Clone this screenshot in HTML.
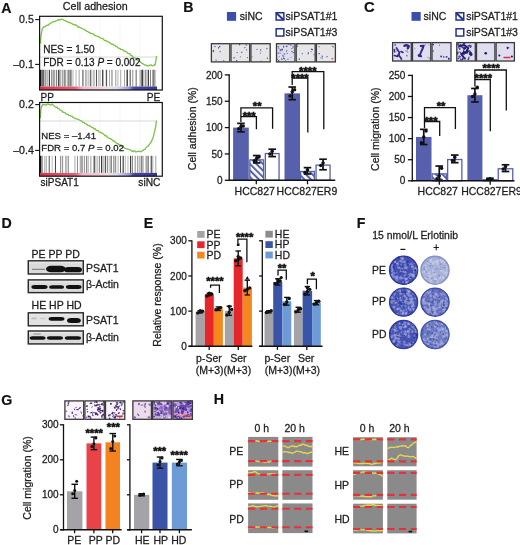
<!DOCTYPE html>
<html><head><meta charset="utf-8"><title>Figure</title>
<style>html,body{margin:0;padding:0;background:#fff;}body{width:520px;height:545px;overflow:hidden;}svg{display:block;filter:blur(0.3px);}</style>
</head><body>
<svg width="520" height="545" viewBox="0 0 520 545" font-family="'Liberation Sans', Arial, sans-serif"><text x="1.30" y="12.60" font-size="14.2" text-anchor="start" font-weight="bold" fill="#111" stroke="#111" stroke-width="0.2" >A</text>
<text x="183.30" y="12.40" font-size="14.2" text-anchor="start" font-weight="bold" fill="#111" stroke="#111" stroke-width="0.2" >B</text>
<text x="363.90" y="12.10" font-size="14.8" text-anchor="start" font-weight="bold" fill="#111" stroke="#111" stroke-width="0.2" >C</text>
<text x="1.50" y="228.30" font-size="14.2" text-anchor="start" font-weight="bold" fill="#111" stroke="#111" stroke-width="0.2" >D</text>
<text x="143.80" y="228.30" font-size="14.2" text-anchor="start" font-weight="bold" fill="#111" stroke="#111" stroke-width="0.2" >E</text>
<text x="356.80" y="228.30" font-size="14.2" text-anchor="start" font-weight="bold" fill="#111" stroke="#111" stroke-width="0.2" >F</text>
<text x="1.20" y="405.30" font-size="14.2" text-anchor="start" font-weight="bold" fill="#111" stroke="#111" stroke-width="0.2" >G</text>
<text x="213.80" y="403.90" font-size="14.2" text-anchor="start" font-weight="bold" fill="#111" stroke="#111" stroke-width="0.2" >H</text>
<text x="95.20" y="10.20" font-size="10.7" text-anchor="middle" font-weight="normal" fill="#1e1e1e" stroke="#1e1e1e" stroke-width="0.28" >Cell adhesion</text>
<line x1="60.00" y1="17.30" x2="60.00" y2="69.80" stroke="#f1f1f1" stroke-width="0.6" />
<line x1="80.00" y1="17.30" x2="80.00" y2="69.80" stroke="#f1f1f1" stroke-width="0.6" />
<line x1="100.00" y1="17.30" x2="100.00" y2="69.80" stroke="#f1f1f1" stroke-width="0.6" />
<line x1="120.00" y1="17.30" x2="120.00" y2="69.80" stroke="#f1f1f1" stroke-width="0.6" />
<line x1="140.00" y1="17.30" x2="140.00" y2="69.80" stroke="#f1f1f1" stroke-width="0.6" />
<line x1="39.60" y1="57.00" x2="157.00" y2="57.00" stroke="#cfcfcf" stroke-width="0.8" />
<line x1="40.60" y1="69.80" x2="40.60" y2="86.50" stroke="#111" stroke-width="1.6" />
<line x1="42.20" y1="69.80" x2="42.20" y2="86.50" stroke="rgb(60,60,60)" stroke-width="1.1" />
<line x1="43.78" y1="69.80" x2="43.78" y2="86.50" stroke="rgb(60,60,60)" stroke-width="1.1" />
<line x1="45.82" y1="69.80" x2="45.82" y2="86.50" stroke="rgb(40,40,40)" stroke-width="0.7" />
<line x1="47.88" y1="69.80" x2="47.88" y2="86.50" stroke="rgb(130,130,130)" stroke-width="0.9" />
<line x1="49.51" y1="69.80" x2="49.51" y2="86.50" stroke="rgb(40,40,40)" stroke-width="0.9" />
<line x1="51.70" y1="69.80" x2="51.70" y2="86.50" stroke="rgb(130,130,130)" stroke-width="1.1" />
<line x1="53.26" y1="69.80" x2="53.26" y2="86.50" stroke="rgb(110,110,110)" stroke-width="0.9" />
<line x1="54.41" y1="69.80" x2="54.41" y2="86.50" stroke="rgb(170,170,170)" stroke-width="1.1" />
<line x1="56.48" y1="69.80" x2="56.48" y2="86.50" stroke="rgb(130,130,130)" stroke-width="1.3" />
<line x1="58.81" y1="69.80" x2="58.81" y2="86.50" stroke="rgb(40,40,40)" stroke-width="1.3" />
<line x1="60.77" y1="69.80" x2="60.77" y2="86.50" stroke="rgb(110,110,110)" stroke-width="0.7" />
<line x1="62.55" y1="69.80" x2="62.55" y2="86.50" stroke="rgb(150,150,150)" stroke-width="0.9" />
<line x1="64.24" y1="69.80" x2="64.24" y2="86.50" stroke="rgb(110,110,110)" stroke-width="1.1" />
<line x1="65.60" y1="69.80" x2="65.60" y2="86.50" stroke="rgb(170,170,170)" stroke-width="1.3" />
<line x1="67.57" y1="69.80" x2="67.57" y2="86.50" stroke="rgb(190,190,190)" stroke-width="1.3" />
<line x1="68.95" y1="69.80" x2="68.95" y2="86.50" stroke="rgb(40,40,40)" stroke-width="0.9" />
<line x1="70.90" y1="69.80" x2="70.90" y2="86.50" stroke="rgb(60,60,60)" stroke-width="1.1" />
<line x1="72.98" y1="69.80" x2="72.98" y2="86.50" stroke="rgb(150,150,150)" stroke-width="0.7" />
<line x1="76.02" y1="69.80" x2="76.02" y2="86.50" stroke="rgb(150,150,150)" stroke-width="0.7" />
<line x1="79.16" y1="69.80" x2="79.16" y2="86.50" stroke="rgb(170,170,170)" stroke-width="1.1" />
<line x1="82.92" y1="69.80" x2="82.92" y2="86.50" stroke="rgb(85,85,85)" stroke-width="1.1" />
<line x1="85.96" y1="69.80" x2="85.96" y2="86.50" stroke="rgb(60,60,60)" stroke-width="0.7" />
<line x1="88.19" y1="69.80" x2="88.19" y2="86.50" stroke="rgb(190,190,190)" stroke-width="1.3" />
<line x1="90.32" y1="69.80" x2="90.32" y2="86.50" stroke="rgb(60,60,60)" stroke-width="0.9" />
<line x1="91.83" y1="69.80" x2="91.83" y2="86.50" stroke="rgb(150,150,150)" stroke-width="0.7" />
<line x1="93.98" y1="69.80" x2="93.98" y2="86.50" stroke="rgb(150,150,150)" stroke-width="1.1" />
<line x1="96.46" y1="69.80" x2="96.46" y2="86.50" stroke="rgb(60,60,60)" stroke-width="0.9" />
<line x1="98.50" y1="69.80" x2="98.50" y2="86.50" stroke="rgb(170,170,170)" stroke-width="0.7" />
<line x1="100.03" y1="69.80" x2="100.03" y2="86.50" stroke="rgb(150,150,150)" stroke-width="0.9" />
<line x1="102.73" y1="69.80" x2="102.73" y2="86.50" stroke="rgb(60,60,60)" stroke-width="1.3" />
<line x1="106.45" y1="69.80" x2="106.45" y2="86.50" stroke="rgb(85,85,85)" stroke-width="1.3" />
<line x1="109.50" y1="69.80" x2="109.50" y2="86.50" stroke="rgb(130,130,130)" stroke-width="0.7" />
<line x1="111.95" y1="69.80" x2="111.95" y2="86.50" stroke="rgb(150,150,150)" stroke-width="1.3" />
<line x1="115.75" y1="69.80" x2="115.75" y2="86.50" stroke="rgb(110,110,110)" stroke-width="0.7" />
<line x1="117.94" y1="69.80" x2="117.94" y2="86.50" stroke="rgb(150,150,150)" stroke-width="0.7" />
<line x1="120.71" y1="69.80" x2="120.71" y2="86.50" stroke="rgb(130,130,130)" stroke-width="0.7" />
<line x1="124.53" y1="69.80" x2="124.53" y2="86.50" stroke="rgb(130,130,130)" stroke-width="0.7" />
<line x1="127.19" y1="69.80" x2="127.19" y2="86.50" stroke="rgb(40,40,40)" stroke-width="1.3" />
<line x1="130.19" y1="69.80" x2="130.19" y2="86.50" stroke="rgb(85,85,85)" stroke-width="1.1" />
<line x1="132.77" y1="69.80" x2="132.77" y2="86.50" stroke="rgb(130,130,130)" stroke-width="0.9" />
<line x1="136.16" y1="69.80" x2="136.16" y2="86.50" stroke="rgb(110,110,110)" stroke-width="1.1" />
<line x1="140.07" y1="69.80" x2="140.07" y2="86.50" stroke="rgb(110,110,110)" stroke-width="0.7" />
<line x1="141.39" y1="69.80" x2="141.39" y2="86.50" stroke="rgb(40,40,40)" stroke-width="0.7" />
<line x1="142.66" y1="69.80" x2="142.66" y2="86.50" stroke="rgb(60,60,60)" stroke-width="1.3" />
<line x1="145.27" y1="69.80" x2="145.27" y2="86.50" stroke="rgb(130,130,130)" stroke-width="1.1" />
<line x1="146.70" y1="69.80" x2="146.70" y2="86.50" stroke="rgb(190,190,190)" stroke-width="1.1" />
<line x1="148.32" y1="69.80" x2="148.32" y2="86.50" stroke="rgb(40,40,40)" stroke-width="1.1" />
<line x1="150.48" y1="69.80" x2="150.48" y2="86.50" stroke="rgb(110,110,110)" stroke-width="0.9" />
<line x1="152.60" y1="69.80" x2="152.60" y2="86.50" stroke="rgb(150,150,150)" stroke-width="0.9" />
<line x1="153.92" y1="69.80" x2="153.92" y2="86.50" stroke="rgb(60,60,60)" stroke-width="1.1" />
<line x1="155.21" y1="69.80" x2="155.21" y2="86.50" stroke="rgb(170,170,170)" stroke-width="0.9" />
<rect x="40.10" y="86.50" width="116.90" height="3.50" fill="url(#gseaGrad)"/>
<path d="M40.20,43.74 L40.60,40.04 L41.00,35.87 L41.60,32.60 L42.20,29.13 L43.10,27.57 L44.00,26.51 L45.00,26.84 L46.00,25.76 L47.00,25.23 L48.00,25.33 L49.00,24.14 L50.00,23.84 L51.00,22.98 L52.00,22.64 L53.00,21.65 L54.00,21.63 L55.00,21.49 L56.00,20.77 L57.00,20.62 L58.00,20.17 L59.00,19.36 L60.00,19.86 L61.00,19.49 L62.00,19.40 L63.00,19.33 L64.00,20.37 L65.00,20.41 L66.00,21.09 L67.00,21.68 L68.00,21.95 L69.00,22.59 L70.00,22.49 L71.00,23.39 L72.00,23.52 L73.00,24.51 L74.00,24.94 L75.00,24.65 L76.00,25.18 L77.00,25.75 L78.00,26.99 L79.00,26.95 L80.00,27.63 L81.00,27.80 L82.00,28.51 L83.00,28.89 L84.00,29.35 L85.00,30.09 L86.00,30.58 L87.00,31.40 L88.00,31.68 L89.00,32.43 L90.00,32.86 L91.00,33.49 L92.00,33.67 L93.00,33.66 L94.00,34.86 L95.00,35.46 L96.00,35.90 L97.00,36.07 L98.00,36.71 L99.00,36.71 L100.00,37.83 L101.00,38.12 L102.00,38.38 L103.00,38.71 L104.00,40.05 L105.00,40.74 L106.00,40.39 L107.00,41.65 L108.00,41.81 L109.00,42.10 L110.00,42.79 L111.00,43.82 L112.00,44.47 L113.00,44.19 L114.00,45.31 L115.00,45.29 L116.00,46.52 L117.00,46.68 L118.00,47.78 L119.00,48.43 L120.00,48.51 L121.00,49.60 L122.00,49.51 L123.00,49.88 L124.00,51.00 L125.00,51.03 L126.00,51.80 L127.00,52.61 L128.00,53.41 L129.00,53.56 L130.00,54.04 L131.00,55.56 L132.00,55.69 L133.00,57.02 L134.00,57.65 L135.00,57.82 L136.00,58.59 L137.00,59.33 L138.00,60.14 L139.00,60.85 L140.00,61.56 L141.00,62.37 L142.00,63.44 L143.00,63.76 L144.00,64.43 L145.00,65.15 L146.00,65.10 L147.00,65.60 L148.00,66.08 L149.00,65.42 L150.00,65.25 L151.00,64.91 L152.00,65.52 L153.00,65.88 L154.00,64.92 L155.00,65.12 L155.50,62.63 L156.00,59.56 L156.30,58.13 L156.60,56.00" stroke="#7cc144" stroke-width="1.3" fill="none" stroke-linejoin="round"/>
<rect x="39.60" y="16.30" width="122.70" height="73.70" fill="none" stroke="#111" stroke-width="1.2" />
<line x1="35.20" y1="19.60" x2="39.60" y2="19.60" stroke="#111" stroke-width="1.1" />
<text x="33.80" y="23.40" font-size="10.6" text-anchor="end" font-weight="normal" fill="#1e1e1e" stroke="#1e1e1e" stroke-width="0.28" >0.5</text>
<line x1="35.20" y1="64.40" x2="39.60" y2="64.40" stroke="#111" stroke-width="1.1" />
<text x="33.80" y="68.20" font-size="10.6" text-anchor="end" font-weight="normal" fill="#1e1e1e" stroke="#1e1e1e" stroke-width="0.28" >–0.1</text>
<text x="43.20" y="53.00" font-size="10" text-anchor="start" font-weight="normal" fill="#1e1e1e" stroke="#1e1e1e" stroke-width="0.28" >NES = 1.50</text>
<text x="43.20" y="66.00" font-size="10" fill="#1e1e1e" stroke="#1e1e1e" stroke-width="0.28">FDR = 0.13 <tspan font-style="italic">P</tspan> = 0.002</text>
<text x="40.60" y="100.60" font-size="10" text-anchor="start" font-weight="normal" fill="#1e1e1e" stroke="#1e1e1e" stroke-width="0.28" >PP</text>
<text x="160.40" y="100.60" font-size="10.2" text-anchor="end" font-weight="normal" fill="#1e1e1e" stroke="#1e1e1e" stroke-width="0.28" >PE</text>
<line x1="60.00" y1="103.50" x2="60.00" y2="155.80" stroke="#f1f1f1" stroke-width="0.6" />
<line x1="80.00" y1="103.50" x2="80.00" y2="155.80" stroke="#f1f1f1" stroke-width="0.6" />
<line x1="100.00" y1="103.50" x2="100.00" y2="155.80" stroke="#f1f1f1" stroke-width="0.6" />
<line x1="120.00" y1="103.50" x2="120.00" y2="155.80" stroke="#f1f1f1" stroke-width="0.6" />
<line x1="140.00" y1="103.50" x2="140.00" y2="155.80" stroke="#f1f1f1" stroke-width="0.6" />
<line x1="39.60" y1="121.00" x2="157.00" y2="121.00" stroke="#cfcfcf" stroke-width="0.8" />
<line x1="40.60" y1="155.80" x2="40.60" y2="172.90" stroke="#111" stroke-width="1.6" />
<line x1="42.20" y1="155.80" x2="42.20" y2="172.90" stroke="rgb(130,130,130)" stroke-width="1.1" />
<line x1="44.84" y1="155.80" x2="44.84" y2="172.90" stroke="rgb(170,170,170)" stroke-width="1.1" />
<line x1="46.44" y1="155.80" x2="46.44" y2="172.90" stroke="rgb(170,170,170)" stroke-width="0.9" />
<line x1="49.22" y1="155.80" x2="49.22" y2="172.90" stroke="rgb(60,60,60)" stroke-width="0.9" />
<line x1="52.18" y1="155.80" x2="52.18" y2="172.90" stroke="rgb(190,190,190)" stroke-width="1.1" />
<line x1="55.46" y1="155.80" x2="55.46" y2="172.90" stroke="rgb(40,40,40)" stroke-width="0.9" />
<line x1="60.68" y1="155.80" x2="60.68" y2="172.90" stroke="rgb(110,110,110)" stroke-width="0.9" />
<line x1="62.61" y1="155.80" x2="62.61" y2="172.90" stroke="rgb(85,85,85)" stroke-width="0.7" />
<line x1="65.92" y1="155.80" x2="65.92" y2="172.90" stroke="rgb(150,150,150)" stroke-width="1.3" />
<line x1="68.22" y1="155.80" x2="68.22" y2="172.90" stroke="rgb(60,60,60)" stroke-width="0.7" />
<line x1="74.95" y1="155.80" x2="74.95" y2="172.90" stroke="rgb(130,130,130)" stroke-width="0.7" />
<line x1="77.49" y1="155.80" x2="77.49" y2="172.90" stroke="rgb(130,130,130)" stroke-width="0.9" />
<line x1="80.29" y1="155.80" x2="80.29" y2="172.90" stroke="rgb(110,110,110)" stroke-width="0.7" />
<line x1="82.00" y1="155.80" x2="82.00" y2="172.90" stroke="rgb(60,60,60)" stroke-width="0.9" />
<line x1="84.38" y1="155.80" x2="84.38" y2="172.90" stroke="rgb(130,130,130)" stroke-width="0.9" />
<line x1="86.62" y1="155.80" x2="86.62" y2="172.90" stroke="rgb(130,130,130)" stroke-width="1.1" />
<line x1="88.20" y1="155.80" x2="88.20" y2="172.90" stroke="rgb(130,130,130)" stroke-width="0.7" />
<line x1="90.87" y1="155.80" x2="90.87" y2="172.90" stroke="rgb(110,110,110)" stroke-width="0.7" />
<line x1="94.17" y1="155.80" x2="94.17" y2="172.90" stroke="rgb(40,40,40)" stroke-width="1.1" />
<line x1="95.93" y1="155.80" x2="95.93" y2="172.90" stroke="rgb(130,130,130)" stroke-width="0.7" />
<line x1="97.81" y1="155.80" x2="97.81" y2="172.90" stroke="rgb(150,150,150)" stroke-width="0.7" />
<line x1="99.52" y1="155.80" x2="99.52" y2="172.90" stroke="rgb(130,130,130)" stroke-width="0.9" />
<line x1="101.63" y1="155.80" x2="101.63" y2="172.90" stroke="rgb(60,60,60)" stroke-width="1.3" />
<line x1="103.81" y1="155.80" x2="103.81" y2="172.90" stroke="rgb(130,130,130)" stroke-width="0.7" />
<line x1="105.44" y1="155.80" x2="105.44" y2="172.90" stroke="rgb(85,85,85)" stroke-width="1.1" />
<line x1="107.46" y1="155.80" x2="107.46" y2="172.90" stroke="rgb(150,150,150)" stroke-width="1.3" />
<line x1="109.27" y1="155.80" x2="109.27" y2="172.90" stroke="rgb(170,170,170)" stroke-width="0.7" />
<line x1="111.16" y1="155.80" x2="111.16" y2="172.90" stroke="rgb(110,110,110)" stroke-width="1.3" />
<line x1="113.83" y1="155.80" x2="113.83" y2="172.90" stroke="rgb(130,130,130)" stroke-width="1.1" />
<line x1="115.56" y1="155.80" x2="115.56" y2="172.90" stroke="rgb(150,150,150)" stroke-width="1.3" />
<line x1="118.11" y1="155.80" x2="118.11" y2="172.90" stroke="rgb(170,170,170)" stroke-width="0.9" />
<line x1="120.52" y1="155.80" x2="120.52" y2="172.90" stroke="rgb(60,60,60)" stroke-width="0.9" />
<line x1="123.19" y1="155.80" x2="123.19" y2="172.90" stroke="rgb(85,85,85)" stroke-width="1.3" />
<line x1="125.27" y1="155.80" x2="125.27" y2="172.90" stroke="rgb(190,190,190)" stroke-width="1.1" />
<line x1="127.98" y1="155.80" x2="127.98" y2="172.90" stroke="rgb(190,190,190)" stroke-width="1.1" />
<line x1="130.56" y1="155.80" x2="130.56" y2="172.90" stroke="rgb(60,60,60)" stroke-width="1.1" />
<line x1="132.37" y1="155.80" x2="132.37" y2="172.90" stroke="rgb(130,130,130)" stroke-width="1.1" />
<line x1="135.20" y1="155.80" x2="135.20" y2="172.90" stroke="rgb(150,150,150)" stroke-width="1.1" />
<line x1="137.76" y1="155.80" x2="137.76" y2="172.90" stroke="rgb(85,85,85)" stroke-width="0.7" />
<line x1="139.90" y1="155.80" x2="139.90" y2="172.90" stroke="rgb(130,130,130)" stroke-width="0.9" />
<line x1="141.87" y1="155.80" x2="141.87" y2="172.90" stroke="rgb(40,40,40)" stroke-width="0.9" />
<line x1="143.45" y1="155.80" x2="143.45" y2="172.90" stroke="rgb(190,190,190)" stroke-width="0.9" />
<line x1="146.18" y1="155.80" x2="146.18" y2="172.90" stroke="rgb(130,130,130)" stroke-width="1.1" />
<line x1="148.09" y1="155.80" x2="148.09" y2="172.90" stroke="rgb(40,40,40)" stroke-width="0.9" />
<line x1="151.24" y1="155.80" x2="151.24" y2="172.90" stroke="rgb(60,60,60)" stroke-width="1.1" />
<line x1="152.77" y1="155.80" x2="152.77" y2="172.90" stroke="rgb(130,130,130)" stroke-width="0.7" />
<line x1="155.80" y1="155.80" x2="155.80" y2="172.90" stroke="rgb(170,170,170)" stroke-width="1.1" />
<rect x="40.10" y="172.90" width="116.90" height="3.30" fill="url(#gseaGrad)"/>
<path d="M40.30,118.12 L40.55,114.24 L40.80,110.30 L41.10,108.69 L41.40,106.74 L41.95,106.17 L42.50,104.53 L43.25,104.67 L44.00,104.84 L45.00,104.75 L46.00,105.20 L47.00,104.11 L48.00,104.17 L49.00,104.35 L50.00,105.04 L51.00,104.87 L52.00,104.11 L53.00,104.92 L54.00,105.58 L55.00,106.82 L56.00,107.27 L57.00,107.26 L58.00,108.50 L59.00,108.66 L60.00,109.97 L61.00,110.30 L62.00,111.00 L63.00,112.37 L64.00,112.21 L65.00,112.72 L66.00,113.98 L67.00,114.37 L68.00,114.29 L69.00,115.46 L70.00,115.54 L71.00,116.18 L72.00,116.20 L73.00,117.44 L74.00,117.69 L75.00,118.47 L76.00,118.89 L77.00,118.80 L78.00,119.36 L79.00,119.73 L80.00,120.27 L81.00,120.75 L82.00,121.55 L83.00,122.42 L84.00,122.38 L85.00,123.62 L86.00,123.84 L87.00,124.37 L88.00,125.44 L89.00,125.67 L90.00,126.07 L91.00,126.79 L92.00,127.58 L93.00,127.49 L94.00,128.98 L95.00,128.65 L96.00,130.00 L97.00,130.72 L98.00,130.52 L99.00,131.91 L100.00,132.12 L101.00,132.95 L102.00,133.01 L103.00,133.67 L104.00,134.43 L105.00,135.83 L106.00,135.70 L107.00,136.88 L108.00,137.68 L109.00,138.32 L110.00,138.34 L111.00,139.02 L112.00,139.86 L113.00,140.78 L114.00,140.77 L115.00,142.08 L116.00,142.80 L117.00,143.53 L118.00,143.37 L119.00,144.95 L120.00,144.76 L121.00,145.67 L122.00,146.61 L123.00,147.42 L124.00,147.34 L125.00,148.42 L126.00,148.55 L127.00,148.81 L128.00,149.22 L129.00,149.48 L130.00,149.78 L131.00,150.25 L132.00,151.19 L133.00,151.62 L134.00,150.90 L135.00,150.91 L136.00,151.97 L137.00,151.63 L138.00,151.46 L139.00,151.24 L140.00,151.54 L141.00,151.73 L142.00,150.89 L143.00,150.39 L144.00,149.56 L145.00,149.42 L146.00,147.53 L147.00,146.99 L148.25,146.09 L149.50,144.13 L150.50,142.98 L151.50,141.45 L152.45,138.88 L153.40,136.79 L154.10,133.36 L154.80,130.93 L155.30,128.15 L155.80,126.34 L156.10,123.04 L156.40,120.50" stroke="#7cc144" stroke-width="1.3" fill="none" stroke-linejoin="round"/>
<rect x="39.60" y="102.50" width="122.70" height="73.70" fill="none" stroke="#111" stroke-width="1.2" />
<line x1="35.20" y1="104.60" x2="39.60" y2="104.60" stroke="#111" stroke-width="1.1" />
<text x="33.80" y="108.40" font-size="10.6" text-anchor="end" font-weight="normal" fill="#1e1e1e" stroke="#1e1e1e" stroke-width="0.28" >0.2</text>
<line x1="35.20" y1="150.40" x2="39.60" y2="150.40" stroke="#111" stroke-width="1.1" />
<text x="33.80" y="154.20" font-size="10.6" text-anchor="end" font-weight="normal" fill="#1e1e1e" stroke="#1e1e1e" stroke-width="0.28" >–0.4</text>
<text x="41.30" y="138.60" font-size="9.6" text-anchor="start" font-weight="normal" fill="#1e1e1e" stroke="#1e1e1e" stroke-width="0.28" >NES = –1.41</text>
<text x="41.30" y="151.20" font-size="9.6" fill="#1e1e1e" stroke="#1e1e1e" stroke-width="0.28">FDR = 0.7 <tspan font-style="italic">P</tspan> = 0.02</text>
<text x="40.60" y="186.30" font-size="10" text-anchor="start" font-weight="normal" fill="#1e1e1e" stroke="#1e1e1e" stroke-width="0.28" >siPSAT1</text>
<text x="160.40" y="186.30" font-size="10.2" text-anchor="end" font-weight="normal" fill="#1e1e1e" stroke="#1e1e1e" stroke-width="0.28" >siNC</text>
<defs>
<linearGradient id="gseaGrad" x1="0" x2="1" y1="0" y2="0">
<stop offset="0" stop-color="#d9324a"/><stop offset="0.3" stop-color="#e0647c"/><stop offset="0.36" stop-color="#f2b4c8"/>
<stop offset="0.58" stop-color="#f0dbe8"/><stop offset="0.66" stop-color="#d8d8f0"/><stop offset="0.76" stop-color="#9a9ad4"/>
<stop offset="0.8" stop-color="#4848a6"/><stop offset="1" stop-color="#36369a"/></linearGradient>
<pattern id="hatch" patternUnits="userSpaceOnUse" width="4.6" height="4.6" patternTransform="rotate(-45)">
<rect width="4.6" height="4.6" fill="#fff"/><rect x="0" y="0" width="2.0" height="4.6" fill="#5660ad"/></pattern>
</defs>
<rect x="226.90" y="12.00" width="9.20" height="8.80" fill="#3a4ead" stroke="none" stroke-width="1" />
<text x="239.80" y="20.20" font-size="10.5" text-anchor="start" font-weight="normal" fill="#1e1e1e" stroke="#1e1e1e" stroke-width="0.28" >siNC</text>
<rect x="276.15" y="12.75" width="7.70" height="7.30" fill="#fff" stroke="#24338e" stroke-width="1.5" />
<line x1="276.30" y1="12.90" x2="283.70" y2="19.90" stroke="#24338e" stroke-width="2.0" />
<text x="285.60" y="20.20" font-size="10.5" text-anchor="start" font-weight="normal" fill="#1e1e1e" stroke="#1e1e1e" stroke-width="0.28" >siPSAT1#1</text>
<rect x="276.15" y="28.75" width="7.70" height="7.30" fill="#fff" stroke="#24338e" stroke-width="1.5" />
<text x="285.60" y="36.30" font-size="10.5" text-anchor="start" font-weight="normal" fill="#1e1e1e" stroke="#1e1e1e" stroke-width="0.28" >siPSAT1#3</text>
<clipPath id="th2108"><rect x="210.80" y="43.10" width="19.60" height="19.40"/></clipPath><g clip-path="url(#th2108)">
<rect x="210.80" y="43.10" width="19.60" height="19.40" fill="#e6e6e8" stroke="none" stroke-width="1" />
<ellipse cx="215.02" cy="46.54" rx="0.79" ry="0.56" transform="rotate(76 215.02 46.54)" fill="#3a3a80" opacity="0.91"/>
<ellipse cx="219.69" cy="46.60" rx="0.70" ry="0.68" transform="rotate(126 219.69 46.60)" fill="#3a3a80" opacity="0.98"/>
<ellipse cx="218.58" cy="47.84" rx="0.70" ry="0.66" transform="rotate(125 218.58 47.84)" fill="#3a3a80" opacity="0.91"/>
<ellipse cx="220.10" cy="51.57" rx="0.72" ry="0.52" transform="rotate(80 220.10 51.57)" fill="#3a3a80" opacity="0.92"/>
<ellipse cx="213.58" cy="51.78" rx="0.75" ry="0.58" transform="rotate(4 213.58 51.78)" fill="#5a5a98" opacity="0.95"/>
<ellipse cx="213.37" cy="50.80" rx="0.76" ry="0.69" transform="rotate(172 213.37 50.80)" fill="#3a3a80" opacity="1.00"/>
<ellipse cx="216.06" cy="60.03" rx="0.63" ry="0.51" transform="rotate(168 216.06 60.03)" fill="#3a3a80" opacity="0.95"/>
<ellipse cx="223.80" cy="60.71" rx="0.51" ry="0.65" transform="rotate(142 223.80 60.71)" fill="#3a3a80" opacity="0.95"/>
</g>
<rect x="211.40" y="43.70" width="18.40" height="18.20" fill="none" stroke="#3a3a3a" stroke-width="1.3" />
<clipPath id="th2304"><rect x="230.40" y="43.10" width="19.90" height="19.40"/></clipPath><g clip-path="url(#th2304)">
<rect x="230.40" y="43.10" width="19.90" height="19.40" fill="#e6e6e8" stroke="none" stroke-width="1" />
<ellipse cx="237.18" cy="52.56" rx="0.55" ry="0.62" transform="rotate(76 237.18 52.56)" fill="#3a3a80" opacity="0.90"/>
<ellipse cx="236.75" cy="60.70" rx="0.71" ry="0.63" transform="rotate(34 236.75 60.70)" fill="#3a3a80" opacity="0.99"/>
<ellipse cx="246.69" cy="49.98" rx="0.72" ry="0.53" transform="rotate(46 246.69 49.98)" fill="#5a5a98" opacity="0.89"/>
<ellipse cx="244.87" cy="47.64" rx="0.76" ry="0.69" transform="rotate(167 244.87 47.64)" fill="#5a5a98" opacity="0.88"/>
<ellipse cx="240.39" cy="56.88" rx="0.60" ry="0.50" transform="rotate(130 240.39 56.88)" fill="#5a5a98" opacity="0.95"/>
<ellipse cx="246.17" cy="44.94" rx="0.75" ry="0.60" transform="rotate(45 246.17 44.94)" fill="#3a3a80" opacity="0.98"/>
<ellipse cx="234.07" cy="57.79" rx="0.73" ry="0.69" transform="rotate(46 234.07 57.79)" fill="#3a3a80" opacity="0.90"/>
<ellipse cx="241.78" cy="52.31" rx="0.79" ry="0.68" transform="rotate(116 241.78 52.31)" fill="#5a5a98" opacity="0.94"/>
<ellipse cx="239.57" cy="44.65" rx="0.73" ry="0.62" transform="rotate(65 239.57 44.65)" fill="#3a3a80" opacity="1.00"/>
<ellipse cx="247.33" cy="57.65" rx="0.55" ry="0.51" transform="rotate(154 247.33 57.65)" fill="#3a3a80" opacity="0.98"/>
</g>
<rect x="231.00" y="43.70" width="18.70" height="18.20" fill="none" stroke="#3a3a3a" stroke-width="1.3" />
<clipPath id="th2503"><rect x="250.30" y="43.10" width="20.50" height="19.40"/></clipPath><g clip-path="url(#th2503)">
<rect x="250.30" y="43.10" width="20.50" height="19.40" fill="#e6e6e8" stroke="none" stroke-width="1" />
<ellipse cx="260.86" cy="50.95" rx="0.56" ry="0.60" transform="rotate(145 260.86 50.95)" fill="#5a5a98" opacity="0.86"/>
<ellipse cx="267.35" cy="58.15" rx="0.79" ry="0.51" transform="rotate(54 267.35 58.15)" fill="#3a3a80" opacity="0.99"/>
<ellipse cx="260.27" cy="53.15" rx="0.72" ry="0.56" transform="rotate(83 260.27 53.15)" fill="#5a5a98" opacity="0.89"/>
<ellipse cx="260.99" cy="61.10" rx="0.52" ry="0.54" transform="rotate(19 260.99 61.10)" fill="#5a5a98" opacity="0.99"/>
<ellipse cx="266.86" cy="48.49" rx="0.69" ry="0.58" transform="rotate(108 266.86 48.49)" fill="#3a3a80" opacity="0.88"/>
<ellipse cx="252.09" cy="56.67" rx="0.54" ry="0.52" transform="rotate(168 252.09 56.67)" fill="#5a5a98" opacity="0.93"/>
<ellipse cx="260.75" cy="49.72" rx="0.67" ry="0.67" transform="rotate(125 260.75 49.72)" fill="#5a5a98" opacity="0.87"/>
<ellipse cx="257.05" cy="49.45" rx="0.70" ry="0.57" transform="rotate(128 257.05 49.45)" fill="#5a5a98" opacity="0.92"/>
</g>
<rect x="250.90" y="43.70" width="19.30" height="18.20" fill="none" stroke="#3a3a3a" stroke-width="1.3" />
<clipPath id="th2759"><rect x="275.90" y="43.10" width="19.70" height="19.40"/></clipPath><g clip-path="url(#th2759)">
<rect x="275.90" y="43.10" width="19.70" height="19.40" fill="#dedee8" stroke="none" stroke-width="1" />
<ellipse cx="280.59" cy="49.56" rx="0.62" ry="0.62" transform="rotate(63 280.59 49.56)" fill="#6a70b0" opacity="0.96"/>
<ellipse cx="279.93" cy="51.00" rx="0.67" ry="0.64" transform="rotate(17 279.93 51.00)" fill="#8a90c8" opacity="0.87"/>
<ellipse cx="280.48" cy="50.30" rx="0.95" ry="0.74" transform="rotate(64 280.48 50.30)" fill="#6a70b0" opacity="0.92"/>
<ellipse cx="279.06" cy="48.60" rx="0.84" ry="0.79" transform="rotate(24 279.06 48.60)" fill="#8a90c8" opacity="0.92"/>
<ellipse cx="283.53" cy="58.36" rx="0.69" ry="0.60" transform="rotate(76 283.53 58.36)" fill="#3a4498" opacity="0.94"/>
<ellipse cx="281.71" cy="58.82" rx="0.58" ry="0.41" transform="rotate(119 281.71 58.82)" fill="#6a70b0" opacity="0.98"/>
<ellipse cx="288.85" cy="44.32" rx="0.56" ry="0.68" transform="rotate(161 288.85 44.32)" fill="#3a4498" opacity="0.86"/>
<ellipse cx="290.62" cy="44.62" rx="0.93" ry="0.67" transform="rotate(86 290.62 44.62)" fill="#8a90c8" opacity="0.95"/>
<ellipse cx="285.56" cy="60.34" rx="0.52" ry="0.59" transform="rotate(142 285.56 60.34)" fill="#5a62b0" opacity="0.91"/>
<ellipse cx="278.73" cy="46.98" rx="0.85" ry="0.74" transform="rotate(136 278.73 46.98)" fill="#8a90c8" opacity="0.91"/>
<ellipse cx="294.30" cy="52.07" rx="0.63" ry="0.40" transform="rotate(98 294.30 52.07)" fill="#5a62b0" opacity="0.97"/>
<ellipse cx="284.42" cy="54.24" rx="0.75" ry="0.66" transform="rotate(177 284.42 54.24)" fill="#8a90c8" opacity="0.96"/>
<ellipse cx="293.20" cy="46.54" rx="0.72" ry="0.66" transform="rotate(68 293.20 46.54)" fill="#5a62b0" opacity="0.93"/>
<ellipse cx="282.12" cy="49.64" rx="0.94" ry="0.79" transform="rotate(168 282.12 49.64)" fill="#3a4498" opacity="0.99"/>
<ellipse cx="293.16" cy="52.68" rx="0.79" ry="0.55" transform="rotate(154 293.16 52.68)" fill="#3a4498" opacity="0.95"/>
<ellipse cx="291.09" cy="57.47" rx="0.75" ry="0.49" transform="rotate(126 291.09 57.47)" fill="#8a90c8" opacity="0.89"/>
<ellipse cx="277.38" cy="53.75" rx="0.55" ry="0.55" transform="rotate(132 277.38 53.75)" fill="#8a90c8" opacity="0.99"/>
<ellipse cx="278.68" cy="60.45" rx="0.52" ry="0.48" transform="rotate(62 278.68 60.45)" fill="#3a4498" opacity="0.87"/>
<ellipse cx="284.47" cy="58.88" rx="0.65" ry="0.72" transform="rotate(108 284.47 58.88)" fill="#6a70b0" opacity="1.00"/>
<ellipse cx="287.91" cy="59.14" rx="0.91" ry="0.76" transform="rotate(170 287.91 59.14)" fill="#8a90c8" opacity="0.94"/>
<ellipse cx="286.58" cy="46.56" rx="0.87" ry="0.65" transform="rotate(176 286.58 46.56)" fill="#3a4498" opacity="0.95"/>
<ellipse cx="292.00" cy="51.44" rx="0.71" ry="0.71" transform="rotate(0 292.00 51.44)" fill="#5a62b0" opacity="0.96"/>
<ellipse cx="282.42" cy="49.15" rx="0.73" ry="0.40" transform="rotate(6 282.42 49.15)" fill="#6a70b0" opacity="0.98"/>
<ellipse cx="278.12" cy="46.54" rx="0.97" ry="0.49" transform="rotate(13 278.12 46.54)" fill="#6a70b0" opacity="0.94"/>
<ellipse cx="287.21" cy="53.36" rx="0.72" ry="0.70" transform="rotate(94 287.21 53.36)" fill="#6a70b0" opacity="0.90"/>
<ellipse cx="278.70" cy="60.82" rx="0.58" ry="0.73" transform="rotate(85 278.70 60.82)" fill="#3a4498" opacity="0.87"/>
<ellipse cx="279.06" cy="56.57" rx="0.51" ry="0.63" transform="rotate(51 279.06 56.57)" fill="#6a70b0" opacity="0.86"/>
<ellipse cx="291.83" cy="48.58" rx="0.66" ry="0.42" transform="rotate(175 291.83 48.58)" fill="#3a4498" opacity="0.99"/>
<ellipse cx="293.00" cy="47.77" rx="0.72" ry="0.67" transform="rotate(80 293.00 47.77)" fill="#6a70b0" opacity="0.89"/>
<ellipse cx="291.06" cy="45.18" rx="0.61" ry="0.61" transform="rotate(144 291.06 45.18)" fill="#5a62b0" opacity="0.90"/>
<ellipse cx="278.90" cy="61.20" rx="0.85" ry="0.44" transform="rotate(58 278.90 61.20)" fill="#3a4498" opacity="0.93"/>
<ellipse cx="294.15" cy="50.33" rx="0.65" ry="0.61" transform="rotate(33 294.15 50.33)" fill="#6a70b0" opacity="0.90"/>
<ellipse cx="283.66" cy="57.08" rx="0.97" ry="0.70" transform="rotate(99 283.66 57.08)" fill="#8a90c8" opacity="0.98"/>
<ellipse cx="284.39" cy="53.66" rx="0.91" ry="0.74" transform="rotate(179 284.39 53.66)" fill="#8a90c8" opacity="0.94"/>
<ellipse cx="283.62" cy="46.70" rx="0.98" ry="0.67" transform="rotate(81 283.62 46.70)" fill="#3a4498" opacity="0.92"/>
<ellipse cx="282.83" cy="55.59" rx="0.89" ry="0.79" transform="rotate(113 282.83 55.59)" fill="#6a70b0" opacity="0.87"/>
<ellipse cx="286.87" cy="45.96" rx="0.81" ry="0.72" transform="rotate(101 286.87 45.96)" fill="#6a70b0" opacity="0.97"/>
<ellipse cx="277.11" cy="59.37" rx="0.76" ry="0.64" transform="rotate(48 277.11 59.37)" fill="#3a4498" opacity="0.92"/>
<ellipse cx="281.96" cy="59.34" rx="0.75" ry="0.65" transform="rotate(110 281.96 59.34)" fill="#3a4498" opacity="0.94"/>
<ellipse cx="286.73" cy="50.97" rx="0.99" ry="0.50" transform="rotate(106 286.73 50.97)" fill="#3a4498" opacity="0.92"/>
<ellipse cx="280.81" cy="53.05" rx="0.60" ry="0.60" transform="rotate(81 280.81 53.05)" fill="#8a90c8" opacity="0.95"/>
<ellipse cx="278.78" cy="53.07" rx="0.58" ry="0.78" transform="rotate(130 278.78 53.07)" fill="#3a4498" opacity="0.98"/>
</g>
<rect x="276.50" y="43.70" width="18.50" height="18.20" fill="none" stroke="#3a3a3a" stroke-width="1.3" />
<clipPath id="th2956"><rect x="295.60" y="43.10" width="20.20" height="19.40"/></clipPath><g clip-path="url(#th2956)">
<rect x="295.60" y="43.10" width="20.20" height="19.40" fill="#e6e6e8" stroke="none" stroke-width="1" />
<ellipse cx="297.59" cy="46.14" rx="0.76" ry="0.60" transform="rotate(100 297.59 46.14)" fill="#5a5a98" opacity="0.99"/>
<ellipse cx="297.14" cy="44.51" rx="0.80" ry="0.53" transform="rotate(132 297.14 44.51)" fill="#5a5a98" opacity="0.92"/>
<ellipse cx="312.18" cy="49.56" rx="0.79" ry="0.67" transform="rotate(19 312.18 49.56)" fill="#3a3a80" opacity="0.99"/>
<ellipse cx="311.38" cy="49.14" rx="0.79" ry="0.59" transform="rotate(43 311.38 49.14)" fill="#3a3a80" opacity="0.86"/>
<ellipse cx="314.18" cy="54.60" rx="0.70" ry="0.68" transform="rotate(14 314.18 54.60)" fill="#5a5a98" opacity="0.88"/>
<ellipse cx="302.22" cy="53.68" rx="0.74" ry="0.54" transform="rotate(83 302.22 53.68)" fill="#3a3a80" opacity="0.88"/>
<ellipse cx="308.17" cy="53.76" rx="0.68" ry="0.65" transform="rotate(155 308.17 53.76)" fill="#3a3a80" opacity="0.88"/>
<ellipse cx="299.27" cy="59.15" rx="0.80" ry="0.70" transform="rotate(3 299.27 59.15)" fill="#3a3a80" opacity="0.95"/>
<ellipse cx="311.14" cy="51.53" rx="0.50" ry="0.65" transform="rotate(147 311.14 51.53)" fill="#5a5a98" opacity="0.89"/>
<ellipse cx="308.37" cy="52.79" rx="0.76" ry="0.60" transform="rotate(37 308.37 52.79)" fill="#5a5a98" opacity="0.91"/>
</g>
<rect x="296.20" y="43.70" width="19.00" height="18.20" fill="none" stroke="#3a3a3a" stroke-width="1.3" />
<clipPath id="th3158"><rect x="315.80" y="43.10" width="20.20" height="19.40"/></clipPath><g clip-path="url(#th3158)">
<rect x="315.80" y="43.10" width="20.20" height="19.40" fill="#e6e6e8" stroke="none" stroke-width="1" />
<ellipse cx="322.08" cy="58.09" rx="0.65" ry="0.51" transform="rotate(42 322.08 58.09)" fill="#3a3a80" opacity="0.98"/>
<ellipse cx="319.11" cy="53.60" rx="0.77" ry="0.54" transform="rotate(179 319.11 53.60)" fill="#3a3a80" opacity="1.00"/>
<ellipse cx="332.35" cy="46.48" rx="0.71" ry="0.53" transform="rotate(37 332.35 46.48)" fill="#5a5a98" opacity="0.86"/>
<ellipse cx="322.09" cy="56.01" rx="0.63" ry="0.65" transform="rotate(122 322.09 56.01)" fill="#5a5a98" opacity="0.87"/>
<ellipse cx="322.49" cy="56.57" rx="0.62" ry="0.69" transform="rotate(179 322.49 56.57)" fill="#5a5a98" opacity="0.91"/>
<ellipse cx="333.56" cy="46.90" rx="0.58" ry="0.52" transform="rotate(6 333.56 46.90)" fill="#3a3a80" opacity="1.00"/>
<ellipse cx="326.99" cy="56.75" rx="0.70" ry="0.55" transform="rotate(149 326.99 56.75)" fill="#3a3a80" opacity="0.92"/>
<ellipse cx="319.10" cy="46.76" rx="0.65" ry="0.52" transform="rotate(63 319.10 46.76)" fill="#5a5a98" opacity="1.00"/>
<ellipse cx="320.80" cy="57.80" rx="0.54" ry="0.52" transform="rotate(79 320.80 57.80)" fill="#5a5a98" opacity="0.86"/>
<circle cx="332.30" cy="58.60" r="0.90" fill="#e05060" />
</g>
<rect x="316.40" y="43.70" width="19.00" height="18.20" fill="none" stroke="#3a3a3a" stroke-width="1.3" />
<rect x="233.10" y="127.60" width="15.70" height="52.70" fill="#5660ad" stroke="none" stroke-width="1" />
<rect x="249.85" y="159.87" width="13.70" height="20.43" fill="url(#hatch)" stroke="#5660ad" stroke-width="1.3" />
<rect x="265.35" y="153.55" width="13.70" height="26.75" fill="#fff" stroke="#5660ad" stroke-width="1.3" />
<rect x="284.50" y="93.35" width="15.50" height="86.95" fill="#5660ad" stroke="none" stroke-width="1" />
<rect x="300.65" y="171.46" width="13.70" height="8.84" fill="url(#hatch)" stroke="#5660ad" stroke-width="1.3" />
<rect x="316.05" y="165.14" width="14.00" height="15.16" fill="#fff" stroke="#5660ad" stroke-width="1.3" />
<line x1="240.95" y1="123.38" x2="240.95" y2="131.82" stroke="#111" stroke-width="1.7" />
<line x1="237.15" y1="123.38" x2="244.75" y2="123.38" stroke="#111" stroke-width="1.7" />
<line x1="237.15" y1="131.82" x2="244.75" y2="131.82" stroke="#111" stroke-width="1.7" />
<circle cx="238.65" cy="128.65" r="1.75" fill="#111" />
<circle cx="240.95" cy="126.55" r="1.75" fill="#111" />
<circle cx="243.25" cy="126.02" r="1.75" fill="#111" />
<line x1="256.70" y1="155.53" x2="256.70" y2="162.91" stroke="#111" stroke-width="1.7" />
<line x1="252.90" y1="155.53" x2="260.50" y2="155.53" stroke="#111" stroke-width="1.7" />
<line x1="252.90" y1="162.91" x2="260.50" y2="162.91" stroke="#111" stroke-width="1.7" />
<circle cx="254.40" cy="160.80" r="1.75" fill="#111" />
<circle cx="256.70" cy="158.17" r="1.75" fill="#111" />
<circle cx="259.00" cy="157.11" r="1.75" fill="#111" />
<line x1="272.20" y1="149.21" x2="272.20" y2="156.59" stroke="#111" stroke-width="1.7" />
<line x1="268.40" y1="149.21" x2="276.00" y2="149.21" stroke="#111" stroke-width="1.7" />
<line x1="268.40" y1="156.59" x2="276.00" y2="156.59" stroke="#111" stroke-width="1.7" />
<circle cx="269.90" cy="153.95" r="1.75" fill="#111" />
<circle cx="272.20" cy="151.31" r="1.75" fill="#111" />
<line x1="292.25" y1="87.02" x2="292.25" y2="99.67" stroke="#111" stroke-width="1.7" />
<line x1="288.45" y1="87.02" x2="296.05" y2="87.02" stroke="#111" stroke-width="1.7" />
<line x1="288.45" y1="99.67" x2="296.05" y2="99.67" stroke="#111" stroke-width="1.7" />
<circle cx="289.95" cy="95.98" r="1.75" fill="#111" />
<circle cx="292.25" cy="91.76" r="1.75" fill="#111" />
<circle cx="294.55" cy="89.66" r="1.75" fill="#111" />
<line x1="307.50" y1="167.65" x2="307.50" y2="173.98" stroke="#111" stroke-width="1.7" />
<line x1="303.70" y1="167.65" x2="311.30" y2="167.65" stroke="#111" stroke-width="1.7" />
<line x1="303.70" y1="173.98" x2="311.30" y2="173.98" stroke="#111" stroke-width="1.7" />
<circle cx="305.20" cy="172.40" r="1.75" fill="#111" />
<circle cx="307.50" cy="169.76" r="1.75" fill="#111" />
<line x1="323.05" y1="159.22" x2="323.05" y2="169.76" stroke="#111" stroke-width="1.7" />
<line x1="319.25" y1="159.22" x2="326.85" y2="159.22" stroke="#111" stroke-width="1.7" />
<line x1="319.25" y1="169.76" x2="326.85" y2="169.76" stroke="#111" stroke-width="1.7" />
<circle cx="320.75" cy="165.54" r="1.75" fill="#111" />
<circle cx="323.05" cy="162.91" r="1.75" fill="#111" />
<path d="M240.90,122.00 L240.90,116.60 L256.40,116.60 L256.40,129.20" stroke="#111" stroke-width="1.3" fill="none" stroke-linejoin="miter"/>
<text x="249.20" y="120.01" font-size="11.2" text-anchor="middle" font-weight="bold" fill="#111" stroke="#111" stroke-width="0.55" >***</text>
<path d="M240.90,116.60 L240.90,107.80 L272.60,107.80 L272.60,128.80" stroke="#111" stroke-width="1.3" fill="none" stroke-linejoin="miter"/>
<text x="257.20" y="109.71" font-size="11.2" text-anchor="middle" font-weight="bold" fill="#111" stroke="#111" stroke-width="0.55" >**</text>
<path d="M292.20,85.00 L292.20,78.20 L307.80,78.20 L307.80,132.50" stroke="#111" stroke-width="1.3" fill="none" stroke-linejoin="miter"/>
<text x="300.00" y="81.71" font-size="11.2" text-anchor="middle" font-weight="bold" fill="#111" stroke="#111" stroke-width="0.55" >****</text>
<path d="M292.20,78.20 L292.20,71.60 L323.80,71.60 L323.80,129.20" stroke="#111" stroke-width="1.3" fill="none" stroke-linejoin="miter"/>
<text x="307.80" y="74.71" font-size="11.2" text-anchor="middle" font-weight="bold" fill="#111" stroke="#111" stroke-width="0.55" >****</text>
<line x1="229.20" y1="74.30" x2="229.20" y2="180.90" stroke="#111" stroke-width="1.3" />
<line x1="224.80" y1="180.30" x2="229.20" y2="180.30" stroke="#111" stroke-width="1.3" />
<text x="222.60" y="183.90" font-size="10" text-anchor="end" font-weight="normal" fill="#1e1e1e" stroke="#1e1e1e" stroke-width="0.28" >0</text>
<line x1="224.80" y1="153.95" x2="229.20" y2="153.95" stroke="#111" stroke-width="1.3" />
<text x="222.60" y="157.55" font-size="10" text-anchor="end" font-weight="normal" fill="#1e1e1e" stroke="#1e1e1e" stroke-width="0.28" >50</text>
<line x1="224.80" y1="127.60" x2="229.20" y2="127.60" stroke="#111" stroke-width="1.3" />
<text x="222.60" y="131.20" font-size="10" text-anchor="end" font-weight="normal" fill="#1e1e1e" stroke="#1e1e1e" stroke-width="0.28" >100</text>
<line x1="224.80" y1="101.25" x2="229.20" y2="101.25" stroke="#111" stroke-width="1.3" />
<text x="222.60" y="104.85" font-size="10" text-anchor="end" font-weight="normal" fill="#1e1e1e" stroke="#1e1e1e" stroke-width="0.28" >150</text>
<line x1="224.80" y1="74.90" x2="229.20" y2="74.90" stroke="#111" stroke-width="1.3" />
<text x="222.60" y="78.50" font-size="10" text-anchor="end" font-weight="normal" fill="#1e1e1e" stroke="#1e1e1e" stroke-width="0.28" >200</text>
<line x1="228.60" y1="180.30" x2="335.30" y2="180.30" stroke="#111" stroke-width="1.4" />
<line x1="256.30" y1="180.30" x2="256.30" y2="184.30" stroke="#111" stroke-width="1.3" />
<line x1="307.50" y1="180.30" x2="307.50" y2="184.30" stroke="#111" stroke-width="1.3" />
<text x="234.60" y="195.30" font-size="10.5" text-anchor="start" font-weight="normal" fill="#1e1e1e" stroke="#1e1e1e" stroke-width="0.28" >HCC827</text>
<text x="276.60" y="195.30" font-size="10.5" text-anchor="start" font-weight="normal" fill="#1e1e1e" stroke="#1e1e1e" stroke-width="0.28" >HCC827ER9</text>
<text x="195.80" y="128.70" font-size="10.5" text-anchor="middle" font-weight="normal" fill="#1e1e1e" stroke="#1e1e1e" stroke-width="0.28" transform="rotate(-90 195.80 128.70)">Cell adhesion (%)</text>
<rect x="411.50" y="12.00" width="9.20" height="8.80" fill="#3a4ead" stroke="none" stroke-width="1" />
<text x="423.60" y="20.20" font-size="10.5" text-anchor="start" font-weight="normal" fill="#1e1e1e" stroke="#1e1e1e" stroke-width="0.28" >siNC</text>
<rect x="456.05" y="12.75" width="7.70" height="7.30" fill="#fff" stroke="#24338e" stroke-width="1.5" />
<line x1="456.20" y1="12.90" x2="463.60" y2="19.90" stroke="#24338e" stroke-width="2.0" />
<text x="466.20" y="20.20" font-size="10.5" text-anchor="start" font-weight="normal" fill="#1e1e1e" stroke="#1e1e1e" stroke-width="0.28" >siPSAT1#1</text>
<rect x="456.05" y="28.75" width="7.70" height="7.30" fill="#fff" stroke="#24338e" stroke-width="1.5" />
<text x="466.20" y="36.30" font-size="10.5" text-anchor="start" font-weight="normal" fill="#1e1e1e" stroke="#1e1e1e" stroke-width="0.28" >siPSAT1#3</text>
<clipPath id="th3920"><rect x="392.00" y="42.00" width="19.90" height="19.60"/></clipPath><g clip-path="url(#th3920)">
<rect x="392.00" y="42.00" width="19.90" height="19.60" fill="#dedef0" stroke="none" stroke-width="1" />
<path d="M4.5,6 L6,8.5 L7.5,10.5 L6.5,13 L8.5,15.5 L9.5,17" stroke="#34268a" stroke-width="1.7" fill="none" stroke-linecap="round" stroke-linejoin="round" transform="translate(392.00,42.00)"/>
<path d="M2.5,13.5 L5.5,14.5 L7,12" stroke="#34268a" stroke-width="1.7" fill="none" stroke-linecap="round" stroke-linejoin="round" transform="translate(392.00,42.00)"/>
<path d="M12.5,3.8 Q14.5,2.4 16.8,4.2 L15.8,6.2" stroke="#34268a" stroke-width="2.4" fill="none" stroke-linecap="round" stroke-linejoin="round" transform="translate(392.00,42.00)"/>
<path d="M9,9.5 L11,10.5" stroke="#34268a" stroke-width="1.6" fill="none" stroke-linecap="round" stroke-linejoin="round" transform="translate(392.00,42.00)"/>
<path d="M2.2,7.5 L2.6,10" stroke="#34268a" stroke-width="1.4" fill="none" stroke-linecap="round" stroke-linejoin="round" transform="translate(392.00,42.00)"/>
<ellipse cx="395.20" cy="45.00" rx="1.00" ry="0.80" transform="rotate(0 395.20 45.00)" fill="#3a2a88" opacity="1.00"/>
<ellipse cx="407.77" cy="52.36" rx="0.71" ry="0.69" transform="rotate(33 407.77 52.36)" fill="#8070c0" opacity="0.72"/>
<ellipse cx="395.66" cy="49.82" rx="0.72" ry="0.77" transform="rotate(116 395.66 49.82)" fill="#8070c0" opacity="0.56"/>
<ellipse cx="396.26" cy="51.08" rx="0.68" ry="0.76" transform="rotate(104 396.26 51.08)" fill="#8070c0" opacity="0.75"/>
<ellipse cx="397.31" cy="48.65" rx="0.87" ry="0.63" transform="rotate(57 397.31 48.65)" fill="#6a5ab0" opacity="0.72"/>
<ellipse cx="406.90" cy="55.70" rx="0.79" ry="0.88" transform="rotate(112 406.90 55.70)" fill="#5a4aa0" opacity="0.73"/>
<ellipse cx="401.09" cy="60.11" rx="0.76" ry="0.80" transform="rotate(140 401.09 60.11)" fill="#8070c0" opacity="0.55"/>
<ellipse cx="405.97" cy="51.00" rx="1.20" ry="0.59" transform="rotate(32 405.97 51.00)" fill="#6a5ab0" opacity="0.57"/>
<ellipse cx="407.49" cy="50.82" rx="0.65" ry="0.75" transform="rotate(141 407.49 50.82)" fill="#5a4aa0" opacity="0.64"/>
</g>
<rect x="392.60" y="42.60" width="18.70" height="18.40" fill="none" stroke="#3a3a3a" stroke-width="1.3" />
<clipPath id="th4119"><rect x="411.90" y="42.00" width="19.50" height="19.60"/></clipPath><g clip-path="url(#th4119)">
<rect x="411.90" y="42.00" width="19.50" height="19.60" fill="#dedef0" stroke="none" stroke-width="1" />
<path d="M8.8,4 L11.8,3.6 L10.8,6.5 L9.4,9.5 L8.4,12 L6.8,13.6 L9.2,14.4" stroke="#34268a" stroke-width="1.9" fill="none" stroke-linecap="round" stroke-linejoin="round" transform="translate(411.90,42.00)"/>
<ellipse cx="422.50" cy="46.20" rx="1.80" ry="1.10" transform="rotate(-10 422.50 46.20)" fill="#34268a" opacity="1.00"/>
<ellipse cx="419.70" cy="55.60" rx="2.00" ry="1.30" transform="rotate(10 419.70 55.60)" fill="#34268a" opacity="1.00"/>
<ellipse cx="414.86" cy="48.53" rx="0.88" ry="0.64" transform="rotate(61 414.86 48.53)" fill="#8a7ac8" opacity="0.54"/>
<ellipse cx="427.96" cy="57.47" rx="0.64" ry="0.84" transform="rotate(73 427.96 57.47)" fill="#8a7ac8" opacity="0.62"/>
<ellipse cx="428.77" cy="45.02" rx="1.08" ry="0.65" transform="rotate(138 428.77 45.02)" fill="#8a7ac8" opacity="0.43"/>
<ellipse cx="425.34" cy="44.63" rx="0.68" ry="0.81" transform="rotate(163 425.34 44.63)" fill="#7a6ab8" opacity="0.63"/>
<ellipse cx="429.71" cy="58.35" rx="1.05" ry="0.80" transform="rotate(60 429.71 58.35)" fill="#7a6ab8" opacity="0.62"/>
</g>
<rect x="412.50" y="42.60" width="18.30" height="18.40" fill="none" stroke="#3a3a3a" stroke-width="1.3" />
<clipPath id="th4314"><rect x="431.40" y="42.00" width="20.20" height="19.60"/></clipPath><g clip-path="url(#th4314)">
<rect x="431.40" y="42.00" width="20.20" height="19.60" fill="#dedef0" stroke="none" stroke-width="1" />
<circle cx="433.20" cy="44.60" r="0.80" fill="#2a2070" />
<circle cx="439.40" cy="45.00" r="0.50" fill="#2a2070" />
<circle cx="433.00" cy="51.00" r="0.70" fill="#2a2070" />
<circle cx="441.20" cy="56.40" r="0.90" fill="#2a2070" />
<circle cx="443.80" cy="57.00" r="0.80" fill="#2a2070" />
<circle cx="446.60" cy="56.80" r="0.90" fill="#2a2070" />
<circle cx="448.80" cy="58.80" r="1.00" fill="#2a2070" />
</g>
<rect x="432.00" y="42.60" width="19.00" height="18.40" fill="none" stroke="#3a3a3a" stroke-width="1.3" />
<clipPath id="th4562"><rect x="456.20" y="42.00" width="19.70" height="19.60"/></clipPath><g clip-path="url(#th4562)">
<rect x="456.20" y="42.00" width="19.70" height="19.60" fill="#dedef0" stroke="none" stroke-width="1" />
<ellipse cx="466.97" cy="52.59" rx="1.37" ry="1.11" transform="rotate(160 466.97 52.59)" fill="#1e1a68" opacity="0.90"/>
<ellipse cx="464.80" cy="47.78" rx="1.72" ry="0.84" transform="rotate(32 464.80 47.78)" fill="#3a2a88" opacity="0.96"/>
<ellipse cx="460.34" cy="46.66" rx="1.28" ry="0.63" transform="rotate(10 460.34 46.66)" fill="#3a2a88" opacity="0.93"/>
<ellipse cx="464.73" cy="53.40" rx="1.57" ry="0.96" transform="rotate(140 464.73 53.40)" fill="#3a2a88" opacity="0.90"/>
<ellipse cx="469.87" cy="50.92" rx="0.99" ry="0.74" transform="rotate(44 469.87 50.92)" fill="#4a3a9a" opacity="0.85"/>
<ellipse cx="470.69" cy="46.64" rx="1.49" ry="0.86" transform="rotate(116 470.69 46.64)" fill="#2a2478" opacity="0.89"/>
<ellipse cx="462.57" cy="59.19" rx="1.40" ry="1.02" transform="rotate(113 462.57 59.19)" fill="#2a2478" opacity="0.89"/>
<ellipse cx="458.88" cy="47.55" rx="1.25" ry="0.65" transform="rotate(89 458.88 47.55)" fill="#4a3a9a" opacity="0.93"/>
<ellipse cx="469.83" cy="53.89" rx="1.02" ry="1.02" transform="rotate(146 469.83 53.89)" fill="#3a2a88" opacity="0.98"/>
<ellipse cx="463.83" cy="49.07" rx="1.19" ry="0.71" transform="rotate(45 463.83 49.07)" fill="#3a2a88" opacity="0.95"/>
<ellipse cx="470.10" cy="52.24" rx="0.99" ry="1.13" transform="rotate(92 470.10 52.24)" fill="#2a2478" opacity="0.94"/>
<ellipse cx="464.14" cy="43.54" rx="1.23" ry="0.73" transform="rotate(176 464.14 43.54)" fill="#2a2478" opacity="0.93"/>
<ellipse cx="470.97" cy="55.14" rx="1.06" ry="1.04" transform="rotate(162 470.97 55.14)" fill="#4a3a9a" opacity="0.97"/>
<ellipse cx="460.14" cy="52.19" rx="1.02" ry="0.60" transform="rotate(23 460.14 52.19)" fill="#2a2478" opacity="0.93"/>
<ellipse cx="458.18" cy="44.28" rx="1.35" ry="0.98" transform="rotate(146 458.18 44.28)" fill="#4a3a9a" opacity="0.96"/>
<ellipse cx="460.76" cy="59.63" rx="1.53" ry="0.75" transform="rotate(57 460.76 59.63)" fill="#4a3a9a" opacity="0.86"/>
<ellipse cx="470.56" cy="54.38" rx="1.42" ry="0.90" transform="rotate(94 470.56 54.38)" fill="#3a2a88" opacity="0.89"/>
<ellipse cx="468.47" cy="59.09" rx="1.21" ry="0.65" transform="rotate(149 468.47 59.09)" fill="#2a2478" opacity="0.85"/>
<ellipse cx="471.60" cy="54.31" rx="1.14" ry="1.02" transform="rotate(81 471.60 54.31)" fill="#1e1a68" opacity="0.90"/>
<ellipse cx="463.92" cy="51.46" rx="0.80" ry="0.77" transform="rotate(115 463.92 51.46)" fill="#1e1a68" opacity="0.86"/>
<ellipse cx="463.58" cy="51.91" rx="0.97" ry="0.83" transform="rotate(117 463.58 51.91)" fill="#2a2478" opacity="0.98"/>
<ellipse cx="459.33" cy="45.85" rx="1.07" ry="0.77" transform="rotate(127 459.33 45.85)" fill="#1e1a68" opacity="0.90"/>
<ellipse cx="468.51" cy="45.79" rx="1.10" ry="0.76" transform="rotate(23 468.51 45.79)" fill="#3a2a88" opacity="0.90"/>
<ellipse cx="462.79" cy="54.51" rx="0.88" ry="0.95" transform="rotate(122 462.79 54.51)" fill="#3a2a88" opacity="0.88"/>
<ellipse cx="465.12" cy="47.77" rx="1.15" ry="0.75" transform="rotate(128 465.12 47.77)" fill="#4a3a9a" opacity="0.98"/>
<ellipse cx="458.59" cy="58.34" rx="1.16" ry="0.76" transform="rotate(139 458.59 58.34)" fill="#4a3a9a" opacity="0.98"/>
<ellipse cx="463.98" cy="48.69" rx="0.85" ry="0.67" transform="rotate(114 463.98 48.69)" fill="#4a3a9a" opacity="0.94"/>
<ellipse cx="460.83" cy="45.72" rx="1.75" ry="0.70" transform="rotate(69 460.83 45.72)" fill="#3a2a88" opacity="0.86"/>
<ellipse cx="459.79" cy="49.01" rx="0.95" ry="0.89" transform="rotate(85 459.79 49.01)" fill="#4a3a9a" opacity="0.94"/>
<ellipse cx="463.71" cy="51.12" rx="1.15" ry="0.64" transform="rotate(82 463.71 51.12)" fill="#2a2478" opacity="0.91"/>
<ellipse cx="468.82" cy="57.71" rx="1.59" ry="0.63" transform="rotate(110 468.82 57.71)" fill="#4a3a9a" opacity="0.90"/>
<ellipse cx="465.18" cy="58.67" rx="1.30" ry="0.78" transform="rotate(126 465.18 58.67)" fill="#4a3a9a" opacity="0.95"/>
<ellipse cx="469.83" cy="45.55" rx="1.16" ry="1.18" transform="rotate(96 469.83 45.55)" fill="#4a3a9a" opacity="0.91"/>
<ellipse cx="467.69" cy="51.42" rx="1.73" ry="0.92" transform="rotate(149 467.69 51.42)" fill="#1e1a68" opacity="0.98"/>
<ellipse cx="470.83" cy="53.18" rx="1.37" ry="0.93" transform="rotate(145 470.83 53.18)" fill="#1e1a68" opacity="0.91"/>
<ellipse cx="457.73" cy="53.05" rx="1.69" ry="0.97" transform="rotate(108 457.73 53.05)" fill="#4a3a9a" opacity="0.97"/>
<ellipse cx="463.22" cy="52.98" rx="1.34" ry="0.63" transform="rotate(46 463.22 52.98)" fill="#4a3a9a" opacity="0.93"/>
<ellipse cx="464.91" cy="48.43" rx="1.06" ry="0.99" transform="rotate(83 464.91 48.43)" fill="#1e1a68" opacity="0.97"/>
<ellipse cx="459.73" cy="56.51" rx="1.57" ry="0.99" transform="rotate(13 459.73 56.51)" fill="#4a3a9a" opacity="0.87"/>
<ellipse cx="462.80" cy="47.61" rx="1.77" ry="0.69" transform="rotate(36 462.80 47.61)" fill="#2a2478" opacity="0.97"/>
<path d="M3,4 L8,3 L12,6 L10,10 L5,12 L8,16" stroke="#241e70" stroke-width="2.0" fill="none" stroke-linecap="round" stroke-linejoin="round" transform="translate(456.20,42.00)"/>
</g>
<rect x="456.80" y="42.60" width="18.50" height="18.40" fill="none" stroke="#3a3a3a" stroke-width="1.3" />
<clipPath id="th4759"><rect x="475.90" y="42.00" width="19.60" height="19.60"/></clipPath><g clip-path="url(#th4759)">
<rect x="475.90" y="42.00" width="19.60" height="19.60" fill="#dedef0" stroke="none" stroke-width="1" />
<circle cx="485.70" cy="53.20" r="1.30" fill="#1e1a60" />
</g>
<rect x="476.50" y="42.60" width="18.40" height="18.40" fill="none" stroke="#3a3a3a" stroke-width="1.3" />
<clipPath id="th4955"><rect x="495.50" y="42.00" width="19.50" height="19.60"/></clipPath><g clip-path="url(#th4955)">
<rect x="495.50" y="42.00" width="19.50" height="19.60" fill="#dedef0" stroke="none" stroke-width="1" />
<path d="M506.70,46.40 L509.50,47.80 L506.90,49.40 Z" fill="#1e1a60"/>
<circle cx="499.30" cy="55.40" r="1.00" fill="#1e1a60" />
<circle cx="511.90" cy="56.60" r="1.00" fill="#1e1a60" />
<line x1="503.50" y1="57.60" x2="510.50" y2="57.60" stroke="#e03040" stroke-width="1.5" />
</g>
<rect x="496.10" y="42.60" width="18.30" height="18.40" fill="none" stroke="#3a3a3a" stroke-width="1.3" />
<rect x="416.00" y="136.95" width="15.50" height="43.85" fill="#5660ad" stroke="none" stroke-width="1" />
<rect x="432.15" y="173.86" width="14.20" height="6.94" fill="url(#hatch)" stroke="#5660ad" stroke-width="1.3" />
<rect x="447.65" y="159.53" width="14.20" height="21.27" fill="#fff" stroke="#5660ad" stroke-width="1.3" />
<rect x="467.40" y="95.22" width="15.00" height="85.58" fill="#5660ad" stroke="none" stroke-width="1" />
<rect x="483.05" y="179.76" width="13.90" height="1.04" fill="url(#hatch)" stroke="#5660ad" stroke-width="1.3" />
<rect x="498.25" y="168.80" width="14.50" height="12.00" fill="#fff" stroke="#5660ad" stroke-width="1.3" />
<line x1="423.75" y1="129.36" x2="423.75" y2="144.54" stroke="#111" stroke-width="1.7" />
<line x1="419.95" y1="129.36" x2="427.55" y2="129.36" stroke="#111" stroke-width="1.7" />
<line x1="419.95" y1="144.54" x2="427.55" y2="144.54" stroke="#111" stroke-width="1.7" />
<circle cx="421.45" cy="142.86" r="1.75" fill="#111" />
<circle cx="423.75" cy="136.95" r="1.75" fill="#111" />
<circle cx="426.05" cy="131.05" r="1.75" fill="#111" />
<line x1="439.25" y1="166.04" x2="439.25" y2="180.38" stroke="#111" stroke-width="1.7" />
<line x1="435.45" y1="166.04" x2="443.05" y2="166.04" stroke="#111" stroke-width="1.7" />
<line x1="435.45" y1="180.38" x2="443.05" y2="180.38" stroke="#111" stroke-width="1.7" />
<circle cx="436.95" cy="178.69" r="1.75" fill="#111" />
<circle cx="439.25" cy="175.74" r="1.75" fill="#111" />
<circle cx="441.55" cy="168.15" r="1.75" fill="#111" />
<line x1="454.75" y1="155.08" x2="454.75" y2="162.67" stroke="#111" stroke-width="1.7" />
<line x1="450.95" y1="155.08" x2="458.55" y2="155.08" stroke="#111" stroke-width="1.7" />
<line x1="450.95" y1="162.67" x2="458.55" y2="162.67" stroke="#111" stroke-width="1.7" />
<circle cx="452.45" cy="160.56" r="1.75" fill="#111" />
<circle cx="454.75" cy="157.19" r="1.75" fill="#111" />
<line x1="474.90" y1="88.47" x2="474.90" y2="101.96" stroke="#111" stroke-width="1.7" />
<line x1="471.10" y1="88.47" x2="478.70" y2="88.47" stroke="#111" stroke-width="1.7" />
<line x1="471.10" y1="101.96" x2="478.70" y2="101.96" stroke="#111" stroke-width="1.7" />
<circle cx="472.60" cy="96.48" r="1.75" fill="#111" />
<circle cx="474.90" cy="93.95" r="1.75" fill="#111" />
<circle cx="477.20" cy="87.20" r="1.75" fill="#111" />
<line x1="490.00" y1="178.27" x2="490.00" y2="179.96" stroke="#111" stroke-width="1.7" />
<line x1="486.20" y1="178.27" x2="493.80" y2="178.27" stroke="#111" stroke-width="1.7" />
<line x1="486.20" y1="179.96" x2="493.80" y2="179.96" stroke="#111" stroke-width="1.7" />
<circle cx="487.70" cy="179.54" r="1.75" fill="#111" />
<circle cx="490.00" cy="178.69" r="1.75" fill="#111" />
<line x1="505.50" y1="164.78" x2="505.50" y2="171.52" stroke="#111" stroke-width="1.7" />
<line x1="501.70" y1="164.78" x2="509.30" y2="164.78" stroke="#111" stroke-width="1.7" />
<line x1="501.70" y1="171.52" x2="509.30" y2="171.52" stroke="#111" stroke-width="1.7" />
<circle cx="503.20" cy="169.00" r="1.75" fill="#111" />
<circle cx="505.50" cy="166.47" r="1.75" fill="#111" />
<path d="M424.50,128.00 L424.50,121.50 L439.70,121.50 L439.70,136.00" stroke="#111" stroke-width="1.3" fill="none" stroke-linejoin="miter"/>
<text x="431.00" y="124.51" font-size="11.2" text-anchor="middle" font-weight="bold" fill="#111" stroke="#111" stroke-width="0.55" >***</text>
<path d="M424.50,121.50 L424.50,107.60 L455.40,107.60 L455.40,129.00" stroke="#111" stroke-width="1.3" fill="none" stroke-linejoin="miter"/>
<text x="441.00" y="110.31" font-size="11.2" text-anchor="middle" font-weight="bold" fill="#111" stroke="#111" stroke-width="0.55" >**</text>
<path d="M474.90,86.50 L474.90,79.50 L490.30,79.50 L490.30,131.20" stroke="#111" stroke-width="1.3" fill="none" stroke-linejoin="miter"/>
<text x="483.30" y="82.31" font-size="11.2" text-anchor="middle" font-weight="bold" fill="#111" stroke="#111" stroke-width="0.55" >****</text>
<path d="M474.90,79.50 L474.90,70.00 L506.30,70.00 L506.30,110.40" stroke="#111" stroke-width="1.3" fill="none" stroke-linejoin="miter"/>
<text x="491.20" y="72.11" font-size="11.2" text-anchor="middle" font-weight="bold" fill="#111" stroke="#111" stroke-width="0.55" >****</text>
<line x1="412.30" y1="74.80" x2="412.30" y2="181.40" stroke="#111" stroke-width="1.3" />
<line x1="407.90" y1="180.80" x2="412.30" y2="180.80" stroke="#111" stroke-width="1.3" />
<text x="405.40" y="184.40" font-size="10" text-anchor="end" font-weight="normal" fill="#1e1e1e" stroke="#1e1e1e" stroke-width="0.28" >0</text>
<line x1="407.90" y1="159.72" x2="412.30" y2="159.72" stroke="#111" stroke-width="1.3" />
<text x="405.40" y="163.32" font-size="10" text-anchor="end" font-weight="normal" fill="#1e1e1e" stroke="#1e1e1e" stroke-width="0.28" >50</text>
<line x1="407.90" y1="138.64" x2="412.30" y2="138.64" stroke="#111" stroke-width="1.3" />
<text x="405.40" y="142.24" font-size="10" text-anchor="end" font-weight="normal" fill="#1e1e1e" stroke="#1e1e1e" stroke-width="0.28" >100</text>
<line x1="407.90" y1="117.56" x2="412.30" y2="117.56" stroke="#111" stroke-width="1.3" />
<text x="405.40" y="121.16" font-size="10" text-anchor="end" font-weight="normal" fill="#1e1e1e" stroke="#1e1e1e" stroke-width="0.28" >150</text>
<line x1="407.90" y1="96.48" x2="412.30" y2="96.48" stroke="#111" stroke-width="1.3" />
<text x="405.40" y="100.08" font-size="10" text-anchor="end" font-weight="normal" fill="#1e1e1e" stroke="#1e1e1e" stroke-width="0.28" >200</text>
<line x1="407.90" y1="75.40" x2="412.30" y2="75.40" stroke="#111" stroke-width="1.3" />
<text x="405.40" y="79.00" font-size="10" text-anchor="end" font-weight="normal" fill="#1e1e1e" stroke="#1e1e1e" stroke-width="0.28" >250</text>
<line x1="411.70" y1="180.80" x2="514.50" y2="180.80" stroke="#111" stroke-width="1.4" />
<line x1="439.30" y1="180.80" x2="439.30" y2="184.80" stroke="#111" stroke-width="1.3" />
<line x1="490.20" y1="180.80" x2="490.20" y2="184.80" stroke="#111" stroke-width="1.3" />
<text x="417.60" y="195.30" font-size="10.5" text-anchor="start" font-weight="normal" fill="#1e1e1e" stroke="#1e1e1e" stroke-width="0.28" >HCC827</text>
<text x="461.20" y="195.30" font-size="10.5" text-anchor="start" font-weight="normal" fill="#1e1e1e" stroke="#1e1e1e" stroke-width="0.28" >HCC827ER9</text>
<text x="378.60" y="129.20" font-size="10.5" text-anchor="middle" font-weight="normal" fill="#1e1e1e" stroke="#1e1e1e" stroke-width="0.28" transform="rotate(-90 378.60 129.20)">Cell migration (%)</text>
<text x="31.60" y="257.60" font-size="10.5" text-anchor="start" font-weight="normal" fill="#1e1e1e" stroke="#1e1e1e" stroke-width="0.28" >PE PP PD</text>
<rect x="27.60" y="260.10" width="56.40" height="14.60" fill="#dadada" stroke="none" stroke-width="1" />
<rect x="28.60" y="261.10" width="54.40" height="2.20" fill="#e6e6e6" stroke="none" stroke-width="1" />
<line x1="32.00" y1="269.30" x2="45.00" y2="269.30" stroke="#555" stroke-width="0.8" />
<rect x="46.00" y="265.80" width="19.80" height="6.40" rx="5.12" ry="3.20" fill="#111" opacity="1.0"/>
<rect x="64.20" y="267.10" width="17.80" height="5.20" rx="4.16" ry="2.60" fill="#111" opacity="1.0"/>
<rect x="28.30" y="260.80" width="55.00" height="13.20" fill="none" stroke="#2a2a2a" stroke-width="1.4" />
<rect x="27.60" y="279.20" width="56.40" height="14.10" fill="#dadada" stroke="none" stroke-width="1" />
<rect x="28.60" y="280.20" width="54.40" height="2.20" fill="#e6e6e6" stroke="none" stroke-width="1" />
<rect x="31.40" y="285.05" width="16.20" height="3.90" rx="3.12" ry="1.95" fill="#111" opacity="1.0"/>
<rect x="49.20" y="285.15" width="14.80" height="3.70" rx="2.96" ry="1.85" fill="#111" opacity="1.0"/>
<rect x="65.90" y="285.10" width="15.60" height="3.80" rx="3.04" ry="1.90" fill="#111" opacity="1.0"/>
<rect x="28.30" y="279.90" width="55.00" height="12.70" fill="none" stroke="#2a2a2a" stroke-width="1.4" />
<text x="86.00" y="272.20" font-size="10.5" text-anchor="start" font-weight="normal" fill="#1e1e1e" stroke="#1e1e1e" stroke-width="0.28" >PSAT1</text>
<text x="86.00" y="288.30" font-size="10.5" text-anchor="start" font-weight="normal" fill="#1e1e1e" stroke="#1e1e1e" stroke-width="0.28" >β-Actin</text>
<text x="31.60" y="309.20" font-size="10.5" text-anchor="start" font-weight="normal" fill="#1e1e1e" stroke="#1e1e1e" stroke-width="0.28" >HE HP HD</text>
<rect x="27.60" y="312.10" width="56.40" height="14.40" fill="#e2e2e2" stroke="none" stroke-width="1" />
<rect x="28.60" y="313.10" width="54.40" height="2.20" fill="#e6e6e6" stroke="none" stroke-width="1" />
<rect x="31.00" y="317.85" width="6.00" height="1.50" rx="1.20" ry="0.75" fill="#bbb" opacity="1.0"/>
<rect x="40.00" y="317.85" width="6.00" height="1.50" rx="1.20" ry="0.75" fill="#ccc" opacity="1.0"/>
<rect x="48.60" y="316.95" width="15.90" height="3.70" rx="2.96" ry="1.85" fill="#111" opacity="1.0"/>
<rect x="67.00" y="317.90" width="13.80" height="5.00" rx="4.00" ry="2.50" fill="#111" opacity="1.0"/>
<rect x="28.30" y="312.80" width="55.00" height="13.00" fill="none" stroke="#2a2a2a" stroke-width="1.4" />
<rect x="27.60" y="330.30" width="56.40" height="14.30" fill="#dadada" stroke="none" stroke-width="1" />
<rect x="28.60" y="331.30" width="54.40" height="2.20" fill="#e6e6e6" stroke="none" stroke-width="1" />
<rect x="29.60" y="336.20" width="15.90" height="3.60" rx="2.88" ry="1.80" fill="#111" opacity="1.0"/>
<rect x="46.80" y="336.25" width="16.30" height="3.50" rx="2.80" ry="1.75" fill="#111" opacity="1.0"/>
<rect x="64.80" y="336.20" width="16.20" height="3.60" rx="2.88" ry="1.80" fill="#111" opacity="1.0"/>
<rect x="33.00" y="333.35" width="8.00" height="1.30" rx="1.04" ry="0.65" fill="#aaa" opacity="1.0"/>
<rect x="28.30" y="331.00" width="55.00" height="12.90" fill="none" stroke="#2a2a2a" stroke-width="1.4" />
<text x="86.00" y="324.00" font-size="10.5" text-anchor="start" font-weight="normal" fill="#1e1e1e" stroke="#1e1e1e" stroke-width="0.28" >PSAT1</text>
<text x="86.00" y="340.50" font-size="10.5" text-anchor="start" font-weight="normal" fill="#1e1e1e" stroke="#1e1e1e" stroke-width="0.28" >β-Actin</text>
<rect x="197.20" y="231.00" width="7.40" height="6.80" fill="#a3a3a8" stroke="none" stroke-width="1" />
<text x="206.60" y="238.20" font-size="10.5" text-anchor="start" font-weight="normal" fill="#1e1e1e" stroke="#1e1e1e" stroke-width="0.28" >PE</text>
<rect x="197.20" y="241.30" width="7.40" height="6.80" fill="#e5262b" stroke="none" stroke-width="1" />
<text x="206.60" y="248.50" font-size="10.5" text-anchor="start" font-weight="normal" fill="#1e1e1e" stroke="#1e1e1e" stroke-width="0.28" >PP</text>
<rect x="197.20" y="251.70" width="7.40" height="6.80" fill="#f5871f" stroke="none" stroke-width="1" />
<text x="206.60" y="258.90" font-size="10.5" text-anchor="start" font-weight="normal" fill="#1e1e1e" stroke="#1e1e1e" stroke-width="0.28" >PD</text>
<rect x="265.40" y="230.80" width="7.40" height="6.80" fill="#8c8c8c" stroke="none" stroke-width="1" />
<text x="274.80" y="238.00" font-size="10.5" text-anchor="start" font-weight="normal" fill="#1e1e1e" stroke="#1e1e1e" stroke-width="0.28" >HE</text>
<rect x="265.40" y="241.20" width="7.40" height="6.80" fill="#3a54a8" stroke="none" stroke-width="1" />
<text x="274.80" y="248.40" font-size="10.5" text-anchor="start" font-weight="normal" fill="#1e1e1e" stroke="#1e1e1e" stroke-width="0.28" >HP</text>
<rect x="265.40" y="251.60" width="7.40" height="6.80" fill="#6c9bd8" stroke="none" stroke-width="1" />
<text x="274.80" y="258.80" font-size="10.5" text-anchor="start" font-weight="normal" fill="#1e1e1e" stroke="#1e1e1e" stroke-width="0.28" >HD</text>
<rect x="195.60" y="311.84" width="9.20" height="34.46" fill="#a3a3a8" stroke="none" stroke-width="1" />
<rect x="204.80" y="294.25" width="9.00" height="52.05" fill="#e5262b" stroke="none" stroke-width="1" />
<rect x="213.80" y="308.67" width="9.10" height="37.63" fill="#f5871f" stroke="none" stroke-width="1" />
<rect x="224.80" y="310.78" width="8.90" height="35.52" fill="#a3a3a8" stroke="none" stroke-width="1" />
<rect x="233.70" y="258.38" width="9.00" height="87.92" fill="#e5262b" stroke="none" stroke-width="1" />
<rect x="242.70" y="287.57" width="9.20" height="58.73" fill="#f5871f" stroke="none" stroke-width="1" />
<rect x="264.50" y="311.84" width="8.70" height="34.46" fill="#a3a3a8" stroke="none" stroke-width="1" />
<rect x="273.20" y="281.94" width="9.10" height="64.36" fill="#3a54a8" stroke="none" stroke-width="1" />
<rect x="282.30" y="301.29" width="9.00" height="45.01" fill="#6c9bd8" stroke="none" stroke-width="1" />
<rect x="293.90" y="309.73" width="8.70" height="36.57" fill="#a3a3a8" stroke="none" stroke-width="1" />
<rect x="302.60" y="290.74" width="9.50" height="55.56" fill="#3a54a8" stroke="none" stroke-width="1" />
<rect x="312.10" y="302.69" width="8.70" height="43.61" fill="#6c9bd8" stroke="none" stroke-width="1" />
<line x1="200.20" y1="310.78" x2="200.20" y2="312.89" stroke="#111" stroke-width="1.4" />
<line x1="197.50" y1="310.78" x2="202.90" y2="310.78" stroke="#111" stroke-width="1.4" />
<line x1="197.50" y1="312.89" x2="202.90" y2="312.89" stroke="#111" stroke-width="1.4" />
<circle cx="197.80" cy="312.89" r="1.70" fill="#111" />
<circle cx="200.20" cy="311.84" r="1.70" fill="#111" />
<circle cx="202.60" cy="311.13" r="1.70" fill="#111" />
<circle cx="200.20" cy="310.78" r="1.70" fill="#111" />
<line x1="209.30" y1="293.20" x2="209.30" y2="295.31" stroke="#111" stroke-width="1.4" />
<line x1="206.60" y1="293.20" x2="212.00" y2="293.20" stroke="#111" stroke-width="1.4" />
<line x1="206.60" y1="295.31" x2="212.00" y2="295.31" stroke="#111" stroke-width="1.4" />
<circle cx="206.90" cy="296.01" r="1.70" fill="#111" />
<circle cx="209.30" cy="294.96" r="1.70" fill="#111" />
<circle cx="211.70" cy="293.90" r="1.70" fill="#111" />
<circle cx="209.30" cy="293.20" r="1.70" fill="#111" />
<line x1="218.35" y1="306.91" x2="218.35" y2="310.43" stroke="#111" stroke-width="1.4" />
<line x1="215.65" y1="306.91" x2="221.05" y2="306.91" stroke="#111" stroke-width="1.4" />
<line x1="215.65" y1="310.43" x2="221.05" y2="310.43" stroke="#111" stroke-width="1.4" />
<circle cx="215.95" cy="309.73" r="1.70" fill="#111" />
<circle cx="218.35" cy="308.67" r="1.70" fill="#111" />
<circle cx="220.75" cy="307.62" r="1.70" fill="#111" />
<line x1="229.25" y1="306.21" x2="229.25" y2="315.35" stroke="#111" stroke-width="1.4" />
<line x1="226.55" y1="306.21" x2="231.95" y2="306.21" stroke="#111" stroke-width="1.4" />
<line x1="226.55" y1="315.35" x2="231.95" y2="315.35" stroke="#111" stroke-width="1.4" />
<circle cx="226.85" cy="315.00" r="1.70" fill="#111" />
<circle cx="229.25" cy="312.54" r="1.70" fill="#111" />
<circle cx="231.65" cy="309.38" r="1.70" fill="#111" />
<circle cx="229.25" cy="306.56" r="1.70" fill="#111" />
<line x1="238.20" y1="251.00" x2="238.20" y2="265.77" stroke="#111" stroke-width="1.4" />
<line x1="235.50" y1="251.00" x2="240.90" y2="251.00" stroke="#111" stroke-width="1.4" />
<line x1="235.50" y1="265.77" x2="240.90" y2="265.77" stroke="#111" stroke-width="1.4" />
<circle cx="235.80" cy="260.85" r="1.70" fill="#111" />
<circle cx="238.20" cy="259.44" r="1.70" fill="#111" />
<circle cx="240.60" cy="258.03" r="1.70" fill="#111" />
<circle cx="238.20" cy="256.62" r="1.70" fill="#111" />
<line x1="247.30" y1="280.19" x2="247.30" y2="294.96" stroke="#111" stroke-width="1.4" />
<line x1="244.60" y1="280.19" x2="250.00" y2="280.19" stroke="#111" stroke-width="1.4" />
<line x1="244.60" y1="294.96" x2="250.00" y2="294.96" stroke="#111" stroke-width="1.4" />
<circle cx="244.90" cy="290.74" r="1.70" fill="#111" />
<circle cx="247.30" cy="289.33" r="1.70" fill="#111" />
<circle cx="249.70" cy="287.92" r="1.70" fill="#111" />
<line x1="268.85" y1="310.78" x2="268.85" y2="312.89" stroke="#111" stroke-width="1.4" />
<line x1="266.15" y1="310.78" x2="271.55" y2="310.78" stroke="#111" stroke-width="1.4" />
<line x1="266.15" y1="312.89" x2="271.55" y2="312.89" stroke="#111" stroke-width="1.4" />
<circle cx="266.45" cy="312.54" r="1.70" fill="#111" />
<circle cx="268.85" cy="311.49" r="1.70" fill="#111" />
<circle cx="271.25" cy="310.78" r="1.70" fill="#111" />
<line x1="277.75" y1="278.78" x2="277.75" y2="285.11" stroke="#111" stroke-width="1.4" />
<line x1="275.05" y1="278.78" x2="280.45" y2="278.78" stroke="#111" stroke-width="1.4" />
<line x1="275.05" y1="285.11" x2="280.45" y2="285.11" stroke="#111" stroke-width="1.4" />
<circle cx="275.35" cy="283.70" r="1.70" fill="#111" />
<circle cx="277.75" cy="282.30" r="1.70" fill="#111" />
<circle cx="280.15" cy="280.89" r="1.70" fill="#111" />
<circle cx="277.75" cy="279.84" r="1.70" fill="#111" />
<line x1="286.80" y1="297.42" x2="286.80" y2="305.16" stroke="#111" stroke-width="1.4" />
<line x1="284.10" y1="297.42" x2="289.50" y2="297.42" stroke="#111" stroke-width="1.4" />
<line x1="284.10" y1="305.16" x2="289.50" y2="305.16" stroke="#111" stroke-width="1.4" />
<circle cx="284.40" cy="304.45" r="1.70" fill="#111" />
<circle cx="286.80" cy="301.99" r="1.70" fill="#111" />
<circle cx="289.20" cy="298.47" r="1.70" fill="#111" />
<line x1="298.25" y1="307.26" x2="298.25" y2="312.19" stroke="#111" stroke-width="1.4" />
<line x1="295.55" y1="307.26" x2="300.95" y2="307.26" stroke="#111" stroke-width="1.4" />
<line x1="295.55" y1="312.19" x2="300.95" y2="312.19" stroke="#111" stroke-width="1.4" />
<circle cx="295.85" cy="311.84" r="1.70" fill="#111" />
<circle cx="298.25" cy="309.73" r="1.70" fill="#111" />
<circle cx="300.65" cy="308.67" r="1.70" fill="#111" />
<line x1="307.35" y1="286.52" x2="307.35" y2="294.96" stroke="#111" stroke-width="1.4" />
<line x1="304.65" y1="286.52" x2="310.05" y2="286.52" stroke="#111" stroke-width="1.4" />
<line x1="304.65" y1="294.96" x2="310.05" y2="294.96" stroke="#111" stroke-width="1.4" />
<circle cx="304.95" cy="294.25" r="1.70" fill="#111" />
<circle cx="307.35" cy="291.79" r="1.70" fill="#111" />
<circle cx="309.75" cy="289.33" r="1.70" fill="#111" />
<circle cx="307.35" cy="287.57" r="1.70" fill="#111" />
<line x1="316.45" y1="300.58" x2="316.45" y2="304.80" stroke="#111" stroke-width="1.4" />
<line x1="313.75" y1="300.58" x2="319.15" y2="300.58" stroke="#111" stroke-width="1.4" />
<line x1="313.75" y1="304.80" x2="319.15" y2="304.80" stroke="#111" stroke-width="1.4" />
<circle cx="314.05" cy="304.10" r="1.70" fill="#111" />
<circle cx="316.45" cy="302.69" r="1.70" fill="#111" />
<circle cx="318.85" cy="301.29" r="1.70" fill="#111" />
<rect x="236.90" y="243.40" width="2.60" height="2.60" fill="#111" stroke="none" stroke-width="1" />
<path d="M247.3,276.0 L249.2,279.4 L245.4,279.4 Z" fill="#111"/>
<circle cx="281.20" cy="277.60" r="1.60" fill="#111" />
<line x1="191.90" y1="240.20" x2="191.90" y2="346.90" stroke="#111" stroke-width="1.3" />
<line x1="188.30" y1="240.80" x2="191.90" y2="240.80" stroke="#111" stroke-width="1.3" />
<text x="186.80" y="244.40" font-size="10" text-anchor="end" font-weight="normal" fill="#1e1e1e" stroke="#1e1e1e" stroke-width="0.28" >300</text>
<line x1="188.30" y1="275.97" x2="191.90" y2="275.97" stroke="#111" stroke-width="1.3" />
<text x="186.80" y="279.57" font-size="10" text-anchor="end" font-weight="normal" fill="#1e1e1e" stroke="#1e1e1e" stroke-width="0.28" >200</text>
<line x1="188.30" y1="311.13" x2="191.90" y2="311.13" stroke="#111" stroke-width="1.3" />
<text x="186.80" y="314.73" font-size="10" text-anchor="end" font-weight="normal" fill="#1e1e1e" stroke="#1e1e1e" stroke-width="0.28" >100</text>
<line x1="188.30" y1="346.30" x2="191.90" y2="346.30" stroke="#111" stroke-width="1.3" />
<text x="186.80" y="349.90" font-size="10" text-anchor="end" font-weight="normal" fill="#1e1e1e" stroke="#1e1e1e" stroke-width="0.28" >0</text>
<line x1="188.60" y1="346.30" x2="252.40" y2="346.30" stroke="#111" stroke-width="1.4" />
<line x1="262.30" y1="240.20" x2="262.30" y2="346.90" stroke="#111" stroke-width="1.3" />
<line x1="259.10" y1="240.80" x2="262.30" y2="240.80" stroke="#111" stroke-width="1.3" />
<line x1="259.10" y1="275.97" x2="262.30" y2="275.97" stroke="#111" stroke-width="1.3" />
<line x1="259.10" y1="311.13" x2="262.30" y2="311.13" stroke="#111" stroke-width="1.3" />
<line x1="259.10" y1="346.30" x2="262.30" y2="346.30" stroke="#111" stroke-width="1.3" />
<line x1="259.20" y1="346.30" x2="322.60" y2="346.30" stroke="#111" stroke-width="1.4" />
<line x1="209.20" y1="346.30" x2="209.20" y2="349.90" stroke="#111" stroke-width="1.3" />
<line x1="238.30" y1="346.30" x2="238.30" y2="349.90" stroke="#111" stroke-width="1.3" />
<line x1="277.40" y1="346.30" x2="277.40" y2="349.90" stroke="#111" stroke-width="1.3" />
<line x1="306.80" y1="346.30" x2="306.80" y2="349.90" stroke="#111" stroke-width="1.3" />
<path d="M210.60,287.80 L210.60,285.20 L219.40,285.20 L219.40,293.00" stroke="#111" stroke-width="1.3" fill="none" stroke-linejoin="miter"/>
<text x="214.90" y="284.51" font-size="11.2" text-anchor="middle" font-weight="bold" fill="#111" stroke="#111" stroke-width="0.55" >****</text>
<path d="M237.90,243.50 L237.90,239.20 L246.90,239.20 L246.90,262.30" stroke="#111" stroke-width="1.3" fill="none" stroke-linejoin="miter"/>
<text x="244.60" y="241.31" font-size="11.2" text-anchor="middle" font-weight="bold" fill="#111" stroke="#111" stroke-width="0.55" >****</text>
<path d="M278.00,275.40 L278.00,270.20 L286.30,270.20 L286.30,279.70" stroke="#111" stroke-width="1.3" fill="none" stroke-linejoin="miter"/>
<text x="282.10" y="272.01" font-size="11.2" text-anchor="middle" font-weight="bold" fill="#111" stroke="#111" stroke-width="0.55" >**</text>
<path d="M307.40,284.20 L307.40,279.20 L316.40,279.20 L316.40,289.20" stroke="#111" stroke-width="1.3" fill="none" stroke-linejoin="miter"/>
<text x="312.60" y="280.31" font-size="11.2" text-anchor="middle" font-weight="bold" fill="#111" stroke="#111" stroke-width="0.55" >*</text>
<text x="208.90" y="362.20" font-size="10.5" text-anchor="middle" font-weight="normal" fill="#1e1e1e" stroke="#1e1e1e" stroke-width="0.28" >p-Ser</text>
<text x="238.30" y="362.20" font-size="10.5" text-anchor="middle" font-weight="normal" fill="#1e1e1e" stroke="#1e1e1e" stroke-width="0.28" >Ser</text>
<text x="223.50" y="374.40" font-size="10.5" text-anchor="middle" font-weight="normal" fill="#1e1e1e" stroke="#1e1e1e" stroke-width="0.28" >(M+3)(M+3)</text>
<text x="277.30" y="362.20" font-size="10.5" text-anchor="middle" font-weight="normal" fill="#1e1e1e" stroke="#1e1e1e" stroke-width="0.28" >p-Ser</text>
<text x="306.20" y="362.20" font-size="10.5" text-anchor="middle" font-weight="normal" fill="#1e1e1e" stroke="#1e1e1e" stroke-width="0.28" >Ser</text>
<text x="292.40" y="374.40" font-size="10.5" text-anchor="middle" font-weight="normal" fill="#1e1e1e" stroke="#1e1e1e" stroke-width="0.28" >(M+3)(M+3)</text>
<text x="161.30" y="295.00" font-size="10.5" text-anchor="middle" font-weight="normal" fill="#1e1e1e" stroke="#1e1e1e" stroke-width="0.28" transform="rotate(-90 161.3 295.0)">Relative response (%)</text>
<text x="372.30" y="238.80" font-size="10.4" text-anchor="start" font-weight="normal" fill="#1e1e1e" stroke="#1e1e1e" stroke-width="0.28" >15 nmol/L Erlotinib</text>
<line x1="400.40" y1="249.40" x2="405.40" y2="249.40" stroke="#111" stroke-width="1.2" />
<text x="436.40" y="251.00" font-size="10.4" text-anchor="middle" font-weight="normal" fill="#1e1e1e" stroke="#1e1e1e" stroke-width="0.28" >+</text>
<clipPath id="cl11"><circle cx="403.60" cy="270.20" r="14.70"/></clipPath>
<g clip-path="url(#cl11)">
<circle cx="403.60" cy="270.20" r="14.70" fill="#4450b2" />
<circle cx="393.81" cy="273.22" r="1.62" fill="#a0a8dc" opacity="0.54"/>
<circle cx="393.11" cy="269.68" r="0.80" fill="#a0a8dc" opacity="0.55"/>
<circle cx="395.24" cy="261.31" r="0.70" fill="#a0a8dc" opacity="0.47"/>
<circle cx="413.98" cy="276.85" r="1.36" fill="#a0a8dc" opacity="0.37"/>
<circle cx="416.97" cy="268.70" r="1.32" fill="#a0a8dc" opacity="0.60"/>
<circle cx="404.52" cy="271.60" r="1.18" fill="#a0a8dc" opacity="0.37"/>
<circle cx="406.07" cy="276.47" r="0.63" fill="#a0a8dc" opacity="0.54"/>
<circle cx="391.89" cy="274.79" r="1.17" fill="#a0a8dc" opacity="0.61"/>
<circle cx="392.45" cy="270.22" r="1.10" fill="#a0a8dc" opacity="0.46"/>
<circle cx="417.27" cy="270.00" r="1.52" fill="#a0a8dc" opacity="0.63"/>
<circle cx="400.98" cy="276.22" r="0.92" fill="#a0a8dc" opacity="0.38"/>
<circle cx="404.49" cy="261.58" r="1.53" fill="#a0a8dc" opacity="0.50"/>
<circle cx="415.78" cy="266.91" r="0.60" fill="#a0a8dc" opacity="0.43"/>
<circle cx="411.54" cy="265.18" r="1.68" fill="#a0a8dc" opacity="0.51"/>
<circle cx="413.34" cy="275.01" r="1.46" fill="#a0a8dc" opacity="0.46"/>
<circle cx="410.35" cy="274.31" r="1.66" fill="#a0a8dc" opacity="0.65"/>
<circle cx="408.62" cy="274.79" r="0.71" fill="#a0a8dc" opacity="0.37"/>
<circle cx="405.28" cy="264.68" r="1.22" fill="#a0a8dc" opacity="0.53"/>
<circle cx="407.87" cy="281.12" r="0.74" fill="#a0a8dc" opacity="0.61"/>
<circle cx="410.21" cy="276.14" r="0.83" fill="#a0a8dc" opacity="0.46"/>
<circle cx="415.68" cy="267.97" r="0.93" fill="#a0a8dc" opacity="0.70"/>
<circle cx="405.70" cy="278.54" r="1.54" fill="#a0a8dc" opacity="0.61"/>
<circle cx="414.61" cy="278.23" r="0.83" fill="#a0a8dc" opacity="0.45"/>
<circle cx="404.72" cy="262.42" r="0.93" fill="#a0a8dc" opacity="0.38"/>
<circle cx="412.43" cy="275.81" r="0.87" fill="#a0a8dc" opacity="0.59"/>
<circle cx="397.21" cy="276.86" r="1.66" fill="#a0a8dc" opacity="0.54"/>
<circle cx="392.22" cy="264.44" r="0.80" fill="#a0a8dc" opacity="0.41"/>
<circle cx="413.99" cy="263.46" r="0.87" fill="#a0a8dc" opacity="0.43"/>
<circle cx="402.72" cy="256.94" r="0.82" fill="#a0a8dc" opacity="0.73"/>
<circle cx="411.46" cy="263.02" r="1.06" fill="#a0a8dc" opacity="0.39"/>
<circle cx="416.65" cy="273.44" r="0.86" fill="#a0a8dc" opacity="0.63"/>
<circle cx="403.05" cy="282.62" r="1.26" fill="#a0a8dc" opacity="0.47"/>
<circle cx="408.85" cy="280.57" r="0.68" fill="#a0a8dc" opacity="0.44"/>
<circle cx="391.82" cy="265.59" r="1.28" fill="#a0a8dc" opacity="0.46"/>
<circle cx="408.97" cy="267.13" r="0.62" fill="#a0a8dc" opacity="0.46"/>
<circle cx="400.43" cy="271.33" r="0.79" fill="#a0a8dc" opacity="0.50"/>
<circle cx="399.13" cy="268.02" r="1.00" fill="#a0a8dc" opacity="0.71"/>
<circle cx="414.62" cy="268.84" r="1.36" fill="#a0a8dc" opacity="0.58"/>
<circle cx="405.23" cy="272.18" r="0.62" fill="#a0a8dc" opacity="0.71"/>
<circle cx="399.52" cy="257.39" r="0.62" fill="#a0a8dc" opacity="0.60"/>
<circle cx="391.96" cy="271.50" r="0.95" fill="#a0a8dc" opacity="0.75"/>
<circle cx="412.61" cy="274.81" r="1.41" fill="#a0a8dc" opacity="0.71"/>
<circle cx="402.67" cy="258.75" r="1.47" fill="#a0a8dc" opacity="0.72"/>
<circle cx="396.83" cy="279.30" r="1.59" fill="#a0a8dc" opacity="0.70"/>
<circle cx="393.03" cy="276.26" r="1.55" fill="#a0a8dc" opacity="0.58"/>
<circle cx="397.61" cy="264.21" r="1.24" fill="#a0a8dc" opacity="0.59"/>
<circle cx="413.19" cy="275.49" r="1.69" fill="#a0a8dc" opacity="0.70"/>
<circle cx="402.43" cy="261.74" r="1.41" fill="#a0a8dc" opacity="0.58"/>
<circle cx="391.92" cy="274.78" r="0.69" fill="#a0a8dc" opacity="0.65"/>
<circle cx="414.04" cy="272.18" r="1.13" fill="#a0a8dc" opacity="0.44"/>
<circle cx="400.52" cy="261.04" r="1.28" fill="#a0a8dc" opacity="0.72"/>
<circle cx="403.55" cy="271.66" r="0.93" fill="#a0a8dc" opacity="0.62"/>
<circle cx="405.26" cy="275.59" r="1.60" fill="#a0a8dc" opacity="0.61"/>
<circle cx="391.51" cy="274.82" r="0.96" fill="#a0a8dc" opacity="0.62"/>
<circle cx="406.46" cy="278.73" r="1.49" fill="#a0a8dc" opacity="0.72"/>
<circle cx="409.80" cy="264.40" r="1.24" fill="#a0a8dc" opacity="0.48"/>
<circle cx="409.93" cy="277.49" r="1.52" fill="#a0a8dc" opacity="0.69"/>
<circle cx="400.38" cy="257.24" r="0.90" fill="#a0a8dc" opacity="0.42"/>
<circle cx="396.76" cy="272.39" r="0.84" fill="#a0a8dc" opacity="0.52"/>
<circle cx="396.82" cy="263.36" r="0.95" fill="#a0a8dc" opacity="0.69"/>
<circle cx="412.76" cy="269.16" r="0.68" fill="#a0a8dc" opacity="0.36"/>
<circle cx="405.55" cy="268.20" r="1.38" fill="#a0a8dc" opacity="0.58"/>
<circle cx="399.18" cy="281.56" r="0.62" fill="#a0a8dc" opacity="0.40"/>
<circle cx="401.53" cy="270.80" r="1.51" fill="#a0a8dc" opacity="0.44"/>
<circle cx="405.48" cy="272.50" r="1.29" fill="#a0a8dc" opacity="0.53"/>
<circle cx="396.01" cy="262.12" r="1.49" fill="#a0a8dc" opacity="0.73"/>
<circle cx="401.15" cy="264.59" r="1.12" fill="#a0a8dc" opacity="0.42"/>
<circle cx="412.99" cy="270.84" r="1.39" fill="#a0a8dc" opacity="0.42"/>
<circle cx="402.47" cy="278.18" r="1.37" fill="#a0a8dc" opacity="0.56"/>
<circle cx="394.64" cy="262.35" r="1.03" fill="#a0a8dc" opacity="0.67"/>
<circle cx="406.96" cy="267.95" r="1.63" fill="#a0a8dc" opacity="0.64"/>
<circle cx="409.92" cy="276.92" r="1.29" fill="#a0a8dc" opacity="0.71"/>
<circle cx="396.21" cy="277.42" r="1.57" fill="#a0a8dc" opacity="0.67"/>
<circle cx="412.36" cy="267.00" r="1.32" fill="#a0a8dc" opacity="0.43"/>
<circle cx="401.43" cy="258.00" r="1.31" fill="#a0a8dc" opacity="0.64"/>
<circle cx="406.57" cy="282.85" r="1.68" fill="#a0a8dc" opacity="0.74"/>
<circle cx="391.74" cy="267.40" r="0.95" fill="#a0a8dc" opacity="0.71"/>
<circle cx="408.59" cy="263.83" r="0.69" fill="#a0a8dc" opacity="0.53"/>
<circle cx="392.19" cy="266.47" r="1.14" fill="#a0a8dc" opacity="0.36"/>
<circle cx="404.86" cy="266.97" r="1.48" fill="#a0a8dc" opacity="0.42"/>
<circle cx="397.41" cy="280.67" r="0.75" fill="#a0a8dc" opacity="0.41"/>
<circle cx="392.01" cy="268.99" r="1.52" fill="#a0a8dc" opacity="0.63"/>
<circle cx="412.66" cy="266.99" r="1.64" fill="#a0a8dc" opacity="0.38"/>
<circle cx="405.38" cy="279.98" r="0.92" fill="#a0a8dc" opacity="0.64"/>
<circle cx="397.23" cy="262.61" r="1.53" fill="#a0a8dc" opacity="0.57"/>
<circle cx="400.40" cy="278.03" r="1.53" fill="#a0a8dc" opacity="0.71"/>
<circle cx="406.88" cy="282.40" r="1.67" fill="#a0a8dc" opacity="0.56"/>
<circle cx="398.09" cy="267.48" r="1.19" fill="#a0a8dc" opacity="0.55"/>
<circle cx="401.80" cy="268.80" r="1.67" fill="#a0a8dc" opacity="0.56"/>
<circle cx="393.65" cy="277.37" r="1.22" fill="#a0a8dc" opacity="0.55"/>
<circle cx="402.23" cy="266.68" r="0.72" fill="#28329a" opacity="0.67"/>
<circle cx="417.21" cy="266.42" r="0.56" fill="#28329a" opacity="0.69"/>
<circle cx="410.36" cy="277.13" r="0.89" fill="#28329a" opacity="0.86"/>
<circle cx="395.41" cy="271.42" r="0.51" fill="#28329a" opacity="0.75"/>
<circle cx="408.32" cy="267.81" r="0.87" fill="#28329a" opacity="0.51"/>
<circle cx="406.01" cy="276.78" r="0.81" fill="#28329a" opacity="0.63"/>
<circle cx="396.49" cy="279.33" r="0.46" fill="#28329a" opacity="0.79"/>
<circle cx="411.13" cy="277.52" r="0.55" fill="#28329a" opacity="0.58"/>
<circle cx="394.06" cy="268.36" r="0.63" fill="#28329a" opacity="0.67"/>
<circle cx="397.82" cy="269.12" r="0.52" fill="#28329a" opacity="0.75"/>
<circle cx="396.70" cy="262.02" r="0.91" fill="#28329a" opacity="0.74"/>
<circle cx="408.01" cy="264.65" r="0.84" fill="#28329a" opacity="0.82"/>
<circle cx="410.36" cy="265.46" r="0.59" fill="#28329a" opacity="0.87"/>
<circle cx="406.52" cy="284.59" r="0.93" fill="#28329a" opacity="0.55"/>
<circle cx="404.44" cy="282.70" r="0.56" fill="#28329a" opacity="0.54"/>
<circle cx="408.31" cy="261.90" r="0.87" fill="#28329a" opacity="0.55"/>
<circle cx="393.63" cy="277.18" r="0.41" fill="#28329a" opacity="0.58"/>
<circle cx="397.82" cy="257.41" r="0.98" fill="#28329a" opacity="0.55"/>
<circle cx="390.81" cy="269.74" r="0.70" fill="#28329a" opacity="0.77"/>
<circle cx="405.06" cy="273.82" r="0.46" fill="#28329a" opacity="0.51"/>
<circle cx="393.60" cy="266.84" r="0.74" fill="#28329a" opacity="0.56"/>
<circle cx="406.25" cy="276.28" r="0.90" fill="#28329a" opacity="0.90"/>
<circle cx="407.67" cy="268.19" r="0.44" fill="#28329a" opacity="0.88"/>
<circle cx="391.11" cy="273.23" r="0.60" fill="#28329a" opacity="0.69"/>
<circle cx="394.00" cy="269.28" r="0.76" fill="#28329a" opacity="0.51"/>
<circle cx="399.51" cy="257.33" r="0.51" fill="#28329a" opacity="0.68"/>
<circle cx="402.97" cy="260.86" r="0.52" fill="#28329a" opacity="0.57"/>
<circle cx="401.78" cy="270.06" r="0.94" fill="#28329a" opacity="0.82"/>
<circle cx="399.77" cy="257.11" r="0.78" fill="#28329a" opacity="0.66"/>
<circle cx="395.14" cy="264.09" r="0.99" fill="#28329a" opacity="0.82"/>
<circle cx="402.87" cy="284.21" r="0.85" fill="#28329a" opacity="0.81"/>
<circle cx="407.30" cy="261.60" r="0.94" fill="#28329a" opacity="0.85"/>
<circle cx="399.22" cy="258.09" r="0.86" fill="#28329a" opacity="0.66"/>
<circle cx="402.93" cy="266.35" r="0.61" fill="#28329a" opacity="0.69"/>
<circle cx="412.35" cy="270.78" r="0.78" fill="#28329a" opacity="0.75"/>
<circle cx="405.20" cy="284.40" r="0.80" fill="#28329a" opacity="0.64"/>
<circle cx="397.64" cy="260.84" r="0.72" fill="#28329a" opacity="0.66"/>
<circle cx="415.38" cy="270.19" r="0.82" fill="#28329a" opacity="0.80"/>
<circle cx="405.80" cy="269.92" r="0.77" fill="#28329a" opacity="0.80"/>
<circle cx="403.21" cy="279.51" r="0.43" fill="#28329a" opacity="0.58"/>
<circle cx="400.32" cy="273.45" r="0.55" fill="#28329a" opacity="0.86"/>
<circle cx="393.64" cy="266.96" r="0.98" fill="#28329a" opacity="0.73"/>
<circle cx="415.34" cy="269.84" r="0.89" fill="#28329a" opacity="0.53"/>
<circle cx="393.12" cy="262.83" r="0.43" fill="#28329a" opacity="0.87"/>
<circle cx="409.01" cy="278.72" r="0.50" fill="#28329a" opacity="0.70"/>
</g>
<circle cx="403.60" cy="270.20" r="14.00" fill="none" stroke="#28329a" stroke-width="1.4" opacity="0.75"/>
<clipPath id="cl12"><circle cx="435.00" cy="270.20" r="14.70"/></clipPath>
<g clip-path="url(#cl12)">
<circle cx="435.00" cy="270.20" r="14.70" fill="#a6b0d8" />
<circle cx="424.03" cy="271.97" r="1.33" fill="#c8cfe8" opacity="0.41"/>
<circle cx="443.37" cy="270.77" r="0.90" fill="#c8cfe8" opacity="0.67"/>
<circle cx="431.13" cy="260.31" r="1.21" fill="#c8cfe8" opacity="0.61"/>
<circle cx="440.56" cy="277.39" r="0.78" fill="#c8cfe8" opacity="0.71"/>
<circle cx="446.56" cy="274.68" r="0.68" fill="#c8cfe8" opacity="0.62"/>
<circle cx="430.47" cy="277.64" r="1.53" fill="#c8cfe8" opacity="0.36"/>
<circle cx="447.16" cy="275.08" r="1.16" fill="#c8cfe8" opacity="0.39"/>
<circle cx="448.29" cy="269.12" r="0.72" fill="#c8cfe8" opacity="0.52"/>
<circle cx="440.06" cy="275.95" r="1.28" fill="#c8cfe8" opacity="0.42"/>
<circle cx="433.98" cy="267.27" r="0.79" fill="#c8cfe8" opacity="0.68"/>
<circle cx="427.81" cy="275.39" r="1.26" fill="#c8cfe8" opacity="0.54"/>
<circle cx="433.21" cy="271.79" r="1.40" fill="#c8cfe8" opacity="0.74"/>
<circle cx="446.04" cy="268.54" r="0.99" fill="#c8cfe8" opacity="0.50"/>
<circle cx="430.87" cy="259.74" r="0.73" fill="#c8cfe8" opacity="0.44"/>
<circle cx="428.60" cy="277.62" r="1.49" fill="#c8cfe8" opacity="0.55"/>
<circle cx="447.23" cy="272.39" r="1.07" fill="#c8cfe8" opacity="0.56"/>
<circle cx="436.56" cy="279.02" r="1.03" fill="#c8cfe8" opacity="0.66"/>
<circle cx="443.12" cy="276.31" r="0.80" fill="#c8cfe8" opacity="0.63"/>
<circle cx="442.01" cy="271.85" r="0.98" fill="#c8cfe8" opacity="0.60"/>
<circle cx="443.79" cy="273.18" r="0.83" fill="#c8cfe8" opacity="0.46"/>
<circle cx="421.73" cy="272.19" r="1.13" fill="#c8cfe8" opacity="0.73"/>
<circle cx="441.52" cy="281.64" r="1.00" fill="#c8cfe8" opacity="0.43"/>
<circle cx="434.88" cy="257.12" r="0.61" fill="#c8cfe8" opacity="0.46"/>
<circle cx="436.04" cy="262.26" r="0.87" fill="#c8cfe8" opacity="0.35"/>
<circle cx="445.44" cy="272.88" r="1.68" fill="#c8cfe8" opacity="0.75"/>
<circle cx="432.88" cy="270.15" r="0.95" fill="#c8cfe8" opacity="0.66"/>
<circle cx="440.40" cy="260.67" r="0.85" fill="#c8cfe8" opacity="0.56"/>
<circle cx="424.26" cy="271.74" r="0.89" fill="#c8cfe8" opacity="0.73"/>
<circle cx="439.34" cy="266.80" r="0.92" fill="#c8cfe8" opacity="0.70"/>
<circle cx="432.65" cy="283.30" r="1.17" fill="#c8cfe8" opacity="0.63"/>
<circle cx="433.22" cy="264.12" r="0.91" fill="#c8cfe8" opacity="0.45"/>
<circle cx="430.36" cy="259.77" r="0.74" fill="#c8cfe8" opacity="0.70"/>
<circle cx="429.10" cy="273.43" r="1.08" fill="#c8cfe8" opacity="0.74"/>
<circle cx="424.93" cy="266.22" r="1.61" fill="#c8cfe8" opacity="0.73"/>
<circle cx="435.58" cy="261.37" r="1.25" fill="#c8cfe8" opacity="0.71"/>
<circle cx="437.55" cy="260.08" r="0.98" fill="#c8cfe8" opacity="0.50"/>
<circle cx="434.09" cy="259.96" r="0.62" fill="#c8cfe8" opacity="0.63"/>
<circle cx="445.07" cy="263.25" r="1.59" fill="#c8cfe8" opacity="0.71"/>
<circle cx="423.12" cy="267.55" r="1.02" fill="#c8cfe8" opacity="0.39"/>
<circle cx="430.38" cy="276.30" r="1.63" fill="#c8cfe8" opacity="0.63"/>
<circle cx="424.56" cy="267.41" r="0.74" fill="#c8cfe8" opacity="0.56"/>
<circle cx="432.37" cy="262.01" r="0.87" fill="#c8cfe8" opacity="0.51"/>
<circle cx="429.94" cy="280.35" r="0.76" fill="#c8cfe8" opacity="0.39"/>
<circle cx="430.63" cy="280.76" r="1.44" fill="#c8cfe8" opacity="0.61"/>
<circle cx="442.60" cy="266.90" r="0.63" fill="#c8cfe8" opacity="0.55"/>
<circle cx="429.56" cy="272.21" r="1.33" fill="#c8cfe8" opacity="0.49"/>
<circle cx="435.57" cy="278.02" r="1.64" fill="#c8cfe8" opacity="0.35"/>
<circle cx="430.37" cy="275.77" r="0.82" fill="#c8cfe8" opacity="0.52"/>
<circle cx="437.43" cy="283.11" r="1.15" fill="#c8cfe8" opacity="0.63"/>
<circle cx="439.89" cy="278.16" r="1.27" fill="#c8cfe8" opacity="0.69"/>
<circle cx="435.01" cy="279.49" r="1.54" fill="#c8cfe8" opacity="0.68"/>
<circle cx="436.42" cy="280.15" r="1.44" fill="#c8cfe8" opacity="0.51"/>
<circle cx="429.83" cy="260.31" r="1.67" fill="#c8cfe8" opacity="0.57"/>
<circle cx="431.58" cy="262.85" r="1.41" fill="#c8cfe8" opacity="0.48"/>
<circle cx="426.77" cy="270.21" r="0.94" fill="#c8cfe8" opacity="0.40"/>
<circle cx="436.54" cy="280.19" r="0.88" fill="#c8cfe8" opacity="0.37"/>
<circle cx="437.42" cy="263.29" r="1.63" fill="#c8cfe8" opacity="0.59"/>
<circle cx="425.18" cy="278.42" r="1.59" fill="#c8cfe8" opacity="0.48"/>
<circle cx="442.71" cy="278.00" r="1.53" fill="#c8cfe8" opacity="0.59"/>
<circle cx="436.88" cy="261.61" r="1.28" fill="#c8cfe8" opacity="0.46"/>
<circle cx="427.96" cy="274.86" r="1.02" fill="#c8cfe8" opacity="0.51"/>
<circle cx="436.99" cy="264.91" r="0.83" fill="#c8cfe8" opacity="0.45"/>
<circle cx="444.74" cy="268.41" r="0.66" fill="#c8cfe8" opacity="0.68"/>
<circle cx="443.70" cy="261.34" r="0.99" fill="#c8cfe8" opacity="0.64"/>
<circle cx="433.27" cy="274.97" r="1.55" fill="#c8cfe8" opacity="0.68"/>
<circle cx="438.10" cy="282.67" r="0.63" fill="#c8cfe8" opacity="0.47"/>
<circle cx="440.65" cy="270.66" r="0.78" fill="#c8cfe8" opacity="0.64"/>
<circle cx="433.28" cy="275.92" r="0.80" fill="#c8cfe8" opacity="0.47"/>
<circle cx="441.91" cy="262.07" r="0.71" fill="#c8cfe8" opacity="0.62"/>
<circle cx="426.06" cy="268.13" r="1.18" fill="#c8cfe8" opacity="0.61"/>
<circle cx="438.05" cy="260.95" r="1.30" fill="#c8cfe8" opacity="0.54"/>
<circle cx="429.32" cy="263.83" r="1.06" fill="#c8cfe8" opacity="0.56"/>
<circle cx="433.42" cy="263.14" r="1.62" fill="#c8cfe8" opacity="0.55"/>
<circle cx="442.01" cy="261.23" r="1.65" fill="#c8cfe8" opacity="0.62"/>
<circle cx="427.18" cy="274.07" r="1.27" fill="#c8cfe8" opacity="0.65"/>
<circle cx="437.61" cy="266.02" r="0.67" fill="#c8cfe8" opacity="0.39"/>
<circle cx="437.81" cy="271.84" r="0.61" fill="#c8cfe8" opacity="0.45"/>
<circle cx="443.59" cy="277.60" r="1.28" fill="#c8cfe8" opacity="0.74"/>
<circle cx="446.48" cy="267.29" r="1.64" fill="#c8cfe8" opacity="0.36"/>
<circle cx="436.82" cy="283.26" r="1.12" fill="#c8cfe8" opacity="0.43"/>
<circle cx="435.38" cy="261.29" r="1.20" fill="#c8cfe8" opacity="0.48"/>
<circle cx="435.21" cy="274.24" r="1.27" fill="#c8cfe8" opacity="0.73"/>
<circle cx="446.94" cy="269.20" r="1.63" fill="#c8cfe8" opacity="0.49"/>
<circle cx="431.08" cy="282.77" r="1.26" fill="#c8cfe8" opacity="0.62"/>
<circle cx="441.53" cy="270.72" r="1.13" fill="#c8cfe8" opacity="0.64"/>
<circle cx="440.47" cy="259.60" r="0.97" fill="#c8cfe8" opacity="0.50"/>
<circle cx="443.84" cy="259.83" r="1.13" fill="#c8cfe8" opacity="0.43"/>
<circle cx="427.88" cy="263.13" r="1.00" fill="#c8cfe8" opacity="0.44"/>
<circle cx="426.94" cy="277.27" r="0.74" fill="#c8cfe8" opacity="0.57"/>
<circle cx="446.30" cy="266.71" r="0.88" fill="#c8cfe8" opacity="0.52"/>
<circle cx="445.10" cy="277.77" r="0.78" fill="#7c88c0" opacity="0.57"/>
<circle cx="424.17" cy="266.82" r="0.75" fill="#7c88c0" opacity="0.65"/>
<circle cx="431.78" cy="278.34" r="1.00" fill="#7c88c0" opacity="0.63"/>
<circle cx="425.03" cy="270.05" r="0.50" fill="#7c88c0" opacity="0.66"/>
<circle cx="437.33" cy="278.21" r="0.62" fill="#7c88c0" opacity="0.64"/>
<circle cx="442.41" cy="267.16" r="0.60" fill="#7c88c0" opacity="0.76"/>
<circle cx="426.57" cy="276.55" r="0.79" fill="#7c88c0" opacity="0.53"/>
<circle cx="432.79" cy="266.08" r="0.55" fill="#7c88c0" opacity="0.82"/>
<circle cx="447.04" cy="269.41" r="0.50" fill="#7c88c0" opacity="0.68"/>
<circle cx="432.25" cy="283.40" r="0.54" fill="#7c88c0" opacity="0.58"/>
<circle cx="427.41" cy="261.25" r="0.75" fill="#7c88c0" opacity="0.69"/>
<circle cx="444.63" cy="267.67" r="0.96" fill="#7c88c0" opacity="0.66"/>
<circle cx="426.40" cy="272.10" r="0.83" fill="#7c88c0" opacity="0.80"/>
<circle cx="435.72" cy="280.84" r="0.84" fill="#7c88c0" opacity="0.70"/>
<circle cx="428.96" cy="260.37" r="0.83" fill="#7c88c0" opacity="0.64"/>
<circle cx="434.20" cy="272.36" r="0.93" fill="#7c88c0" opacity="0.82"/>
<circle cx="423.84" cy="279.40" r="0.94" fill="#7c88c0" opacity="0.56"/>
<circle cx="439.94" cy="262.04" r="0.59" fill="#7c88c0" opacity="0.60"/>
<circle cx="432.13" cy="271.92" r="0.43" fill="#7c88c0" opacity="0.55"/>
<circle cx="432.94" cy="275.68" r="0.47" fill="#7c88c0" opacity="0.83"/>
<circle cx="427.51" cy="277.26" r="0.76" fill="#7c88c0" opacity="0.87"/>
<circle cx="439.26" cy="275.78" r="0.92" fill="#7c88c0" opacity="0.86"/>
<circle cx="444.72" cy="265.76" r="0.62" fill="#7c88c0" opacity="0.58"/>
<circle cx="445.89" cy="263.35" r="0.73" fill="#7c88c0" opacity="0.82"/>
<circle cx="434.28" cy="280.91" r="0.94" fill="#7c88c0" opacity="0.54"/>
<circle cx="430.32" cy="265.94" r="0.90" fill="#7c88c0" opacity="0.84"/>
<circle cx="429.01" cy="262.57" r="0.41" fill="#7c88c0" opacity="0.70"/>
<circle cx="429.11" cy="277.39" r="0.45" fill="#7c88c0" opacity="0.87"/>
<circle cx="424.09" cy="268.68" r="0.91" fill="#7c88c0" opacity="0.86"/>
<circle cx="424.68" cy="266.87" r="0.91" fill="#7c88c0" opacity="0.65"/>
<circle cx="436.86" cy="268.86" r="0.88" fill="#7c88c0" opacity="0.71"/>
<circle cx="424.49" cy="260.03" r="0.53" fill="#7c88c0" opacity="0.66"/>
<circle cx="438.90" cy="258.11" r="0.71" fill="#7c88c0" opacity="0.81"/>
<circle cx="428.95" cy="257.90" r="0.79" fill="#7c88c0" opacity="0.65"/>
<circle cx="434.04" cy="274.30" r="0.47" fill="#7c88c0" opacity="0.52"/>
<circle cx="440.45" cy="269.36" r="0.76" fill="#7c88c0" opacity="0.55"/>
<circle cx="445.49" cy="267.94" r="0.51" fill="#7c88c0" opacity="0.83"/>
<circle cx="444.27" cy="259.01" r="0.53" fill="#7c88c0" opacity="0.66"/>
<circle cx="430.85" cy="263.58" r="0.74" fill="#7c88c0" opacity="0.78"/>
<circle cx="435.13" cy="256.86" r="0.85" fill="#7c88c0" opacity="0.61"/>
<circle cx="435.34" cy="260.53" r="0.50" fill="#7c88c0" opacity="0.51"/>
<circle cx="428.68" cy="264.09" r="0.46" fill="#7c88c0" opacity="0.70"/>
<circle cx="427.79" cy="274.47" r="0.74" fill="#7c88c0" opacity="0.72"/>
<circle cx="420.65" cy="267.48" r="0.94" fill="#7c88c0" opacity="0.62"/>
<circle cx="440.72" cy="264.26" r="0.96" fill="#7c88c0" opacity="0.52"/>
</g>
<circle cx="435.00" cy="270.20" r="14.00" fill="none" stroke="#7c88c0" stroke-width="1.4" opacity="0.75"/>
<clipPath id="cl13"><circle cx="403.60" cy="302.10" r="14.70"/></clipPath>
<g clip-path="url(#cl13)">
<circle cx="403.60" cy="302.10" r="14.70" fill="#4a56b6" />
<circle cx="402.96" cy="313.42" r="1.35" fill="#a4acde" opacity="0.69"/>
<circle cx="406.19" cy="308.15" r="0.76" fill="#a4acde" opacity="0.44"/>
<circle cx="403.10" cy="297.18" r="1.18" fill="#a4acde" opacity="0.44"/>
<circle cx="401.11" cy="310.75" r="1.52" fill="#a4acde" opacity="0.59"/>
<circle cx="410.77" cy="302.75" r="0.76" fill="#a4acde" opacity="0.70"/>
<circle cx="408.11" cy="290.66" r="1.51" fill="#a4acde" opacity="0.65"/>
<circle cx="415.19" cy="298.28" r="0.88" fill="#a4acde" opacity="0.69"/>
<circle cx="391.74" cy="303.09" r="1.22" fill="#a4acde" opacity="0.52"/>
<circle cx="397.69" cy="308.87" r="0.95" fill="#a4acde" opacity="0.40"/>
<circle cx="408.79" cy="291.01" r="1.68" fill="#a4acde" opacity="0.63"/>
<circle cx="392.43" cy="298.14" r="0.75" fill="#a4acde" opacity="0.62"/>
<circle cx="398.20" cy="304.10" r="0.82" fill="#a4acde" opacity="0.56"/>
<circle cx="403.41" cy="311.38" r="1.27" fill="#a4acde" opacity="0.51"/>
<circle cx="410.14" cy="309.13" r="0.86" fill="#a4acde" opacity="0.44"/>
<circle cx="406.44" cy="309.89" r="0.68" fill="#a4acde" opacity="0.61"/>
<circle cx="411.79" cy="299.65" r="1.39" fill="#a4acde" opacity="0.72"/>
<circle cx="408.57" cy="303.48" r="1.49" fill="#a4acde" opacity="0.69"/>
<circle cx="400.08" cy="297.90" r="1.05" fill="#a4acde" opacity="0.70"/>
<circle cx="412.87" cy="294.05" r="0.82" fill="#a4acde" opacity="0.69"/>
<circle cx="395.41" cy="310.31" r="0.75" fill="#a4acde" opacity="0.74"/>
<circle cx="394.33" cy="295.05" r="0.83" fill="#a4acde" opacity="0.60"/>
<circle cx="394.40" cy="296.97" r="1.00" fill="#a4acde" opacity="0.64"/>
<circle cx="399.56" cy="308.35" r="0.78" fill="#a4acde" opacity="0.62"/>
<circle cx="408.55" cy="306.32" r="0.68" fill="#a4acde" opacity="0.61"/>
<circle cx="394.12" cy="298.61" r="0.64" fill="#a4acde" opacity="0.53"/>
<circle cx="401.30" cy="305.58" r="0.60" fill="#a4acde" opacity="0.75"/>
<circle cx="409.03" cy="307.30" r="0.90" fill="#a4acde" opacity="0.59"/>
<circle cx="411.90" cy="306.49" r="1.00" fill="#a4acde" opacity="0.68"/>
<circle cx="411.52" cy="302.38" r="1.15" fill="#a4acde" opacity="0.74"/>
<circle cx="394.22" cy="301.11" r="1.34" fill="#a4acde" opacity="0.47"/>
<circle cx="413.11" cy="304.02" r="1.60" fill="#a4acde" opacity="0.65"/>
<circle cx="403.01" cy="313.42" r="1.53" fill="#a4acde" opacity="0.45"/>
<circle cx="396.65" cy="297.81" r="0.87" fill="#a4acde" opacity="0.46"/>
<circle cx="405.92" cy="309.88" r="0.64" fill="#a4acde" opacity="0.51"/>
<circle cx="413.80" cy="308.29" r="1.26" fill="#a4acde" opacity="0.35"/>
<circle cx="404.49" cy="296.19" r="1.13" fill="#a4acde" opacity="0.57"/>
<circle cx="399.93" cy="308.49" r="1.08" fill="#a4acde" opacity="0.40"/>
<circle cx="406.60" cy="298.63" r="1.51" fill="#a4acde" opacity="0.44"/>
<circle cx="400.79" cy="310.16" r="0.64" fill="#a4acde" opacity="0.40"/>
<circle cx="397.75" cy="309.08" r="1.56" fill="#a4acde" opacity="0.75"/>
<circle cx="413.25" cy="304.81" r="0.74" fill="#a4acde" opacity="0.67"/>
<circle cx="397.89" cy="313.72" r="1.20" fill="#a4acde" opacity="0.40"/>
<circle cx="410.42" cy="302.31" r="1.55" fill="#a4acde" opacity="0.41"/>
<circle cx="395.32" cy="303.20" r="0.98" fill="#a4acde" opacity="0.67"/>
<circle cx="406.22" cy="313.41" r="1.33" fill="#a4acde" opacity="0.72"/>
<circle cx="390.56" cy="300.46" r="1.08" fill="#a4acde" opacity="0.58"/>
<circle cx="394.48" cy="293.47" r="1.59" fill="#a4acde" opacity="0.40"/>
<circle cx="410.12" cy="309.70" r="1.49" fill="#a4acde" opacity="0.56"/>
<circle cx="399.49" cy="314.89" r="0.93" fill="#a4acde" opacity="0.38"/>
<circle cx="405.86" cy="302.87" r="1.40" fill="#a4acde" opacity="0.39"/>
<circle cx="400.91" cy="289.64" r="1.70" fill="#a4acde" opacity="0.67"/>
<circle cx="393.99" cy="307.05" r="1.52" fill="#a4acde" opacity="0.64"/>
<circle cx="400.59" cy="313.68" r="0.72" fill="#a4acde" opacity="0.47"/>
<circle cx="413.00" cy="301.87" r="0.89" fill="#a4acde" opacity="0.66"/>
<circle cx="402.81" cy="302.36" r="0.63" fill="#a4acde" opacity="0.45"/>
<circle cx="397.07" cy="313.64" r="0.87" fill="#a4acde" opacity="0.69"/>
<circle cx="408.95" cy="295.07" r="1.69" fill="#a4acde" opacity="0.65"/>
<circle cx="396.63" cy="302.80" r="1.11" fill="#a4acde" opacity="0.71"/>
<circle cx="397.73" cy="300.72" r="1.01" fill="#a4acde" opacity="0.54"/>
<circle cx="407.37" cy="311.76" r="0.64" fill="#a4acde" opacity="0.68"/>
<circle cx="405.50" cy="306.06" r="1.25" fill="#a4acde" opacity="0.47"/>
<circle cx="410.85" cy="295.72" r="1.17" fill="#a4acde" opacity="0.68"/>
<circle cx="406.23" cy="313.63" r="1.31" fill="#a4acde" opacity="0.52"/>
<circle cx="405.57" cy="301.59" r="1.55" fill="#a4acde" opacity="0.41"/>
<circle cx="406.47" cy="297.56" r="0.66" fill="#a4acde" opacity="0.55"/>
<circle cx="409.81" cy="298.98" r="1.14" fill="#a4acde" opacity="0.59"/>
<circle cx="404.00" cy="312.07" r="0.61" fill="#a4acde" opacity="0.53"/>
<circle cx="404.09" cy="294.13" r="0.84" fill="#a4acde" opacity="0.37"/>
<circle cx="400.87" cy="293.57" r="1.61" fill="#a4acde" opacity="0.65"/>
<circle cx="414.18" cy="309.83" r="1.63" fill="#a4acde" opacity="0.68"/>
<circle cx="409.13" cy="292.23" r="1.39" fill="#a4acde" opacity="0.62"/>
<circle cx="397.75" cy="298.35" r="0.75" fill="#a4acde" opacity="0.64"/>
<circle cx="400.93" cy="300.24" r="1.31" fill="#a4acde" opacity="0.59"/>
<circle cx="391.57" cy="301.23" r="1.56" fill="#a4acde" opacity="0.50"/>
<circle cx="407.43" cy="293.21" r="1.23" fill="#a4acde" opacity="0.52"/>
<circle cx="411.94" cy="298.37" r="1.65" fill="#a4acde" opacity="0.49"/>
<circle cx="397.46" cy="290.54" r="1.35" fill="#a4acde" opacity="0.50"/>
<circle cx="411.97" cy="306.55" r="1.06" fill="#a4acde" opacity="0.68"/>
<circle cx="406.51" cy="288.81" r="1.09" fill="#a4acde" opacity="0.51"/>
<circle cx="392.69" cy="297.44" r="0.69" fill="#a4acde" opacity="0.44"/>
<circle cx="408.35" cy="308.29" r="0.93" fill="#a4acde" opacity="0.74"/>
<circle cx="407.07" cy="314.87" r="0.92" fill="#a4acde" opacity="0.43"/>
<circle cx="407.64" cy="301.44" r="0.72" fill="#a4acde" opacity="0.40"/>
<circle cx="411.38" cy="305.58" r="0.83" fill="#a4acde" opacity="0.41"/>
<circle cx="414.99" cy="303.23" r="0.65" fill="#a4acde" opacity="0.44"/>
<circle cx="391.80" cy="296.95" r="1.33" fill="#a4acde" opacity="0.63"/>
<circle cx="399.86" cy="290.45" r="1.54" fill="#a4acde" opacity="0.41"/>
<circle cx="413.78" cy="305.70" r="1.17" fill="#a4acde" opacity="0.56"/>
<circle cx="404.74" cy="296.50" r="1.38" fill="#a4acde" opacity="0.52"/>
<circle cx="397.63" cy="305.30" r="0.91" fill="#a4acde" opacity="0.58"/>
<circle cx="391.30" cy="297.76" r="0.91" fill="#a4acde" opacity="0.64"/>
<circle cx="412.67" cy="308.43" r="0.78" fill="#a4acde" opacity="0.69"/>
<circle cx="410.35" cy="300.60" r="1.49" fill="#a4acde" opacity="0.44"/>
<circle cx="402.10" cy="306.24" r="1.09" fill="#a4acde" opacity="0.39"/>
<circle cx="400.66" cy="292.13" r="1.06" fill="#a4acde" opacity="0.63"/>
<circle cx="404.42" cy="309.95" r="1.00" fill="#a4acde" opacity="0.35"/>
<circle cx="406.68" cy="299.44" r="0.71" fill="#a4acde" opacity="0.67"/>
<circle cx="407.42" cy="293.77" r="1.06" fill="#a4acde" opacity="0.41"/>
<circle cx="413.48" cy="302.18" r="0.87" fill="#a4acde" opacity="0.41"/>
<circle cx="405.18" cy="301.04" r="1.00" fill="#a4acde" opacity="0.65"/>
<circle cx="403.50" cy="297.29" r="0.85" fill="#28329a" opacity="0.73"/>
<circle cx="393.82" cy="291.69" r="0.88" fill="#28329a" opacity="0.74"/>
<circle cx="404.88" cy="291.87" r="0.73" fill="#28329a" opacity="0.83"/>
<circle cx="397.00" cy="295.95" r="0.41" fill="#28329a" opacity="0.82"/>
<circle cx="398.43" cy="310.22" r="0.57" fill="#28329a" opacity="0.72"/>
<circle cx="392.69" cy="309.93" r="0.76" fill="#28329a" opacity="0.72"/>
<circle cx="405.61" cy="292.55" r="0.72" fill="#28329a" opacity="0.80"/>
<circle cx="401.42" cy="289.61" r="0.93" fill="#28329a" opacity="0.72"/>
<circle cx="397.60" cy="299.93" r="0.54" fill="#28329a" opacity="0.67"/>
<circle cx="389.66" cy="302.20" r="0.43" fill="#28329a" opacity="0.64"/>
<circle cx="402.98" cy="292.16" r="0.91" fill="#28329a" opacity="0.56"/>
<circle cx="404.88" cy="292.53" r="0.74" fill="#28329a" opacity="0.52"/>
<circle cx="392.81" cy="309.65" r="0.84" fill="#28329a" opacity="0.73"/>
<circle cx="401.03" cy="303.45" r="0.82" fill="#28329a" opacity="0.68"/>
<circle cx="401.73" cy="290.75" r="0.64" fill="#28329a" opacity="0.85"/>
<circle cx="413.31" cy="312.73" r="0.45" fill="#28329a" opacity="0.89"/>
<circle cx="395.19" cy="297.00" r="0.96" fill="#28329a" opacity="0.70"/>
<circle cx="400.01" cy="301.91" r="0.88" fill="#28329a" opacity="0.76"/>
<circle cx="403.92" cy="307.05" r="0.65" fill="#28329a" opacity="0.87"/>
<circle cx="410.49" cy="294.81" r="0.42" fill="#28329a" opacity="0.83"/>
<circle cx="407.32" cy="314.10" r="0.70" fill="#28329a" opacity="0.89"/>
<circle cx="411.45" cy="312.58" r="0.83" fill="#28329a" opacity="0.51"/>
<circle cx="396.28" cy="298.91" r="0.82" fill="#28329a" opacity="0.88"/>
<circle cx="398.40" cy="293.17" r="0.76" fill="#28329a" opacity="0.60"/>
<circle cx="398.69" cy="303.11" r="0.83" fill="#28329a" opacity="0.53"/>
<circle cx="397.46" cy="301.05" r="0.74" fill="#28329a" opacity="0.52"/>
<circle cx="415.05" cy="304.09" r="0.83" fill="#28329a" opacity="0.86"/>
<circle cx="397.13" cy="288.94" r="0.49" fill="#28329a" opacity="0.75"/>
<circle cx="399.57" cy="297.45" r="0.48" fill="#28329a" opacity="0.60"/>
<circle cx="390.70" cy="300.19" r="0.83" fill="#28329a" opacity="0.73"/>
<circle cx="414.64" cy="307.94" r="0.71" fill="#28329a" opacity="0.57"/>
<circle cx="398.23" cy="297.17" r="0.59" fill="#28329a" opacity="0.68"/>
<circle cx="403.64" cy="297.30" r="0.67" fill="#28329a" opacity="0.59"/>
<circle cx="397.28" cy="290.43" r="0.56" fill="#28329a" opacity="0.79"/>
<circle cx="396.92" cy="303.64" r="0.57" fill="#28329a" opacity="0.72"/>
<circle cx="407.58" cy="291.41" r="0.40" fill="#28329a" opacity="0.81"/>
<circle cx="395.23" cy="297.49" r="0.54" fill="#28329a" opacity="0.68"/>
<circle cx="400.88" cy="294.95" r="0.48" fill="#28329a" opacity="0.85"/>
<circle cx="399.95" cy="303.49" r="0.93" fill="#28329a" opacity="0.54"/>
<circle cx="395.96" cy="310.78" r="0.80" fill="#28329a" opacity="0.86"/>
<circle cx="408.58" cy="312.01" r="0.93" fill="#28329a" opacity="0.69"/>
<circle cx="401.39" cy="292.31" r="0.83" fill="#28329a" opacity="0.88"/>
<circle cx="396.85" cy="312.76" r="0.61" fill="#28329a" opacity="0.86"/>
<circle cx="404.80" cy="288.54" r="0.92" fill="#28329a" opacity="0.74"/>
<circle cx="409.12" cy="300.32" r="0.74" fill="#28329a" opacity="0.53"/>
<circle cx="393.04" cy="296.02" r="0.57" fill="#28329a" opacity="0.82"/>
<circle cx="397.93" cy="305.34" r="0.52" fill="#28329a" opacity="0.73"/>
<circle cx="401.22" cy="304.22" r="0.58" fill="#28329a" opacity="0.89"/>
<circle cx="391.63" cy="304.20" r="0.66" fill="#28329a" opacity="0.53"/>
<circle cx="398.47" cy="297.73" r="0.47" fill="#28329a" opacity="0.75"/>
</g>
<circle cx="403.60" cy="302.10" r="14.00" fill="none" stroke="#28329a" stroke-width="1.4" opacity="0.75"/>
<clipPath id="cl14"><circle cx="435.00" cy="302.10" r="14.70"/></clipPath>
<g clip-path="url(#cl14)">
<circle cx="435.00" cy="302.10" r="14.70" fill="#6672c0" />
<circle cx="443.99" cy="309.24" r="1.32" fill="#aab2de" opacity="0.73"/>
<circle cx="434.08" cy="308.97" r="1.41" fill="#aab2de" opacity="0.61"/>
<circle cx="431.30" cy="312.81" r="1.04" fill="#aab2de" opacity="0.66"/>
<circle cx="439.76" cy="306.48" r="1.59" fill="#aab2de" opacity="0.49"/>
<circle cx="434.20" cy="314.36" r="1.29" fill="#aab2de" opacity="0.41"/>
<circle cx="424.41" cy="298.56" r="0.78" fill="#aab2de" opacity="0.61"/>
<circle cx="440.69" cy="307.65" r="0.69" fill="#aab2de" opacity="0.43"/>
<circle cx="443.62" cy="300.90" r="1.69" fill="#aab2de" opacity="0.53"/>
<circle cx="425.01" cy="294.10" r="1.36" fill="#aab2de" opacity="0.39"/>
<circle cx="425.76" cy="296.31" r="0.80" fill="#aab2de" opacity="0.39"/>
<circle cx="441.93" cy="295.15" r="0.81" fill="#aab2de" opacity="0.53"/>
<circle cx="437.43" cy="314.10" r="1.15" fill="#aab2de" opacity="0.39"/>
<circle cx="436.70" cy="298.37" r="0.91" fill="#aab2de" opacity="0.36"/>
<circle cx="434.72" cy="297.49" r="1.18" fill="#aab2de" opacity="0.39"/>
<circle cx="423.74" cy="303.49" r="1.19" fill="#aab2de" opacity="0.53"/>
<circle cx="425.98" cy="302.96" r="1.25" fill="#aab2de" opacity="0.39"/>
<circle cx="428.43" cy="303.16" r="1.55" fill="#aab2de" opacity="0.73"/>
<circle cx="439.74" cy="304.20" r="1.37" fill="#aab2de" opacity="0.58"/>
<circle cx="446.42" cy="303.48" r="1.64" fill="#aab2de" opacity="0.52"/>
<circle cx="429.06" cy="310.56" r="1.63" fill="#aab2de" opacity="0.46"/>
<circle cx="433.08" cy="307.73" r="1.29" fill="#aab2de" opacity="0.54"/>
<circle cx="434.67" cy="310.63" r="0.64" fill="#aab2de" opacity="0.47"/>
<circle cx="445.43" cy="300.98" r="0.91" fill="#aab2de" opacity="0.72"/>
<circle cx="430.68" cy="307.44" r="0.64" fill="#aab2de" opacity="0.41"/>
<circle cx="437.07" cy="308.34" r="1.56" fill="#aab2de" opacity="0.46"/>
<circle cx="435.09" cy="312.75" r="1.61" fill="#aab2de" opacity="0.47"/>
<circle cx="435.61" cy="293.80" r="1.22" fill="#aab2de" opacity="0.59"/>
<circle cx="446.15" cy="297.87" r="1.16" fill="#aab2de" opacity="0.69"/>
<circle cx="429.33" cy="308.42" r="1.66" fill="#aab2de" opacity="0.57"/>
<circle cx="436.13" cy="294.50" r="1.61" fill="#aab2de" opacity="0.60"/>
<circle cx="435.22" cy="315.34" r="1.12" fill="#aab2de" opacity="0.49"/>
<circle cx="434.65" cy="306.49" r="0.82" fill="#aab2de" opacity="0.63"/>
<circle cx="439.42" cy="307.49" r="1.09" fill="#aab2de" opacity="0.57"/>
<circle cx="426.12" cy="310.38" r="0.88" fill="#aab2de" opacity="0.50"/>
<circle cx="430.62" cy="304.33" r="0.84" fill="#aab2de" opacity="0.41"/>
<circle cx="434.19" cy="296.92" r="1.33" fill="#aab2de" opacity="0.44"/>
<circle cx="428.30" cy="293.25" r="0.99" fill="#aab2de" opacity="0.72"/>
<circle cx="429.35" cy="293.58" r="0.65" fill="#aab2de" opacity="0.51"/>
<circle cx="434.05" cy="311.44" r="1.63" fill="#aab2de" opacity="0.70"/>
<circle cx="445.45" cy="306.38" r="1.63" fill="#aab2de" opacity="0.57"/>
<circle cx="445.47" cy="309.39" r="1.07" fill="#aab2de" opacity="0.74"/>
<circle cx="443.79" cy="293.25" r="1.62" fill="#aab2de" opacity="0.38"/>
<circle cx="437.06" cy="294.82" r="0.75" fill="#aab2de" opacity="0.50"/>
<circle cx="434.19" cy="301.59" r="1.09" fill="#aab2de" opacity="0.66"/>
<circle cx="425.05" cy="302.39" r="0.93" fill="#aab2de" opacity="0.74"/>
<circle cx="435.13" cy="313.41" r="1.31" fill="#aab2de" opacity="0.35"/>
<circle cx="441.65" cy="301.95" r="1.69" fill="#aab2de" opacity="0.72"/>
<circle cx="445.30" cy="294.72" r="1.04" fill="#aab2de" opacity="0.53"/>
<circle cx="427.50" cy="313.03" r="0.63" fill="#aab2de" opacity="0.40"/>
<circle cx="446.84" cy="298.77" r="1.38" fill="#aab2de" opacity="0.74"/>
<circle cx="422.62" cy="300.25" r="1.09" fill="#aab2de" opacity="0.71"/>
<circle cx="443.22" cy="305.94" r="1.23" fill="#aab2de" opacity="0.67"/>
<circle cx="425.01" cy="307.39" r="1.66" fill="#aab2de" opacity="0.52"/>
<circle cx="435.74" cy="304.37" r="1.55" fill="#aab2de" opacity="0.54"/>
<circle cx="427.47" cy="308.49" r="0.73" fill="#aab2de" opacity="0.44"/>
<circle cx="435.62" cy="308.99" r="1.55" fill="#aab2de" opacity="0.45"/>
<circle cx="445.75" cy="308.97" r="1.21" fill="#aab2de" opacity="0.36"/>
<circle cx="429.86" cy="291.98" r="1.31" fill="#aab2de" opacity="0.66"/>
<circle cx="429.23" cy="305.09" r="1.42" fill="#aab2de" opacity="0.60"/>
<circle cx="433.32" cy="296.48" r="1.01" fill="#aab2de" opacity="0.63"/>
<circle cx="427.04" cy="309.15" r="1.12" fill="#aab2de" opacity="0.65"/>
<circle cx="429.40" cy="309.98" r="1.51" fill="#aab2de" opacity="0.47"/>
<circle cx="439.92" cy="311.86" r="0.75" fill="#aab2de" opacity="0.69"/>
<circle cx="432.96" cy="314.97" r="1.19" fill="#aab2de" opacity="0.41"/>
<circle cx="423.78" cy="300.61" r="1.13" fill="#aab2de" opacity="0.60"/>
<circle cx="425.88" cy="311.94" r="0.79" fill="#aab2de" opacity="0.67"/>
<circle cx="444.65" cy="303.55" r="0.67" fill="#aab2de" opacity="0.40"/>
<circle cx="423.93" cy="295.22" r="0.94" fill="#aab2de" opacity="0.51"/>
<circle cx="424.46" cy="303.70" r="0.99" fill="#aab2de" opacity="0.49"/>
<circle cx="441.18" cy="293.97" r="0.99" fill="#aab2de" opacity="0.68"/>
<circle cx="444.01" cy="302.04" r="0.62" fill="#aab2de" opacity="0.47"/>
<circle cx="439.55" cy="298.71" r="0.82" fill="#aab2de" opacity="0.67"/>
<circle cx="444.51" cy="310.41" r="0.85" fill="#aab2de" opacity="0.51"/>
<circle cx="431.20" cy="299.54" r="1.45" fill="#aab2de" opacity="0.53"/>
<circle cx="436.52" cy="290.22" r="0.68" fill="#aab2de" opacity="0.68"/>
<circle cx="437.90" cy="296.02" r="1.25" fill="#aab2de" opacity="0.43"/>
<circle cx="423.47" cy="299.25" r="1.01" fill="#aab2de" opacity="0.56"/>
<circle cx="443.63" cy="311.46" r="1.29" fill="#aab2de" opacity="0.68"/>
<circle cx="445.34" cy="307.84" r="0.70" fill="#aab2de" opacity="0.57"/>
<circle cx="436.57" cy="315.01" r="0.72" fill="#aab2de" opacity="0.54"/>
<circle cx="426.63" cy="303.65" r="0.67" fill="#aab2de" opacity="0.62"/>
<circle cx="443.10" cy="300.66" r="1.59" fill="#aab2de" opacity="0.49"/>
<circle cx="433.66" cy="311.24" r="1.67" fill="#aab2de" opacity="0.66"/>
<circle cx="433.17" cy="300.08" r="1.10" fill="#aab2de" opacity="0.36"/>
<circle cx="442.77" cy="305.29" r="0.87" fill="#aab2de" opacity="0.39"/>
<circle cx="422.91" cy="301.21" r="1.62" fill="#aab2de" opacity="0.72"/>
<circle cx="429.83" cy="304.69" r="1.66" fill="#aab2de" opacity="0.52"/>
<circle cx="428.14" cy="312.47" r="1.21" fill="#aab2de" opacity="0.73"/>
<circle cx="430.98" cy="289.40" r="0.77" fill="#aab2de" opacity="0.73"/>
<circle cx="423.95" cy="299.14" r="0.93" fill="#aab2de" opacity="0.45"/>
<circle cx="433.37" cy="307.51" r="1.66" fill="#aab2de" opacity="0.40"/>
<circle cx="435.50" cy="312.99" r="0.83" fill="#aab2de" opacity="0.44"/>
<circle cx="434.88" cy="308.73" r="0.61" fill="#aab2de" opacity="0.65"/>
<circle cx="430.88" cy="295.68" r="1.59" fill="#aab2de" opacity="0.57"/>
<circle cx="437.52" cy="315.32" r="0.85" fill="#aab2de" opacity="0.67"/>
<circle cx="435.30" cy="301.42" r="1.53" fill="#aab2de" opacity="0.52"/>
<circle cx="421.68" cy="301.91" r="1.10" fill="#aab2de" opacity="0.45"/>
<circle cx="447.27" cy="306.05" r="1.10" fill="#aab2de" opacity="0.63"/>
<circle cx="426.41" cy="291.60" r="1.63" fill="#aab2de" opacity="0.72"/>
<circle cx="421.93" cy="301.73" r="0.94" fill="#aab2de" opacity="0.40"/>
<circle cx="433.41" cy="300.19" r="0.98" fill="#3440a0" opacity="0.63"/>
<circle cx="427.96" cy="305.74" r="0.59" fill="#3440a0" opacity="0.71"/>
<circle cx="435.56" cy="300.43" r="0.61" fill="#3440a0" opacity="0.60"/>
<circle cx="444.41" cy="299.59" r="0.67" fill="#3440a0" opacity="0.87"/>
<circle cx="428.09" cy="308.04" r="0.64" fill="#3440a0" opacity="0.59"/>
<circle cx="432.75" cy="294.55" r="0.71" fill="#3440a0" opacity="0.73"/>
<circle cx="436.32" cy="289.52" r="0.69" fill="#3440a0" opacity="0.88"/>
<circle cx="448.42" cy="297.34" r="0.83" fill="#3440a0" opacity="0.68"/>
<circle cx="426.32" cy="312.61" r="0.68" fill="#3440a0" opacity="0.80"/>
<circle cx="428.24" cy="307.87" r="0.41" fill="#3440a0" opacity="0.79"/>
<circle cx="432.44" cy="312.11" r="0.84" fill="#3440a0" opacity="0.83"/>
<circle cx="446.26" cy="298.02" r="0.54" fill="#3440a0" opacity="0.87"/>
<circle cx="443.90" cy="305.26" r="0.96" fill="#3440a0" opacity="0.84"/>
<circle cx="423.65" cy="294.43" r="0.51" fill="#3440a0" opacity="0.52"/>
<circle cx="430.89" cy="315.67" r="0.42" fill="#3440a0" opacity="0.63"/>
<circle cx="428.34" cy="301.76" r="0.92" fill="#3440a0" opacity="0.54"/>
<circle cx="447.62" cy="309.61" r="0.41" fill="#3440a0" opacity="0.59"/>
<circle cx="423.43" cy="309.61" r="0.60" fill="#3440a0" opacity="0.73"/>
<circle cx="438.88" cy="291.21" r="0.90" fill="#3440a0" opacity="0.51"/>
<circle cx="432.95" cy="301.55" r="0.91" fill="#3440a0" opacity="0.51"/>
<circle cx="442.98" cy="307.49" r="0.77" fill="#3440a0" opacity="0.51"/>
<circle cx="431.99" cy="298.47" r="0.59" fill="#3440a0" opacity="0.52"/>
<circle cx="433.07" cy="288.84" r="0.86" fill="#3440a0" opacity="0.63"/>
<circle cx="435.02" cy="316.52" r="0.89" fill="#3440a0" opacity="0.89"/>
<circle cx="423.14" cy="309.12" r="0.81" fill="#3440a0" opacity="0.81"/>
<circle cx="422.02" cy="301.11" r="0.70" fill="#3440a0" opacity="0.61"/>
<circle cx="432.05" cy="302.52" r="0.80" fill="#3440a0" opacity="0.63"/>
<circle cx="440.53" cy="313.96" r="0.72" fill="#3440a0" opacity="0.63"/>
<circle cx="447.60" cy="295.48" r="0.66" fill="#3440a0" opacity="0.72"/>
<circle cx="443.78" cy="302.11" r="0.99" fill="#3440a0" opacity="0.70"/>
<circle cx="437.49" cy="302.00" r="0.41" fill="#3440a0" opacity="0.52"/>
<circle cx="446.37" cy="307.92" r="0.99" fill="#3440a0" opacity="0.80"/>
<circle cx="427.83" cy="296.54" r="0.63" fill="#3440a0" opacity="0.55"/>
<circle cx="430.91" cy="305.19" r="0.89" fill="#3440a0" opacity="0.72"/>
<circle cx="425.25" cy="311.54" r="0.58" fill="#3440a0" opacity="0.85"/>
<circle cx="432.64" cy="290.69" r="0.76" fill="#3440a0" opacity="0.75"/>
<circle cx="447.01" cy="293.68" r="0.74" fill="#3440a0" opacity="0.88"/>
<circle cx="435.45" cy="316.24" r="0.93" fill="#3440a0" opacity="0.75"/>
<circle cx="445.67" cy="310.93" r="0.63" fill="#3440a0" opacity="0.63"/>
<circle cx="439.15" cy="300.79" r="0.79" fill="#3440a0" opacity="0.59"/>
<circle cx="439.66" cy="297.10" r="0.46" fill="#3440a0" opacity="0.69"/>
<circle cx="422.71" cy="305.48" r="0.57" fill="#3440a0" opacity="0.62"/>
<circle cx="432.04" cy="312.59" r="0.48" fill="#3440a0" opacity="0.72"/>
<circle cx="440.22" cy="291.08" r="0.55" fill="#3440a0" opacity="0.69"/>
<circle cx="443.38" cy="307.73" r="0.86" fill="#3440a0" opacity="0.50"/>
<circle cx="426.49" cy="290.84" r="0.57" fill="#3440a0" opacity="0.63"/>
<circle cx="432.57" cy="296.84" r="0.56" fill="#3440a0" opacity="0.75"/>
<circle cx="429.02" cy="301.41" r="0.52" fill="#3440a0" opacity="0.70"/>
<circle cx="439.43" cy="297.23" r="0.81" fill="#3440a0" opacity="0.71"/>
<circle cx="433.35" cy="311.40" r="0.89" fill="#3440a0" opacity="0.54"/>
</g>
<circle cx="435.00" cy="302.10" r="14.00" fill="none" stroke="#3440a0" stroke-width="1.4" opacity="0.75"/>
<clipPath id="cl15"><circle cx="403.60" cy="334.50" r="14.70"/></clipPath>
<g clip-path="url(#cl15)">
<circle cx="403.60" cy="334.50" r="14.70" fill="#4854b4" />
<circle cx="405.04" cy="334.18" r="1.41" fill="#a2aadc" opacity="0.41"/>
<circle cx="405.37" cy="334.35" r="1.57" fill="#a2aadc" opacity="0.62"/>
<circle cx="412.15" cy="323.80" r="0.86" fill="#a2aadc" opacity="0.49"/>
<circle cx="401.72" cy="327.49" r="0.89" fill="#a2aadc" opacity="0.44"/>
<circle cx="411.63" cy="324.52" r="1.48" fill="#a2aadc" opacity="0.44"/>
<circle cx="412.32" cy="330.04" r="0.85" fill="#a2aadc" opacity="0.53"/>
<circle cx="400.23" cy="336.36" r="1.22" fill="#a2aadc" opacity="0.49"/>
<circle cx="391.63" cy="328.90" r="1.31" fill="#a2aadc" opacity="0.51"/>
<circle cx="412.55" cy="324.17" r="1.14" fill="#a2aadc" opacity="0.73"/>
<circle cx="408.70" cy="335.10" r="0.79" fill="#a2aadc" opacity="0.73"/>
<circle cx="399.36" cy="323.69" r="0.92" fill="#a2aadc" opacity="0.55"/>
<circle cx="406.88" cy="331.68" r="0.73" fill="#a2aadc" opacity="0.37"/>
<circle cx="391.28" cy="336.96" r="1.21" fill="#a2aadc" opacity="0.51"/>
<circle cx="397.80" cy="334.43" r="1.64" fill="#a2aadc" opacity="0.49"/>
<circle cx="404.31" cy="342.11" r="1.51" fill="#a2aadc" opacity="0.48"/>
<circle cx="410.16" cy="330.03" r="1.09" fill="#a2aadc" opacity="0.38"/>
<circle cx="413.82" cy="327.79" r="1.12" fill="#a2aadc" opacity="0.40"/>
<circle cx="395.21" cy="334.90" r="1.52" fill="#a2aadc" opacity="0.72"/>
<circle cx="403.19" cy="327.17" r="0.65" fill="#a2aadc" opacity="0.71"/>
<circle cx="408.72" cy="332.64" r="1.15" fill="#a2aadc" opacity="0.54"/>
<circle cx="406.41" cy="334.08" r="0.67" fill="#a2aadc" opacity="0.69"/>
<circle cx="395.16" cy="330.56" r="1.46" fill="#a2aadc" opacity="0.59"/>
<circle cx="401.15" cy="328.02" r="0.69" fill="#a2aadc" opacity="0.35"/>
<circle cx="398.10" cy="344.06" r="1.02" fill="#a2aadc" opacity="0.49"/>
<circle cx="395.14" cy="326.70" r="1.25" fill="#a2aadc" opacity="0.47"/>
<circle cx="408.94" cy="323.47" r="1.58" fill="#a2aadc" opacity="0.71"/>
<circle cx="414.76" cy="335.56" r="0.98" fill="#a2aadc" opacity="0.51"/>
<circle cx="398.44" cy="333.91" r="0.87" fill="#a2aadc" opacity="0.74"/>
<circle cx="397.22" cy="345.93" r="1.35" fill="#a2aadc" opacity="0.48"/>
<circle cx="399.14" cy="344.18" r="1.37" fill="#a2aadc" opacity="0.49"/>
<circle cx="408.90" cy="336.56" r="1.55" fill="#a2aadc" opacity="0.64"/>
<circle cx="413.33" cy="342.38" r="1.23" fill="#a2aadc" opacity="0.48"/>
<circle cx="407.46" cy="331.46" r="0.71" fill="#a2aadc" opacity="0.49"/>
<circle cx="402.82" cy="324.39" r="1.13" fill="#a2aadc" opacity="0.71"/>
<circle cx="394.04" cy="342.02" r="0.61" fill="#a2aadc" opacity="0.66"/>
<circle cx="409.81" cy="343.69" r="1.52" fill="#a2aadc" opacity="0.61"/>
<circle cx="394.66" cy="329.67" r="1.43" fill="#a2aadc" opacity="0.50"/>
<circle cx="404.66" cy="344.67" r="1.17" fill="#a2aadc" opacity="0.40"/>
<circle cx="394.41" cy="332.74" r="0.77" fill="#a2aadc" opacity="0.63"/>
<circle cx="405.02" cy="326.65" r="1.55" fill="#a2aadc" opacity="0.74"/>
<circle cx="399.01" cy="327.05" r="0.90" fill="#a2aadc" opacity="0.40"/>
<circle cx="401.63" cy="348.05" r="0.67" fill="#a2aadc" opacity="0.72"/>
<circle cx="399.65" cy="323.03" r="0.71" fill="#a2aadc" opacity="0.61"/>
<circle cx="406.73" cy="345.33" r="1.47" fill="#a2aadc" opacity="0.64"/>
<circle cx="391.03" cy="331.66" r="0.85" fill="#a2aadc" opacity="0.41"/>
<circle cx="405.75" cy="332.08" r="1.06" fill="#a2aadc" opacity="0.52"/>
<circle cx="409.59" cy="328.67" r="1.23" fill="#a2aadc" opacity="0.55"/>
<circle cx="394.26" cy="335.75" r="1.12" fill="#a2aadc" opacity="0.59"/>
<circle cx="395.48" cy="338.17" r="1.62" fill="#a2aadc" opacity="0.74"/>
<circle cx="403.85" cy="347.83" r="0.63" fill="#a2aadc" opacity="0.48"/>
<circle cx="408.14" cy="331.16" r="1.34" fill="#a2aadc" opacity="0.75"/>
<circle cx="396.52" cy="328.49" r="0.63" fill="#a2aadc" opacity="0.53"/>
<circle cx="391.74" cy="337.24" r="1.03" fill="#a2aadc" opacity="0.67"/>
<circle cx="394.56" cy="340.63" r="1.43" fill="#a2aadc" opacity="0.42"/>
<circle cx="412.40" cy="331.85" r="1.13" fill="#a2aadc" opacity="0.74"/>
<circle cx="394.69" cy="330.23" r="0.83" fill="#a2aadc" opacity="0.44"/>
<circle cx="404.25" cy="324.78" r="1.32" fill="#a2aadc" opacity="0.63"/>
<circle cx="400.39" cy="327.40" r="1.55" fill="#a2aadc" opacity="0.53"/>
<circle cx="409.33" cy="345.90" r="1.59" fill="#a2aadc" opacity="0.40"/>
<circle cx="412.13" cy="326.99" r="0.90" fill="#a2aadc" opacity="0.58"/>
<circle cx="408.31" cy="331.99" r="1.33" fill="#a2aadc" opacity="0.45"/>
<circle cx="411.49" cy="345.27" r="1.69" fill="#a2aadc" opacity="0.61"/>
<circle cx="405.86" cy="326.19" r="1.07" fill="#a2aadc" opacity="0.60"/>
<circle cx="408.08" cy="323.94" r="1.12" fill="#a2aadc" opacity="0.60"/>
<circle cx="393.50" cy="341.58" r="1.56" fill="#a2aadc" opacity="0.66"/>
<circle cx="399.92" cy="342.12" r="1.68" fill="#a2aadc" opacity="0.50"/>
<circle cx="401.43" cy="330.84" r="0.74" fill="#a2aadc" opacity="0.44"/>
<circle cx="400.55" cy="328.71" r="1.32" fill="#a2aadc" opacity="0.38"/>
<circle cx="399.47" cy="323.79" r="0.88" fill="#a2aadc" opacity="0.45"/>
<circle cx="403.54" cy="344.13" r="0.80" fill="#a2aadc" opacity="0.44"/>
<circle cx="408.04" cy="322.01" r="0.78" fill="#a2aadc" opacity="0.56"/>
<circle cx="396.36" cy="323.28" r="1.22" fill="#a2aadc" opacity="0.56"/>
<circle cx="405.25" cy="322.45" r="1.38" fill="#a2aadc" opacity="0.60"/>
<circle cx="404.66" cy="331.90" r="1.44" fill="#a2aadc" opacity="0.44"/>
<circle cx="398.40" cy="341.34" r="1.17" fill="#a2aadc" opacity="0.59"/>
<circle cx="397.01" cy="330.50" r="1.00" fill="#a2aadc" opacity="0.61"/>
<circle cx="411.28" cy="330.96" r="0.61" fill="#a2aadc" opacity="0.69"/>
<circle cx="413.14" cy="326.32" r="1.30" fill="#a2aadc" opacity="0.52"/>
<circle cx="415.65" cy="339.74" r="1.08" fill="#a2aadc" opacity="0.40"/>
<circle cx="401.56" cy="332.46" r="1.03" fill="#a2aadc" opacity="0.59"/>
<circle cx="406.27" cy="326.74" r="0.82" fill="#a2aadc" opacity="0.49"/>
<circle cx="405.37" cy="330.77" r="0.75" fill="#a2aadc" opacity="0.49"/>
<circle cx="415.90" cy="330.68" r="1.66" fill="#a2aadc" opacity="0.37"/>
<circle cx="398.38" cy="334.46" r="1.24" fill="#a2aadc" opacity="0.67"/>
<circle cx="392.29" cy="335.79" r="1.35" fill="#a2aadc" opacity="0.55"/>
<circle cx="398.44" cy="338.78" r="1.39" fill="#a2aadc" opacity="0.74"/>
<circle cx="416.50" cy="331.87" r="1.53" fill="#a2aadc" opacity="0.61"/>
<circle cx="398.84" cy="334.63" r="1.48" fill="#a2aadc" opacity="0.42"/>
<circle cx="415.10" cy="329.14" r="0.91" fill="#a2aadc" opacity="0.71"/>
<circle cx="404.07" cy="322.17" r="0.72" fill="#a2aadc" opacity="0.46"/>
<circle cx="411.61" cy="346.30" r="0.55" fill="#28329a" opacity="0.68"/>
<circle cx="403.73" cy="325.24" r="0.78" fill="#28329a" opacity="0.75"/>
<circle cx="393.31" cy="344.22" r="0.80" fill="#28329a" opacity="0.80"/>
<circle cx="402.26" cy="323.00" r="0.50" fill="#28329a" opacity="0.87"/>
<circle cx="408.00" cy="332.84" r="0.62" fill="#28329a" opacity="0.57"/>
<circle cx="411.15" cy="342.75" r="0.66" fill="#28329a" opacity="0.55"/>
<circle cx="391.42" cy="335.89" r="0.48" fill="#28329a" opacity="0.76"/>
<circle cx="396.35" cy="323.22" r="1.00" fill="#28329a" opacity="0.85"/>
<circle cx="400.62" cy="337.52" r="0.60" fill="#28329a" opacity="0.57"/>
<circle cx="408.96" cy="327.40" r="0.74" fill="#28329a" opacity="0.79"/>
<circle cx="389.36" cy="338.10" r="0.80" fill="#28329a" opacity="0.74"/>
<circle cx="407.23" cy="340.73" r="0.81" fill="#28329a" opacity="0.68"/>
<circle cx="391.51" cy="327.89" r="0.81" fill="#28329a" opacity="0.84"/>
<circle cx="401.04" cy="337.34" r="0.57" fill="#28329a" opacity="0.86"/>
<circle cx="403.92" cy="339.64" r="0.44" fill="#28329a" opacity="0.90"/>
<circle cx="404.63" cy="338.43" r="0.62" fill="#28329a" opacity="0.52"/>
<circle cx="402.09" cy="322.40" r="0.65" fill="#28329a" opacity="0.79"/>
<circle cx="416.64" cy="335.98" r="0.79" fill="#28329a" opacity="0.80"/>
<circle cx="412.57" cy="345.69" r="0.99" fill="#28329a" opacity="0.69"/>
<circle cx="399.11" cy="344.07" r="0.83" fill="#28329a" opacity="0.68"/>
<circle cx="389.79" cy="330.62" r="0.83" fill="#28329a" opacity="0.66"/>
<circle cx="414.60" cy="327.48" r="0.41" fill="#28329a" opacity="0.70"/>
<circle cx="401.03" cy="342.20" r="0.62" fill="#28329a" opacity="0.83"/>
<circle cx="397.99" cy="329.85" r="0.44" fill="#28329a" opacity="0.56"/>
<circle cx="395.94" cy="342.14" r="0.70" fill="#28329a" opacity="0.67"/>
<circle cx="395.55" cy="333.06" r="0.97" fill="#28329a" opacity="0.59"/>
<circle cx="395.49" cy="343.25" r="0.90" fill="#28329a" opacity="0.66"/>
<circle cx="398.68" cy="328.96" r="0.41" fill="#28329a" opacity="0.89"/>
<circle cx="415.29" cy="339.79" r="0.42" fill="#28329a" opacity="0.62"/>
<circle cx="389.72" cy="333.16" r="0.88" fill="#28329a" opacity="0.62"/>
<circle cx="416.34" cy="335.14" r="0.85" fill="#28329a" opacity="0.87"/>
<circle cx="411.65" cy="343.43" r="0.77" fill="#28329a" opacity="0.85"/>
<circle cx="411.01" cy="323.97" r="0.91" fill="#28329a" opacity="0.53"/>
<circle cx="414.98" cy="333.58" r="0.94" fill="#28329a" opacity="0.56"/>
<circle cx="389.83" cy="333.08" r="0.98" fill="#28329a" opacity="0.74"/>
<circle cx="405.36" cy="333.11" r="0.46" fill="#28329a" opacity="0.60"/>
<circle cx="412.34" cy="325.68" r="0.66" fill="#28329a" opacity="0.87"/>
<circle cx="398.02" cy="333.96" r="0.97" fill="#28329a" opacity="0.80"/>
<circle cx="416.58" cy="334.06" r="0.70" fill="#28329a" opacity="0.86"/>
<circle cx="404.46" cy="335.45" r="0.56" fill="#28329a" opacity="0.88"/>
<circle cx="414.48" cy="341.22" r="0.72" fill="#28329a" opacity="0.55"/>
<circle cx="406.80" cy="346.55" r="0.63" fill="#28329a" opacity="0.85"/>
<circle cx="414.19" cy="338.00" r="0.91" fill="#28329a" opacity="0.60"/>
<circle cx="401.69" cy="345.52" r="0.50" fill="#28329a" opacity="0.76"/>
<circle cx="410.94" cy="330.61" r="0.50" fill="#28329a" opacity="0.85"/>
</g>
<circle cx="403.60" cy="334.50" r="14.00" fill="none" stroke="#28329a" stroke-width="1.4" opacity="0.75"/>
<clipPath id="cl16"><circle cx="435.00" cy="334.50" r="14.70"/></clipPath>
<g clip-path="url(#cl16)">
<circle cx="435.00" cy="334.50" r="14.70" fill="#6c7ac4" />
<circle cx="428.88" cy="341.76" r="1.06" fill="#aeb6e0" opacity="0.53"/>
<circle cx="425.64" cy="340.48" r="0.88" fill="#aeb6e0" opacity="0.60"/>
<circle cx="442.51" cy="334.98" r="0.97" fill="#aeb6e0" opacity="0.41"/>
<circle cx="434.68" cy="326.88" r="1.47" fill="#aeb6e0" opacity="0.73"/>
<circle cx="434.71" cy="347.45" r="1.49" fill="#aeb6e0" opacity="0.62"/>
<circle cx="444.12" cy="336.08" r="1.29" fill="#aeb6e0" opacity="0.47"/>
<circle cx="436.22" cy="342.03" r="0.88" fill="#aeb6e0" opacity="0.67"/>
<circle cx="429.86" cy="341.78" r="1.31" fill="#aeb6e0" opacity="0.73"/>
<circle cx="434.23" cy="337.27" r="1.67" fill="#aeb6e0" opacity="0.68"/>
<circle cx="437.48" cy="324.91" r="0.86" fill="#aeb6e0" opacity="0.41"/>
<circle cx="431.89" cy="343.27" r="0.67" fill="#aeb6e0" opacity="0.63"/>
<circle cx="434.78" cy="332.95" r="1.53" fill="#aeb6e0" opacity="0.55"/>
<circle cx="443.24" cy="329.89" r="1.48" fill="#aeb6e0" opacity="0.53"/>
<circle cx="427.66" cy="328.19" r="0.63" fill="#aeb6e0" opacity="0.41"/>
<circle cx="435.97" cy="343.18" r="1.01" fill="#aeb6e0" opacity="0.57"/>
<circle cx="430.33" cy="327.20" r="0.95" fill="#aeb6e0" opacity="0.55"/>
<circle cx="446.59" cy="330.96" r="1.32" fill="#aeb6e0" opacity="0.68"/>
<circle cx="435.60" cy="338.81" r="0.70" fill="#aeb6e0" opacity="0.40"/>
<circle cx="445.82" cy="335.12" r="1.61" fill="#aeb6e0" opacity="0.40"/>
<circle cx="429.86" cy="322.25" r="1.44" fill="#aeb6e0" opacity="0.41"/>
<circle cx="430.53" cy="329.21" r="0.80" fill="#aeb6e0" opacity="0.35"/>
<circle cx="422.03" cy="332.41" r="0.71" fill="#aeb6e0" opacity="0.41"/>
<circle cx="432.94" cy="336.24" r="1.11" fill="#aeb6e0" opacity="0.64"/>
<circle cx="432.38" cy="335.16" r="0.63" fill="#aeb6e0" opacity="0.43"/>
<circle cx="428.45" cy="323.07" r="1.15" fill="#aeb6e0" opacity="0.39"/>
<circle cx="436.88" cy="343.13" r="0.72" fill="#aeb6e0" opacity="0.40"/>
<circle cx="423.50" cy="339.56" r="0.86" fill="#aeb6e0" opacity="0.70"/>
<circle cx="441.42" cy="328.17" r="0.85" fill="#aeb6e0" opacity="0.42"/>
<circle cx="428.83" cy="323.69" r="1.55" fill="#aeb6e0" opacity="0.43"/>
<circle cx="433.18" cy="335.40" r="0.94" fill="#aeb6e0" opacity="0.47"/>
<circle cx="437.69" cy="337.15" r="1.69" fill="#aeb6e0" opacity="0.47"/>
<circle cx="424.99" cy="334.56" r="1.12" fill="#aeb6e0" opacity="0.59"/>
<circle cx="425.41" cy="334.35" r="0.69" fill="#aeb6e0" opacity="0.60"/>
<circle cx="429.31" cy="324.33" r="0.94" fill="#aeb6e0" opacity="0.53"/>
<circle cx="439.05" cy="323.54" r="0.66" fill="#aeb6e0" opacity="0.48"/>
<circle cx="440.47" cy="344.67" r="1.04" fill="#aeb6e0" opacity="0.51"/>
<circle cx="436.56" cy="343.60" r="1.39" fill="#aeb6e0" opacity="0.60"/>
<circle cx="436.53" cy="342.98" r="1.29" fill="#aeb6e0" opacity="0.37"/>
<circle cx="436.70" cy="333.31" r="1.29" fill="#aeb6e0" opacity="0.41"/>
<circle cx="445.97" cy="331.41" r="0.84" fill="#aeb6e0" opacity="0.55"/>
<circle cx="442.15" cy="324.05" r="1.33" fill="#aeb6e0" opacity="0.61"/>
<circle cx="434.37" cy="321.41" r="1.17" fill="#aeb6e0" opacity="0.60"/>
<circle cx="437.92" cy="325.16" r="0.84" fill="#aeb6e0" opacity="0.58"/>
<circle cx="428.23" cy="343.90" r="1.42" fill="#aeb6e0" opacity="0.71"/>
<circle cx="436.59" cy="335.80" r="1.62" fill="#aeb6e0" opacity="0.64"/>
<circle cx="447.36" cy="334.30" r="1.65" fill="#aeb6e0" opacity="0.41"/>
<circle cx="439.21" cy="344.37" r="1.43" fill="#aeb6e0" opacity="0.40"/>
<circle cx="441.22" cy="332.40" r="0.82" fill="#aeb6e0" opacity="0.52"/>
<circle cx="436.70" cy="338.24" r="0.69" fill="#aeb6e0" opacity="0.36"/>
<circle cx="441.60" cy="343.66" r="1.46" fill="#aeb6e0" opacity="0.66"/>
<circle cx="424.67" cy="340.39" r="0.73" fill="#aeb6e0" opacity="0.70"/>
<circle cx="430.95" cy="337.07" r="1.02" fill="#aeb6e0" opacity="0.43"/>
<circle cx="434.63" cy="326.13" r="0.62" fill="#aeb6e0" opacity="0.43"/>
<circle cx="446.71" cy="340.95" r="1.05" fill="#aeb6e0" opacity="0.66"/>
<circle cx="427.68" cy="329.62" r="1.41" fill="#aeb6e0" opacity="0.57"/>
<circle cx="448.15" cy="338.19" r="0.98" fill="#aeb6e0" opacity="0.61"/>
<circle cx="423.35" cy="341.20" r="0.78" fill="#aeb6e0" opacity="0.37"/>
<circle cx="443.36" cy="336.79" r="1.53" fill="#aeb6e0" opacity="0.53"/>
<circle cx="439.71" cy="332.33" r="1.66" fill="#aeb6e0" opacity="0.42"/>
<circle cx="439.52" cy="330.47" r="1.24" fill="#aeb6e0" opacity="0.60"/>
<circle cx="443.65" cy="332.92" r="1.53" fill="#aeb6e0" opacity="0.37"/>
<circle cx="442.95" cy="328.66" r="1.19" fill="#aeb6e0" opacity="0.74"/>
<circle cx="430.81" cy="344.38" r="1.25" fill="#aeb6e0" opacity="0.47"/>
<circle cx="440.43" cy="341.65" r="0.91" fill="#aeb6e0" opacity="0.59"/>
<circle cx="431.70" cy="336.64" r="1.36" fill="#aeb6e0" opacity="0.72"/>
<circle cx="429.45" cy="329.49" r="0.93" fill="#aeb6e0" opacity="0.73"/>
<circle cx="424.05" cy="338.50" r="0.68" fill="#aeb6e0" opacity="0.68"/>
<circle cx="440.49" cy="330.16" r="0.94" fill="#aeb6e0" opacity="0.61"/>
<circle cx="446.62" cy="330.96" r="0.62" fill="#aeb6e0" opacity="0.40"/>
<circle cx="441.64" cy="328.91" r="1.65" fill="#aeb6e0" opacity="0.53"/>
<circle cx="438.26" cy="328.99" r="1.66" fill="#aeb6e0" opacity="0.54"/>
<circle cx="441.09" cy="334.66" r="0.69" fill="#aeb6e0" opacity="0.52"/>
<circle cx="448.02" cy="330.92" r="1.62" fill="#aeb6e0" opacity="0.51"/>
<circle cx="436.43" cy="322.78" r="1.51" fill="#aeb6e0" opacity="0.74"/>
<circle cx="440.96" cy="324.11" r="0.95" fill="#aeb6e0" opacity="0.42"/>
<circle cx="428.57" cy="338.14" r="1.43" fill="#aeb6e0" opacity="0.41"/>
<circle cx="438.43" cy="345.70" r="0.64" fill="#aeb6e0" opacity="0.38"/>
<circle cx="436.92" cy="334.51" r="0.71" fill="#aeb6e0" opacity="0.65"/>
<circle cx="434.47" cy="338.94" r="1.15" fill="#aeb6e0" opacity="0.49"/>
<circle cx="438.51" cy="334.58" r="0.88" fill="#aeb6e0" opacity="0.52"/>
<circle cx="441.54" cy="340.49" r="1.13" fill="#aeb6e0" opacity="0.72"/>
<circle cx="429.14" cy="329.72" r="0.84" fill="#aeb6e0" opacity="0.42"/>
<circle cx="424.84" cy="343.21" r="1.67" fill="#aeb6e0" opacity="0.41"/>
<circle cx="427.66" cy="325.04" r="1.62" fill="#aeb6e0" opacity="0.65"/>
<circle cx="432.24" cy="331.43" r="0.89" fill="#aeb6e0" opacity="0.73"/>
<circle cx="445.90" cy="327.63" r="0.97" fill="#aeb6e0" opacity="0.66"/>
<circle cx="437.04" cy="326.12" r="0.97" fill="#aeb6e0" opacity="0.53"/>
<circle cx="433.16" cy="334.05" r="0.62" fill="#aeb6e0" opacity="0.75"/>
<circle cx="427.69" cy="339.35" r="1.25" fill="#aeb6e0" opacity="0.56"/>
<circle cx="431.78" cy="325.04" r="0.62" fill="#aeb6e0" opacity="0.37"/>
<circle cx="434.32" cy="342.70" r="1.68" fill="#aeb6e0" opacity="0.55"/>
<circle cx="443.53" cy="343.67" r="0.95" fill="#aeb6e0" opacity="0.52"/>
<circle cx="427.17" cy="325.91" r="0.87" fill="#aeb6e0" opacity="0.52"/>
<circle cx="448.22" cy="335.32" r="1.56" fill="#aeb6e0" opacity="0.68"/>
<circle cx="438.04" cy="344.91" r="1.07" fill="#aeb6e0" opacity="0.41"/>
<circle cx="437.94" cy="346.95" r="1.27" fill="#aeb6e0" opacity="0.59"/>
<circle cx="441.88" cy="342.43" r="1.58" fill="#aeb6e0" opacity="0.43"/>
<circle cx="436.25" cy="347.68" r="0.90" fill="#aeb6e0" opacity="0.53"/>
<circle cx="445.21" cy="328.69" r="0.94" fill="#aeb6e0" opacity="0.48"/>
<circle cx="435.05" cy="337.26" r="1.18" fill="#aeb6e0" opacity="0.41"/>
<circle cx="434.40" cy="347.86" r="0.47" fill="#3a46a4" opacity="0.53"/>
<circle cx="446.08" cy="338.23" r="0.55" fill="#3a46a4" opacity="0.61"/>
<circle cx="422.53" cy="332.85" r="0.98" fill="#3a46a4" opacity="0.52"/>
<circle cx="433.95" cy="335.99" r="0.61" fill="#3a46a4" opacity="0.77"/>
<circle cx="429.95" cy="342.70" r="0.58" fill="#3a46a4" opacity="0.89"/>
<circle cx="440.09" cy="321.61" r="0.77" fill="#3a46a4" opacity="0.86"/>
<circle cx="432.24" cy="330.99" r="0.48" fill="#3a46a4" opacity="0.88"/>
<circle cx="423.06" cy="330.39" r="0.74" fill="#3a46a4" opacity="0.86"/>
<circle cx="436.82" cy="340.09" r="0.53" fill="#3a46a4" opacity="0.79"/>
<circle cx="426.22" cy="328.37" r="0.52" fill="#3a46a4" opacity="0.67"/>
<circle cx="433.91" cy="338.93" r="0.97" fill="#3a46a4" opacity="0.82"/>
<circle cx="437.39" cy="325.83" r="0.90" fill="#3a46a4" opacity="0.82"/>
<circle cx="436.48" cy="348.79" r="0.88" fill="#3a46a4" opacity="0.52"/>
<circle cx="438.42" cy="337.14" r="0.80" fill="#3a46a4" opacity="0.56"/>
<circle cx="436.61" cy="336.65" r="0.66" fill="#3a46a4" opacity="0.62"/>
<circle cx="429.24" cy="332.12" r="0.82" fill="#3a46a4" opacity="0.75"/>
<circle cx="423.56" cy="343.32" r="0.76" fill="#3a46a4" opacity="0.72"/>
<circle cx="435.64" cy="342.55" r="0.83" fill="#3a46a4" opacity="0.64"/>
<circle cx="442.40" cy="340.48" r="0.69" fill="#3a46a4" opacity="0.56"/>
<circle cx="435.54" cy="348.63" r="0.89" fill="#3a46a4" opacity="0.67"/>
<circle cx="435.62" cy="322.72" r="0.52" fill="#3a46a4" opacity="0.72"/>
<circle cx="445.47" cy="339.08" r="0.72" fill="#3a46a4" opacity="0.54"/>
<circle cx="427.78" cy="333.76" r="0.80" fill="#3a46a4" opacity="0.90"/>
<circle cx="436.31" cy="330.94" r="0.76" fill="#3a46a4" opacity="0.72"/>
<circle cx="441.79" cy="330.61" r="0.46" fill="#3a46a4" opacity="0.65"/>
<circle cx="427.79" cy="345.91" r="0.93" fill="#3a46a4" opacity="0.74"/>
<circle cx="435.65" cy="324.82" r="0.56" fill="#3a46a4" opacity="0.67"/>
<circle cx="431.46" cy="326.93" r="0.90" fill="#3a46a4" opacity="0.68"/>
<circle cx="435.50" cy="344.98" r="0.92" fill="#3a46a4" opacity="0.64"/>
<circle cx="430.77" cy="344.13" r="0.97" fill="#3a46a4" opacity="0.82"/>
<circle cx="433.62" cy="327.28" r="0.77" fill="#3a46a4" opacity="0.77"/>
<circle cx="431.76" cy="344.66" r="0.50" fill="#3a46a4" opacity="0.87"/>
<circle cx="429.23" cy="324.16" r="0.89" fill="#3a46a4" opacity="0.80"/>
<circle cx="428.65" cy="344.07" r="0.48" fill="#3a46a4" opacity="0.77"/>
<circle cx="427.58" cy="342.17" r="0.90" fill="#3a46a4" opacity="0.62"/>
<circle cx="439.94" cy="346.67" r="0.57" fill="#3a46a4" opacity="0.86"/>
<circle cx="440.33" cy="332.06" r="0.74" fill="#3a46a4" opacity="0.88"/>
<circle cx="428.14" cy="324.95" r="0.48" fill="#3a46a4" opacity="0.67"/>
<circle cx="435.16" cy="334.09" r="0.83" fill="#3a46a4" opacity="0.62"/>
<circle cx="432.13" cy="347.62" r="0.62" fill="#3a46a4" opacity="0.70"/>
<circle cx="443.09" cy="334.36" r="0.98" fill="#3a46a4" opacity="0.63"/>
<circle cx="432.11" cy="332.68" r="0.99" fill="#3a46a4" opacity="0.69"/>
<circle cx="420.59" cy="334.90" r="0.65" fill="#3a46a4" opacity="0.51"/>
<circle cx="433.84" cy="336.40" r="0.42" fill="#3a46a4" opacity="0.85"/>
<circle cx="437.74" cy="322.33" r="0.78" fill="#3a46a4" opacity="0.65"/>
<circle cx="427.71" cy="331.06" r="0.78" fill="#3a46a4" opacity="0.81"/>
<circle cx="429.42" cy="339.69" r="0.60" fill="#3a46a4" opacity="0.59"/>
<circle cx="446.82" cy="328.14" r="0.58" fill="#3a46a4" opacity="0.54"/>
<circle cx="422.22" cy="334.35" r="0.57" fill="#3a46a4" opacity="0.80"/>
<circle cx="430.39" cy="339.13" r="0.89" fill="#3a46a4" opacity="0.79"/>
</g>
<circle cx="435.00" cy="334.50" r="14.00" fill="none" stroke="#3a46a4" stroke-width="1.4" opacity="0.75"/>
<text x="372.00" y="273.50" font-size="10.4" text-anchor="start" font-weight="normal" fill="#1e1e1e" stroke="#1e1e1e" stroke-width="0.28" >PE</text>
<text x="372.00" y="305.40" font-size="10.4" text-anchor="start" font-weight="normal" fill="#1e1e1e" stroke="#1e1e1e" stroke-width="0.28" >PP</text>
<text x="372.00" y="337.60" font-size="10.4" text-anchor="start" font-weight="normal" fill="#1e1e1e" stroke="#1e1e1e" stroke-width="0.28" >PD</text>
<clipPath id="th300"><rect x="64.30" y="400.30" width="20.00" height="19.60"/></clipPath><g clip-path="url(#th300)">
<rect x="64.30" y="400.30" width="20.00" height="19.60" fill="#faf4fa" stroke="none" stroke-width="1" />
<ellipse cx="76.02" cy="407.43" rx="0.70" ry="0.50" transform="rotate(148 76.02 407.43)" fill="#4a2a80" opacity="0.94"/>
<ellipse cx="68.42" cy="403.60" rx="1.00" ry="0.57" transform="rotate(114 68.42 403.60)" fill="#3a2070" opacity="0.98"/>
<ellipse cx="76.02" cy="414.81" rx="1.52" ry="0.41" transform="rotate(12 76.02 414.81)" fill="#4a2a80" opacity="0.98"/>
<ellipse cx="75.30" cy="417.96" rx="0.95" ry="0.51" transform="rotate(12 75.30 417.96)" fill="#3a2070" opacity="0.94"/>
<ellipse cx="79.74" cy="407.97" rx="1.53" ry="0.63" transform="rotate(147 79.74 407.97)" fill="#3a2070" opacity="0.94"/>
<ellipse cx="68.54" cy="402.32" rx="1.13" ry="0.42" transform="rotate(162 68.54 402.32)" fill="#6a4a98" opacity="0.88"/>
<ellipse cx="81.21" cy="412.53" rx="1.49" ry="0.47" transform="rotate(74 81.21 412.53)" fill="#4a2a80" opacity="0.87"/>
<ellipse cx="74.67" cy="409.31" rx="0.92" ry="0.63" transform="rotate(119 74.67 409.31)" fill="#4a2a80" opacity="0.87"/>
<ellipse cx="83.00" cy="415.18" rx="1.44" ry="0.41" transform="rotate(121 83.00 415.18)" fill="#6a4a98" opacity="0.88"/>
<ellipse cx="66.42" cy="411.22" rx="0.81" ry="0.58" transform="rotate(168 66.42 411.22)" fill="#3a2070" opacity="0.88"/>
<ellipse cx="68.92" cy="416.29" rx="1.17" ry="0.70" transform="rotate(65 68.92 416.29)" fill="#6a4a98" opacity="0.97"/>
<ellipse cx="77.40" cy="409.70" rx="1.50" ry="0.65" transform="rotate(3 77.40 409.70)" fill="#4a2a80" opacity="0.96"/>
<ellipse cx="68.78" cy="401.59" rx="0.78" ry="0.45" transform="rotate(22 68.78 401.59)" fill="#3a2070" opacity="0.92"/>
<ellipse cx="73.63" cy="416.09" rx="1.18" ry="0.66" transform="rotate(73 73.63 416.09)" fill="#6a4a98" opacity="0.98"/>
<ellipse cx="72.26" cy="412.83" rx="1.27" ry="0.68" transform="rotate(83 72.26 412.83)" fill="#4a2a80" opacity="1.00"/>
<ellipse cx="67.95" cy="405.24" rx="0.96" ry="0.62" transform="rotate(120 67.95 405.24)" fill="#3a2070" opacity="0.98"/>
</g>
<rect x="64.90" y="400.90" width="18.80" height="18.40" fill="none" stroke="#3a3a3a" stroke-width="1.3" />
<clipPath id="th301"><rect x="84.30" y="400.30" width="20.60" height="19.60"/></clipPath><g clip-path="url(#th301)">
<rect x="84.30" y="400.30" width="20.60" height="19.60" fill="#faf4fa" stroke="none" stroke-width="1" />
<ellipse cx="92.76" cy="415.25" rx="1.09" ry="0.68" transform="rotate(42 92.76 415.25)" fill="#2e1a60" opacity="0.87"/>
<ellipse cx="102.14" cy="410.47" rx="0.80" ry="0.83" transform="rotate(179 102.14 410.47)" fill="#2e1a60" opacity="0.86"/>
<ellipse cx="97.62" cy="414.30" rx="0.93" ry="0.72" transform="rotate(58 97.62 414.30)" fill="#6a4a98" opacity="0.88"/>
<ellipse cx="98.93" cy="409.37" rx="1.46" ry="0.81" transform="rotate(3 98.93 409.37)" fill="#3a2070" opacity="0.97"/>
<ellipse cx="90.67" cy="418.09" rx="0.83" ry="0.88" transform="rotate(107 90.67 418.09)" fill="#3a2070" opacity="0.98"/>
<ellipse cx="96.78" cy="402.14" rx="0.98" ry="0.66" transform="rotate(6 96.78 402.14)" fill="#2e1a60" opacity="0.96"/>
<ellipse cx="103.15" cy="414.69" rx="1.25" ry="0.84" transform="rotate(145 103.15 414.69)" fill="#2e1a60" opacity="0.99"/>
<ellipse cx="99.16" cy="411.28" rx="1.16" ry="0.61" transform="rotate(163 99.16 411.28)" fill="#2e1a60" opacity="0.95"/>
<ellipse cx="101.78" cy="404.18" rx="1.02" ry="0.81" transform="rotate(165 101.78 404.18)" fill="#3a2070" opacity="0.92"/>
<ellipse cx="87.46" cy="411.80" rx="0.88" ry="0.62" transform="rotate(142 87.46 411.80)" fill="#2e1a60" opacity="0.85"/>
<ellipse cx="100.11" cy="408.54" rx="0.97" ry="0.78" transform="rotate(26 100.11 408.54)" fill="#2e1a60" opacity="0.87"/>
<ellipse cx="92.01" cy="406.95" rx="0.83" ry="0.55" transform="rotate(125 92.01 406.95)" fill="#4a2a80" opacity="0.91"/>
<ellipse cx="100.49" cy="410.59" rx="0.78" ry="0.74" transform="rotate(24 100.49 410.59)" fill="#3a2070" opacity="0.93"/>
<ellipse cx="95.27" cy="405.67" rx="0.92" ry="0.67" transform="rotate(135 95.27 405.67)" fill="#2e1a60" opacity="0.91"/>
<ellipse cx="91.72" cy="412.47" rx="1.08" ry="0.64" transform="rotate(142 91.72 412.47)" fill="#6a4a98" opacity="0.97"/>
<ellipse cx="87.23" cy="409.45" rx="0.74" ry="0.54" transform="rotate(141 87.23 409.45)" fill="#2e1a60" opacity="0.94"/>
<ellipse cx="94.67" cy="402.12" rx="0.89" ry="0.62" transform="rotate(110 94.67 402.12)" fill="#6a4a98" opacity="0.98"/>
<ellipse cx="92.79" cy="413.14" rx="0.72" ry="0.54" transform="rotate(133 92.79 413.14)" fill="#2e1a60" opacity="0.87"/>
<ellipse cx="95.96" cy="414.48" rx="1.27" ry="0.62" transform="rotate(172 95.96 414.48)" fill="#4a2a80" opacity="0.90"/>
<ellipse cx="97.73" cy="404.54" rx="1.29" ry="0.59" transform="rotate(18 97.73 404.54)" fill="#3a2070" opacity="0.93"/>
<ellipse cx="101.55" cy="404.32" rx="1.08" ry="0.58" transform="rotate(126 101.55 404.32)" fill="#4a2a80" opacity="0.89"/>
<ellipse cx="96.75" cy="405.32" rx="1.02" ry="0.88" transform="rotate(164 96.75 405.32)" fill="#2e1a60" opacity="0.97"/>
<ellipse cx="100.56" cy="412.76" rx="1.10" ry="0.51" transform="rotate(93 100.56 412.76)" fill="#2e1a60" opacity="0.85"/>
<ellipse cx="99.86" cy="406.73" rx="0.96" ry="0.73" transform="rotate(109 99.86 406.73)" fill="#4a2a80" opacity="0.98"/>
<ellipse cx="103.00" cy="404.49" rx="1.49" ry="0.63" transform="rotate(76 103.00 404.49)" fill="#2e1a60" opacity="0.93"/>
<ellipse cx="96.22" cy="401.77" rx="1.09" ry="0.90" transform="rotate(175 96.22 401.77)" fill="#3a2070" opacity="0.95"/>
<ellipse cx="102.12" cy="410.66" rx="1.10" ry="0.58" transform="rotate(164 102.12 410.66)" fill="#2e1a60" opacity="0.93"/>
<ellipse cx="95.48" cy="413.11" rx="0.80" ry="0.87" transform="rotate(70 95.48 413.11)" fill="#2e1a60" opacity="0.99"/>
<ellipse cx="91.01" cy="403.22" rx="1.41" ry="0.81" transform="rotate(178 91.01 403.22)" fill="#2e1a60" opacity="0.98"/>
<ellipse cx="98.18" cy="407.66" rx="0.93" ry="0.53" transform="rotate(137 98.18 407.66)" fill="#3a2070" opacity="0.93"/>
<ellipse cx="97.64" cy="410.08" rx="1.43" ry="0.58" transform="rotate(68 97.64 410.08)" fill="#3a2070" opacity="0.87"/>
<ellipse cx="98.43" cy="408.29" rx="1.30" ry="0.63" transform="rotate(53 98.43 408.29)" fill="#4a2a80" opacity="0.95"/>
<ellipse cx="103.61" cy="401.78" rx="1.14" ry="0.70" transform="rotate(132 103.61 401.78)" fill="#2e1a60" opacity="0.94"/>
<ellipse cx="99.19" cy="404.62" rx="1.19" ry="0.83" transform="rotate(165 99.19 404.62)" fill="#6a4a98" opacity="0.94"/>
<ellipse cx="94.67" cy="405.09" rx="0.89" ry="0.59" transform="rotate(55 94.67 405.09)" fill="#6a4a98" opacity="0.94"/>
<ellipse cx="86.70" cy="417.31" rx="0.90" ry="0.50" transform="rotate(46 86.70 417.31)" fill="#6a4a98" opacity="0.96"/>
<ellipse cx="101.89" cy="416.48" rx="1.48" ry="0.78" transform="rotate(79 101.89 416.48)" fill="#2e1a60" opacity="0.85"/>
<ellipse cx="90.98" cy="412.65" rx="0.97" ry="0.52" transform="rotate(161 90.98 412.65)" fill="#3a2070" opacity="0.89"/>
<ellipse cx="87.01" cy="406.14" rx="1.17" ry="0.78" transform="rotate(179 87.01 406.14)" fill="#3a2070" opacity="0.93"/>
<ellipse cx="93.93" cy="412.29" rx="1.01" ry="0.56" transform="rotate(5 93.93 412.29)" fill="#6a4a98" opacity="0.99"/>
<ellipse cx="89.49" cy="416.50" rx="1.41" ry="0.69" transform="rotate(3 89.49 416.50)" fill="#4a2a80" opacity="0.97"/>
<ellipse cx="100.49" cy="412.65" rx="1.26" ry="0.55" transform="rotate(10 100.49 412.65)" fill="#4a2a80" opacity="0.95"/>
<ellipse cx="96.69" cy="413.33" rx="0.85" ry="0.81" transform="rotate(166 96.69 413.33)" fill="#2e1a60" opacity="0.86"/>
<ellipse cx="88.54" cy="416.45" rx="1.10" ry="0.83" transform="rotate(52 88.54 416.45)" fill="#2e1a60" opacity="0.94"/>
<ellipse cx="102.73" cy="410.97" rx="1.21" ry="0.85" transform="rotate(91 102.73 410.97)" fill="#3a2070" opacity="0.88"/>
<ellipse cx="97.51" cy="414.81" rx="0.81" ry="0.82" transform="rotate(106 97.51 414.81)" fill="#3a2070" opacity="0.90"/>
</g>
<rect x="84.90" y="400.90" width="19.40" height="18.40" fill="none" stroke="#3a3a3a" stroke-width="1.3" />
<clipPath id="th302"><rect x="104.90" y="400.30" width="20.50" height="19.60"/></clipPath><g clip-path="url(#th302)">
<rect x="104.90" y="400.30" width="20.50" height="19.60" fill="#faf4fa" stroke="none" stroke-width="1" />
<ellipse cx="123.57" cy="410.77" rx="1.14" ry="0.69" transform="rotate(34 123.57 410.77)" fill="#3a2070" opacity="0.91"/>
<ellipse cx="109.68" cy="418.47" rx="1.02" ry="0.81" transform="rotate(116 109.68 418.47)" fill="#3a2070" opacity="0.95"/>
<ellipse cx="116.65" cy="410.11" rx="0.74" ry="0.87" transform="rotate(14 116.65 410.11)" fill="#2e1a60" opacity="0.99"/>
<ellipse cx="112.93" cy="416.32" rx="0.93" ry="0.78" transform="rotate(149 112.93 416.32)" fill="#6a4a98" opacity="0.96"/>
<ellipse cx="111.34" cy="403.90" rx="0.75" ry="0.62" transform="rotate(75 111.34 403.90)" fill="#4a2a80" opacity="0.98"/>
<ellipse cx="115.99" cy="414.65" rx="1.20" ry="0.60" transform="rotate(5 115.99 414.65)" fill="#3a2070" opacity="0.85"/>
<ellipse cx="114.66" cy="417.85" rx="1.12" ry="0.79" transform="rotate(29 114.66 417.85)" fill="#3a2070" opacity="0.92"/>
<ellipse cx="117.17" cy="416.30" rx="1.42" ry="0.55" transform="rotate(36 117.17 416.30)" fill="#3a2070" opacity="0.88"/>
<ellipse cx="117.19" cy="403.93" rx="1.09" ry="0.72" transform="rotate(45 117.19 403.93)" fill="#3a2070" opacity="0.95"/>
<ellipse cx="114.61" cy="407.70" rx="1.39" ry="0.62" transform="rotate(58 114.61 407.70)" fill="#2e1a60" opacity="0.91"/>
<ellipse cx="114.72" cy="412.98" rx="0.92" ry="0.62" transform="rotate(126 114.72 412.98)" fill="#6a4a98" opacity="0.95"/>
<ellipse cx="109.91" cy="414.95" rx="0.99" ry="0.84" transform="rotate(157 109.91 414.95)" fill="#4a2a80" opacity="0.92"/>
<ellipse cx="118.85" cy="413.09" rx="1.26" ry="0.60" transform="rotate(156 118.85 413.09)" fill="#2e1a60" opacity="0.99"/>
<ellipse cx="121.39" cy="405.46" rx="1.00" ry="0.69" transform="rotate(21 121.39 405.46)" fill="#6a4a98" opacity="0.87"/>
<ellipse cx="120.53" cy="402.47" rx="1.04" ry="0.84" transform="rotate(98 120.53 402.47)" fill="#2e1a60" opacity="0.93"/>
<ellipse cx="123.80" cy="401.73" rx="1.45" ry="0.71" transform="rotate(84 123.80 401.73)" fill="#4a2a80" opacity="0.90"/>
<ellipse cx="115.20" cy="416.65" rx="1.25" ry="0.87" transform="rotate(89 115.20 416.65)" fill="#4a2a80" opacity="0.89"/>
<ellipse cx="116.43" cy="406.50" rx="1.29" ry="0.52" transform="rotate(123 116.43 406.50)" fill="#3a2070" opacity="0.85"/>
<ellipse cx="118.93" cy="406.67" rx="1.49" ry="0.50" transform="rotate(127 118.93 406.67)" fill="#2e1a60" opacity="0.98"/>
<ellipse cx="121.36" cy="416.55" rx="1.28" ry="0.76" transform="rotate(132 121.36 416.55)" fill="#6a4a98" opacity="0.95"/>
<ellipse cx="113.37" cy="415.00" rx="1.08" ry="0.60" transform="rotate(37 113.37 415.00)" fill="#6a4a98" opacity="0.97"/>
<ellipse cx="112.46" cy="413.08" rx="1.48" ry="0.85" transform="rotate(136 112.46 413.08)" fill="#2e1a60" opacity="0.99"/>
<ellipse cx="123.44" cy="413.85" rx="1.37" ry="0.53" transform="rotate(160 123.44 413.85)" fill="#2e1a60" opacity="0.90"/>
<ellipse cx="115.97" cy="405.28" rx="1.25" ry="0.60" transform="rotate(122 115.97 405.28)" fill="#3a2070" opacity="0.95"/>
<ellipse cx="117.61" cy="407.79" rx="1.45" ry="0.66" transform="rotate(34 117.61 407.79)" fill="#6a4a98" opacity="0.88"/>
<ellipse cx="120.37" cy="402.57" rx="1.25" ry="0.55" transform="rotate(173 120.37 402.57)" fill="#3a2070" opacity="0.93"/>
<ellipse cx="117.63" cy="402.81" rx="0.95" ry="0.57" transform="rotate(45 117.63 402.81)" fill="#3a2070" opacity="0.93"/>
<ellipse cx="117.96" cy="406.52" rx="0.96" ry="0.56" transform="rotate(23 117.96 406.52)" fill="#2e1a60" opacity="0.86"/>
<ellipse cx="118.05" cy="408.73" rx="0.96" ry="0.68" transform="rotate(153 118.05 408.73)" fill="#6a4a98" opacity="0.94"/>
<ellipse cx="116.02" cy="406.76" rx="0.95" ry="0.77" transform="rotate(111 116.02 406.76)" fill="#4a2a80" opacity="0.95"/>
<ellipse cx="123.51" cy="413.37" rx="1.22" ry="0.85" transform="rotate(31 123.51 413.37)" fill="#6a4a98" opacity="0.90"/>
<ellipse cx="110.71" cy="403.67" rx="1.11" ry="0.60" transform="rotate(125 110.71 403.67)" fill="#2e1a60" opacity="0.96"/>
<ellipse cx="120.39" cy="409.20" rx="1.24" ry="0.66" transform="rotate(60 120.39 409.20)" fill="#4a2a80" opacity="0.93"/>
<ellipse cx="116.49" cy="402.54" rx="0.93" ry="0.63" transform="rotate(76 116.49 402.54)" fill="#6a4a98" opacity="0.89"/>
<ellipse cx="119.64" cy="417.29" rx="1.18" ry="0.54" transform="rotate(66 119.64 417.29)" fill="#6a4a98" opacity="0.88"/>
<ellipse cx="122.00" cy="403.72" rx="1.43" ry="0.80" transform="rotate(105 122.00 403.72)" fill="#6a4a98" opacity="0.98"/>
<ellipse cx="114.95" cy="417.18" rx="1.49" ry="0.55" transform="rotate(165 114.95 417.18)" fill="#2e1a60" opacity="0.98"/>
<ellipse cx="108.78" cy="415.59" rx="1.09" ry="0.78" transform="rotate(70 108.78 415.59)" fill="#3a2070" opacity="0.86"/>
<line x1="116.90" y1="416.30" x2="122.90" y2="416.30" stroke="#e03040" stroke-width="1.4" />
</g>
<rect x="105.50" y="400.90" width="19.30" height="18.40" fill="none" stroke="#3a3a3a" stroke-width="1.3" />
<clipPath id="th303"><rect x="132.30" y="400.30" width="19.70" height="19.60"/></clipPath><g clip-path="url(#th303)">
<rect x="132.30" y="400.30" width="19.70" height="19.60" fill="#ecdcec" stroke="none" stroke-width="1" />
<ellipse cx="134.80" cy="417.41" rx="1.14" ry="1.20" transform="rotate(170 134.80 417.41)" fill="#7a5aa8" opacity="0.94"/>
<ellipse cx="149.79" cy="404.76" rx="1.33" ry="0.99" transform="rotate(16 149.79 404.76)" fill="#9a7ab8" opacity="0.93"/>
<ellipse cx="145.07" cy="411.56" rx="1.09" ry="0.90" transform="rotate(89 145.07 411.56)" fill="#8a6ab0" opacity="0.97"/>
<ellipse cx="144.89" cy="406.67" rx="1.66" ry="0.81" transform="rotate(61 144.89 406.67)" fill="#8a6ab0" opacity="0.88"/>
<ellipse cx="138.91" cy="403.98" rx="1.17" ry="1.06" transform="rotate(94 138.91 403.98)" fill="#7a5aa8" opacity="0.93"/>
<ellipse cx="138.21" cy="414.83" rx="1.61" ry="0.71" transform="rotate(49 138.21 414.83)" fill="#7a5aa8" opacity="0.97"/>
<ellipse cx="145.15" cy="404.29" rx="1.59" ry="0.88" transform="rotate(116 145.15 404.29)" fill="#7a5aa8" opacity="0.88"/>
<ellipse cx="149.62" cy="404.49" rx="1.09" ry="1.03" transform="rotate(132 149.62 404.49)" fill="#9a7ab8" opacity="0.97"/>
<ellipse cx="141.91" cy="405.15" rx="1.65" ry="0.72" transform="rotate(170 141.91 405.15)" fill="#9a7ab8" opacity="0.99"/>
<ellipse cx="148.94" cy="417.32" rx="1.44" ry="1.05" transform="rotate(0 148.94 417.32)" fill="#7a5aa8" opacity="0.87"/>
</g>
<rect x="132.90" y="400.90" width="18.50" height="18.40" fill="none" stroke="#3a3a3a" stroke-width="1.3" />
<clipPath id="th304"><rect x="152.00" y="400.30" width="20.40" height="19.60"/></clipPath><g clip-path="url(#th304)">
<rect x="152.00" y="400.30" width="20.40" height="19.60" fill="#ecdcec" stroke="none" stroke-width="1" />
<rect x="152.00" y="400.30" width="20.40" height="19.60" fill="#c4aed8" stroke="none" stroke-width="1" />
<ellipse cx="155.61" cy="408.84" rx="2.39" ry="1.31" transform="rotate(42 155.61 408.84)" fill="#8a68c0" opacity="0.94"/>
<ellipse cx="157.61" cy="414.21" rx="2.58" ry="1.69" transform="rotate(9 157.61 414.21)" fill="#6a48a8" opacity="0.99"/>
<ellipse cx="154.76" cy="408.21" rx="1.46" ry="1.24" transform="rotate(102 154.76 408.21)" fill="#8a68c0" opacity="0.99"/>
<ellipse cx="158.77" cy="414.65" rx="1.84" ry="0.99" transform="rotate(48 158.77 414.65)" fill="#6a48a8" opacity="0.90"/>
<ellipse cx="165.52" cy="409.11" rx="2.15" ry="1.22" transform="rotate(38 165.52 409.11)" fill="#7a58b8" opacity="0.85"/>
<ellipse cx="168.92" cy="402.66" rx="2.23" ry="1.70" transform="rotate(0 168.92 402.66)" fill="#6a48a8" opacity="0.89"/>
<ellipse cx="170.84" cy="408.31" rx="1.72" ry="1.07" transform="rotate(33 170.84 408.31)" fill="#6a48a8" opacity="0.95"/>
<ellipse cx="158.17" cy="403.43" rx="2.47" ry="1.10" transform="rotate(39 158.17 403.43)" fill="#7a58b8" opacity="0.83"/>
<ellipse cx="169.43" cy="410.45" rx="1.24" ry="1.22" transform="rotate(73 169.43 410.45)" fill="#6a48a8" opacity="0.80"/>
<ellipse cx="161.76" cy="411.19" rx="1.96" ry="1.73" transform="rotate(8 161.76 411.19)" fill="#7a58b8" opacity="0.84"/>
<ellipse cx="169.87" cy="408.43" rx="2.03" ry="1.66" transform="rotate(118 169.87 408.43)" fill="#7a58b8" opacity="0.83"/>
<ellipse cx="158.15" cy="403.83" rx="1.58" ry="1.17" transform="rotate(74 158.15 403.83)" fill="#7a58b8" opacity="0.95"/>
<ellipse cx="167.75" cy="404.20" rx="2.31" ry="1.24" transform="rotate(164 167.75 404.20)" fill="#8a68c0" opacity="0.98"/>
<ellipse cx="170.61" cy="412.90" rx="1.38" ry="1.70" transform="rotate(100 170.61 412.90)" fill="#6a48a8" opacity="0.95"/>
<ellipse cx="160.36" cy="403.82" rx="2.32" ry="1.16" transform="rotate(19 160.36 403.82)" fill="#6a48a8" opacity="0.90"/>
<ellipse cx="170.66" cy="409.45" rx="2.55" ry="1.25" transform="rotate(79 170.66 409.45)" fill="#7a58b8" opacity="0.86"/>
<ellipse cx="165.28" cy="413.97" rx="2.46" ry="1.49" transform="rotate(157 165.28 413.97)" fill="#7a58b8" opacity="0.95"/>
<ellipse cx="161.68" cy="407.62" rx="2.28" ry="1.54" transform="rotate(31 161.68 407.62)" fill="#8a68c0" opacity="0.90"/>
<ellipse cx="170.81" cy="405.63" rx="1.78" ry="1.29" transform="rotate(145 170.81 405.63)" fill="#6a48a8" opacity="0.93"/>
<ellipse cx="154.27" cy="403.35" rx="2.04" ry="0.96" transform="rotate(74 154.27 403.35)" fill="#6a48a8" opacity="0.82"/>
<ellipse cx="162.69" cy="412.72" rx="1.40" ry="1.09" transform="rotate(102 162.69 412.72)" fill="#8a68c0" opacity="0.99"/>
<ellipse cx="169.74" cy="413.17" rx="2.17" ry="1.32" transform="rotate(51 169.74 413.17)" fill="#8a68c0" opacity="0.87"/>
<ellipse cx="156.41" cy="408.77" rx="2.30" ry="1.21" transform="rotate(9 156.41 408.77)" fill="#8a68c0" opacity="0.94"/>
<ellipse cx="164.36" cy="417.02" rx="1.38" ry="1.60" transform="rotate(117 164.36 417.02)" fill="#8a68c0" opacity="0.83"/>
<ellipse cx="170.14" cy="407.59" rx="1.91" ry="1.04" transform="rotate(99 170.14 407.59)" fill="#6a48a8" opacity="0.97"/>
<ellipse cx="155.75" cy="414.57" rx="1.47" ry="1.40" transform="rotate(31 155.75 414.57)" fill="#7a58b8" opacity="0.88"/>
<ellipse cx="159.42" cy="409.08" rx="1.69" ry="1.22" transform="rotate(81 159.42 409.08)" fill="#8a68c0" opacity="0.85"/>
<ellipse cx="167.34" cy="409.02" rx="1.94" ry="1.73" transform="rotate(11 167.34 409.02)" fill="#8a68c0" opacity="0.92"/>
<ellipse cx="165.14" cy="406.64" rx="2.03" ry="1.06" transform="rotate(40 165.14 406.64)" fill="#6a48a8" opacity="0.82"/>
<ellipse cx="169.98" cy="411.18" rx="1.68" ry="1.65" transform="rotate(142 169.98 411.18)" fill="#8a68c0" opacity="0.82"/>
<ellipse cx="162.91" cy="402.17" rx="0.92" ry="0.69" transform="rotate(22 162.91 402.17)" fill="#f4eaf6" opacity="1.00"/>
<ellipse cx="169.42" cy="418.62" rx="0.75" ry="0.77" transform="rotate(83 169.42 418.62)" fill="#f4eaf6" opacity="0.81"/>
<ellipse cx="167.26" cy="405.84" rx="0.82" ry="0.61" transform="rotate(78 167.26 405.84)" fill="#f4eaf6" opacity="0.98"/>
<ellipse cx="165.46" cy="403.33" rx="0.82" ry="0.55" transform="rotate(5 165.46 403.33)" fill="#f4eaf6" opacity="0.85"/>
<ellipse cx="157.20" cy="413.46" rx="0.97" ry="0.57" transform="rotate(15 157.20 413.46)" fill="#f4eaf6" opacity="0.87"/>
<ellipse cx="164.25" cy="416.38" rx="0.68" ry="0.59" transform="rotate(142 164.25 416.38)" fill="#f4eaf6" opacity="0.97"/>
<ellipse cx="163.46" cy="403.64" rx="0.95" ry="0.54" transform="rotate(45 163.46 403.64)" fill="#f4eaf6" opacity="0.86"/>
<ellipse cx="169.01" cy="417.21" rx="0.95" ry="0.75" transform="rotate(175 169.01 417.21)" fill="#f4eaf6" opacity="0.95"/>
<ellipse cx="155.86" cy="403.91" rx="0.84" ry="0.71" transform="rotate(55 155.86 403.91)" fill="#f4eaf6" opacity="0.94"/>
<ellipse cx="162.57" cy="417.61" rx="0.87" ry="0.52" transform="rotate(68 162.57 417.61)" fill="#f4eaf6" opacity="0.89"/>
<ellipse cx="157.96" cy="412.79" rx="0.98" ry="0.74" transform="rotate(135 157.96 412.79)" fill="#4a2a90" opacity="0.97"/>
<ellipse cx="154.49" cy="402.02" rx="0.77" ry="0.72" transform="rotate(1 154.49 402.02)" fill="#3a2080" opacity="0.87"/>
<ellipse cx="155.64" cy="407.87" rx="1.10" ry="0.78" transform="rotate(170 155.64 407.87)" fill="#4a2a90" opacity="1.00"/>
<ellipse cx="155.03" cy="411.30" rx="0.68" ry="0.81" transform="rotate(36 155.03 411.30)" fill="#3a2080" opacity="0.97"/>
<ellipse cx="157.33" cy="408.98" rx="1.03" ry="0.67" transform="rotate(110 157.33 408.98)" fill="#3a2080" opacity="0.98"/>
<ellipse cx="164.93" cy="410.11" rx="0.89" ry="0.62" transform="rotate(67 164.93 410.11)" fill="#4a2a90" opacity="0.97"/>
<ellipse cx="155.48" cy="405.37" rx="0.78" ry="0.60" transform="rotate(87 155.48 405.37)" fill="#3a2080" opacity="0.86"/>
<ellipse cx="154.06" cy="416.63" rx="0.90" ry="0.61" transform="rotate(154 154.06 416.63)" fill="#3a2080" opacity="1.00"/>
<ellipse cx="161.31" cy="412.07" rx="0.61" ry="0.65" transform="rotate(14 161.31 412.07)" fill="#3a2080" opacity="0.94"/>
<ellipse cx="159.42" cy="402.20" rx="1.07" ry="0.61" transform="rotate(111 159.42 402.20)" fill="#4a2a90" opacity="0.91"/>
<ellipse cx="161.07" cy="413.20" rx="1.17" ry="0.54" transform="rotate(166 161.07 413.20)" fill="#4a2a90" opacity="0.97"/>
<ellipse cx="166.23" cy="408.01" rx="0.69" ry="0.90" transform="rotate(179 166.23 408.01)" fill="#4a2a90" opacity="0.96"/>
<ellipse cx="158.55" cy="413.91" rx="0.66" ry="0.81" transform="rotate(99 158.55 413.91)" fill="#4a2a90" opacity="0.92"/>
<ellipse cx="167.74" cy="403.53" rx="1.04" ry="0.88" transform="rotate(49 167.74 403.53)" fill="#3a2080" opacity="0.97"/>
</g>
<rect x="152.60" y="400.90" width="19.20" height="18.40" fill="none" stroke="#3a3a3a" stroke-width="1.3" />
<clipPath id="th305"><rect x="172.40" y="400.30" width="20.60" height="19.60"/></clipPath><g clip-path="url(#th305)">
<rect x="172.40" y="400.30" width="20.60" height="19.60" fill="#ecdcec" stroke="none" stroke-width="1" />
<rect x="172.40" y="400.30" width="20.60" height="19.60" fill="#b8a0d8" stroke="none" stroke-width="1" />
<ellipse cx="176.92" cy="411.25" rx="2.41" ry="1.34" transform="rotate(31 176.92 411.25)" fill="#7a58b8" opacity="0.94"/>
<ellipse cx="176.96" cy="411.25" rx="2.51" ry="1.84" transform="rotate(148 176.96 411.25)" fill="#7a58b8" opacity="0.95"/>
<ellipse cx="191.33" cy="409.99" rx="1.82" ry="2.11" transform="rotate(48 191.33 409.99)" fill="#6a48b0" opacity="0.99"/>
<ellipse cx="183.87" cy="416.34" rx="1.45" ry="1.59" transform="rotate(51 183.87 416.34)" fill="#6a48b0" opacity="0.92"/>
<ellipse cx="176.44" cy="412.62" rx="2.29" ry="2.18" transform="rotate(113 176.44 412.62)" fill="#6a48b0" opacity="0.87"/>
<ellipse cx="182.60" cy="410.62" rx="1.57" ry="1.77" transform="rotate(103 182.60 410.62)" fill="#6a48b0" opacity="0.96"/>
<ellipse cx="187.33" cy="403.54" rx="2.31" ry="1.79" transform="rotate(87 187.33 403.54)" fill="#6a48b0" opacity="0.87"/>
<ellipse cx="178.60" cy="418.13" rx="2.48" ry="1.71" transform="rotate(127 178.60 418.13)" fill="#6a48b0" opacity="0.96"/>
<ellipse cx="185.24" cy="407.03" rx="1.66" ry="1.12" transform="rotate(153 185.24 407.03)" fill="#5a3aa0" opacity="0.90"/>
<ellipse cx="190.61" cy="401.64" rx="2.28" ry="2.02" transform="rotate(129 190.61 401.64)" fill="#7a58b8" opacity="0.93"/>
<ellipse cx="189.63" cy="406.29" rx="2.79" ry="1.18" transform="rotate(167 189.63 406.29)" fill="#6a48b0" opacity="0.92"/>
<ellipse cx="185.80" cy="404.44" rx="1.96" ry="2.17" transform="rotate(29 185.80 404.44)" fill="#6a48b0" opacity="0.96"/>
<ellipse cx="180.84" cy="402.78" rx="1.78" ry="1.04" transform="rotate(29 180.84 402.78)" fill="#5a3aa0" opacity="0.97"/>
<ellipse cx="177.68" cy="408.22" rx="2.28" ry="1.83" transform="rotate(138 177.68 408.22)" fill="#6a48b0" opacity="0.86"/>
<ellipse cx="191.36" cy="414.48" rx="1.68" ry="1.84" transform="rotate(173 191.36 414.48)" fill="#7a58b8" opacity="0.88"/>
<ellipse cx="188.20" cy="403.45" rx="1.81" ry="2.01" transform="rotate(57 188.20 403.45)" fill="#5a3aa0" opacity="0.90"/>
<ellipse cx="175.14" cy="416.02" rx="1.72" ry="1.76" transform="rotate(177 175.14 416.02)" fill="#6a48b0" opacity="0.97"/>
<ellipse cx="185.29" cy="403.68" rx="1.45" ry="1.60" transform="rotate(10 185.29 403.68)" fill="#6a48b0" opacity="0.88"/>
<ellipse cx="182.02" cy="406.78" rx="2.54" ry="2.16" transform="rotate(73 182.02 406.78)" fill="#5a3aa0" opacity="0.87"/>
<ellipse cx="186.91" cy="415.17" rx="2.75" ry="1.21" transform="rotate(173 186.91 415.17)" fill="#5a3aa0" opacity="0.98"/>
<ellipse cx="182.20" cy="412.65" rx="1.52" ry="2.16" transform="rotate(8 182.20 412.65)" fill="#5a3aa0" opacity="0.94"/>
<ellipse cx="178.13" cy="417.82" rx="1.98" ry="2.00" transform="rotate(8 178.13 417.82)" fill="#6a48b0" opacity="0.86"/>
<ellipse cx="179.35" cy="407.70" rx="2.40" ry="1.11" transform="rotate(114 179.35 407.70)" fill="#5a3aa0" opacity="0.91"/>
<ellipse cx="174.98" cy="405.25" rx="1.79" ry="1.98" transform="rotate(124 174.98 405.25)" fill="#6a48b0" opacity="0.89"/>
<ellipse cx="184.92" cy="408.83" rx="2.79" ry="1.45" transform="rotate(38 184.92 408.83)" fill="#5a3aa0" opacity="0.97"/>
<ellipse cx="183.56" cy="406.82" rx="1.79" ry="1.85" transform="rotate(43 183.56 406.82)" fill="#6a48b0" opacity="0.96"/>
<path d="M2,14 Q6,12 9,14.5 Q12,16 15,13" stroke="#e890b8" stroke-width="1.6" fill="none" stroke-linecap="round" stroke-linejoin="round" transform="translate(172.40,400.30)"/>
<ellipse cx="184.70" cy="403.82" rx="0.98" ry="0.62" transform="rotate(122 184.70 403.82)" fill="#f4eaf6" opacity="0.98"/>
<ellipse cx="178.36" cy="417.86" rx="0.61" ry="0.55" transform="rotate(127 178.36 417.86)" fill="#f4eaf6" opacity="0.83"/>
<ellipse cx="176.33" cy="406.84" rx="0.92" ry="0.64" transform="rotate(124 176.33 406.84)" fill="#f4eaf6" opacity="0.99"/>
<ellipse cx="179.00" cy="408.62" rx="0.67" ry="0.66" transform="rotate(137 179.00 408.62)" fill="#f4eaf6" opacity="0.81"/>
<ellipse cx="178.67" cy="407.74" rx="0.78" ry="0.77" transform="rotate(35 178.67 407.74)" fill="#f4eaf6" opacity="0.85"/>
<ellipse cx="188.41" cy="416.02" rx="0.67" ry="0.72" transform="rotate(179 188.41 416.02)" fill="#f4eaf6" opacity="0.97"/>
<ellipse cx="183.19" cy="408.64" rx="1.13" ry="0.62" transform="rotate(64 183.19 408.64)" fill="#3a2080" opacity="0.92"/>
<ellipse cx="175.32" cy="416.69" rx="1.03" ry="0.81" transform="rotate(68 175.32 416.69)" fill="#3a2080" opacity="0.95"/>
<ellipse cx="178.79" cy="412.73" rx="0.90" ry="0.87" transform="rotate(153 178.79 412.73)" fill="#3a2080" opacity="0.94"/>
<ellipse cx="190.09" cy="403.25" rx="1.03" ry="0.89" transform="rotate(84 190.09 403.25)" fill="#3a2080" opacity="0.94"/>
<ellipse cx="187.78" cy="412.30" rx="0.98" ry="0.80" transform="rotate(55 187.78 412.30)" fill="#3a2080" opacity="0.96"/>
<ellipse cx="188.08" cy="402.14" rx="1.11" ry="0.77" transform="rotate(64 188.08 402.14)" fill="#3a2080" opacity="0.92"/>
<ellipse cx="180.47" cy="408.45" rx="1.12" ry="0.52" transform="rotate(70 180.47 408.45)" fill="#3a2080" opacity="0.86"/>
<ellipse cx="179.80" cy="408.07" rx="0.82" ry="0.70" transform="rotate(135 179.80 408.07)" fill="#3a2080" opacity="0.98"/>
<ellipse cx="182.84" cy="408.27" rx="1.05" ry="0.75" transform="rotate(117 182.84 408.27)" fill="#3a2080" opacity="0.96"/>
<ellipse cx="181.36" cy="418.37" rx="1.10" ry="0.84" transform="rotate(70 181.36 418.37)" fill="#3a2080" opacity="1.00"/>
<line x1="183.40" y1="416.30" x2="190.40" y2="416.30" stroke="#e03040" stroke-width="1.4" />
</g>
<rect x="173.00" y="400.90" width="19.40" height="18.40" fill="none" stroke="#3a3a3a" stroke-width="1.3" />
<rect x="67.00" y="491.30" width="15.40" height="38.50" fill="#a3a3a8" stroke="none" stroke-width="1" />
<rect x="86.50" y="443.35" width="14.80" height="86.45" fill="#e9434a" stroke="none" stroke-width="1" />
<rect x="105.50" y="442.30" width="14.50" height="87.50" fill="#f3821f" stroke="none" stroke-width="1" />
<rect x="134.00" y="494.80" width="15.30" height="35.00" fill="#a3a3a8" stroke="none" stroke-width="1" />
<rect x="152.50" y="462.60" width="15.00" height="67.20" fill="#3a54a8" stroke="none" stroke-width="1" />
<rect x="171.80" y="462.60" width="15.20" height="67.20" fill="#6c9bd8" stroke="none" stroke-width="1" />
<line x1="74.70" y1="484.30" x2="74.70" y2="498.30" stroke="#111" stroke-width="1.4" />
<line x1="71.45" y1="484.30" x2="77.95" y2="484.30" stroke="#111" stroke-width="1.4" />
<line x1="71.45" y1="498.30" x2="77.95" y2="498.30" stroke="#111" stroke-width="1.4" />
<circle cx="72.70" cy="493.75" r="1.50" fill="#111" />
<circle cx="74.70" cy="490.60" r="1.50" fill="#111" />
<circle cx="76.70" cy="481.15" r="1.50" fill="#111" />
<line x1="93.90" y1="437.05" x2="93.90" y2="449.65" stroke="#111" stroke-width="1.4" />
<line x1="90.65" y1="437.05" x2="97.15" y2="437.05" stroke="#111" stroke-width="1.4" />
<line x1="90.65" y1="449.65" x2="97.15" y2="449.65" stroke="#111" stroke-width="1.4" />
<circle cx="91.90" cy="446.50" r="1.50" fill="#111" />
<circle cx="93.90" cy="443.70" r="1.50" fill="#111" />
<circle cx="95.90" cy="438.10" r="1.50" fill="#111" />
<line x1="112.75" y1="433.55" x2="112.75" y2="451.05" stroke="#111" stroke-width="1.4" />
<line x1="109.50" y1="433.55" x2="116.00" y2="433.55" stroke="#111" stroke-width="1.4" />
<line x1="109.50" y1="451.05" x2="116.00" y2="451.05" stroke="#111" stroke-width="1.4" />
<circle cx="110.75" cy="448.60" r="1.50" fill="#111" />
<circle cx="112.75" cy="441.60" r="1.50" fill="#111" />
<circle cx="114.75" cy="436.00" r="1.50" fill="#111" />
<line x1="141.65" y1="493.75" x2="141.65" y2="495.85" stroke="#111" stroke-width="1.4" />
<line x1="138.40" y1="493.75" x2="144.90" y2="493.75" stroke="#111" stroke-width="1.4" />
<line x1="138.40" y1="495.85" x2="144.90" y2="495.85" stroke="#111" stroke-width="1.4" />
<circle cx="139.65" cy="495.15" r="1.50" fill="#111" />
<circle cx="141.65" cy="494.45" r="1.50" fill="#111" />
<circle cx="143.65" cy="494.10" r="1.50" fill="#111" />
<line x1="160.00" y1="457.00" x2="160.00" y2="468.20" stroke="#111" stroke-width="1.4" />
<line x1="156.75" y1="457.00" x2="163.25" y2="457.00" stroke="#111" stroke-width="1.4" />
<line x1="156.75" y1="468.20" x2="163.25" y2="468.20" stroke="#111" stroke-width="1.4" />
<circle cx="158.00" cy="465.05" r="1.50" fill="#111" />
<circle cx="160.00" cy="461.55" r="1.50" fill="#111" />
<circle cx="162.00" cy="458.05" r="1.50" fill="#111" />
<line x1="179.40" y1="459.45" x2="179.40" y2="465.75" stroke="#111" stroke-width="1.4" />
<line x1="176.15" y1="459.45" x2="182.65" y2="459.45" stroke="#111" stroke-width="1.4" />
<line x1="176.15" y1="465.75" x2="182.65" y2="465.75" stroke="#111" stroke-width="1.4" />
<circle cx="177.40" cy="464.00" r="1.50" fill="#111" />
<circle cx="179.40" cy="461.90" r="1.50" fill="#111" />
<circle cx="181.40" cy="460.50" r="1.50" fill="#111" />
<text x="94.20" y="437.01" font-size="11.2" text-anchor="middle" font-weight="bold" fill="#111" stroke="#111" stroke-width="0.55" >****</text>
<text x="113.40" y="430.51" font-size="11.2" text-anchor="middle" font-weight="bold" fill="#111" stroke="#111" stroke-width="0.55" >***</text>
<text x="159.70" y="455.11" font-size="11.2" text-anchor="middle" font-weight="bold" fill="#111" stroke="#111" stroke-width="0.55" >***</text>
<text x="179.20" y="459.31" font-size="11.2" text-anchor="middle" font-weight="bold" fill="#111" stroke="#111" stroke-width="0.55" >****</text>
<line x1="63.50" y1="424.20" x2="63.50" y2="530.40" stroke="#111" stroke-width="1.3" />
<line x1="59.90" y1="424.80" x2="63.50" y2="424.80" stroke="#111" stroke-width="1.3" />
<text x="58.60" y="428.40" font-size="10" text-anchor="end" font-weight="normal" fill="#1e1e1e" stroke="#1e1e1e" stroke-width="0.28" >300</text>
<line x1="59.90" y1="459.80" x2="63.50" y2="459.80" stroke="#111" stroke-width="1.3" />
<text x="58.60" y="463.40" font-size="10" text-anchor="end" font-weight="normal" fill="#1e1e1e" stroke="#1e1e1e" stroke-width="0.28" >200</text>
<line x1="59.90" y1="494.80" x2="63.50" y2="494.80" stroke="#111" stroke-width="1.3" />
<text x="58.60" y="498.40" font-size="10" text-anchor="end" font-weight="normal" fill="#1e1e1e" stroke="#1e1e1e" stroke-width="0.28" >100</text>
<line x1="59.90" y1="529.80" x2="63.50" y2="529.80" stroke="#111" stroke-width="1.3" />
<text x="58.60" y="533.40" font-size="10" text-anchor="end" font-weight="normal" fill="#1e1e1e" stroke="#1e1e1e" stroke-width="0.28" >0</text>
<line x1="60.50" y1="529.80" x2="121.60" y2="529.80" stroke="#111" stroke-width="1.4" />
<line x1="129.90" y1="424.20" x2="129.90" y2="530.40" stroke="#111" stroke-width="1.3" />
<line x1="126.90" y1="424.80" x2="129.90" y2="424.80" stroke="#111" stroke-width="1.3" />
<line x1="126.90" y1="459.80" x2="129.90" y2="459.80" stroke="#111" stroke-width="1.3" />
<line x1="126.90" y1="494.80" x2="129.90" y2="494.80" stroke="#111" stroke-width="1.3" />
<line x1="126.90" y1="529.80" x2="129.90" y2="529.80" stroke="#111" stroke-width="1.3" />
<line x1="127.50" y1="529.80" x2="191.90" y2="529.80" stroke="#111" stroke-width="1.4" />
<line x1="74.60" y1="529.80" x2="74.60" y2="533.20" stroke="#111" stroke-width="1.3" />
<line x1="93.90" y1="529.80" x2="93.90" y2="533.20" stroke="#111" stroke-width="1.3" />
<line x1="112.70" y1="529.80" x2="112.70" y2="533.20" stroke="#111" stroke-width="1.3" />
<line x1="141.60" y1="529.80" x2="141.60" y2="533.20" stroke="#111" stroke-width="1.3" />
<line x1="160.00" y1="529.80" x2="160.00" y2="533.20" stroke="#111" stroke-width="1.3" />
<line x1="179.40" y1="529.80" x2="179.40" y2="533.20" stroke="#111" stroke-width="1.3" />
<text x="74.20" y="543.50" font-size="10.5" text-anchor="middle" font-weight="normal" fill="#1e1e1e" stroke="#1e1e1e" stroke-width="0.28" >PE</text>
<text x="95.70" y="543.50" font-size="10.5" text-anchor="middle" font-weight="normal" fill="#1e1e1e" stroke="#1e1e1e" stroke-width="0.28" >PP</text>
<text x="112.90" y="543.50" font-size="10.5" text-anchor="middle" font-weight="normal" fill="#1e1e1e" stroke="#1e1e1e" stroke-width="0.28" >PD</text>
<text x="142.30" y="543.50" font-size="10.5" text-anchor="middle" font-weight="normal" fill="#1e1e1e" stroke="#1e1e1e" stroke-width="0.28" >HE</text>
<text x="160.80" y="543.50" font-size="10.5" text-anchor="middle" font-weight="normal" fill="#1e1e1e" stroke="#1e1e1e" stroke-width="0.28" >HP</text>
<text x="178.80" y="543.50" font-size="10.5" text-anchor="middle" font-weight="normal" fill="#1e1e1e" stroke="#1e1e1e" stroke-width="0.28" >HD</text>
<text x="31.30" y="478.00" font-size="10.5" text-anchor="middle" font-weight="normal" fill="#1e1e1e" stroke="#1e1e1e" stroke-width="0.28" transform="rotate(-90 31.3 478.0)">Cell migration (%)</text>
<text x="261.90" y="432.30" font-size="10.5" text-anchor="middle" font-weight="normal" fill="#1e1e1e" stroke="#1e1e1e" stroke-width="0.28" >0 h</text>
<text x="294.60" y="432.30" font-size="10.5" text-anchor="middle" font-weight="normal" fill="#1e1e1e" stroke="#1e1e1e" stroke-width="0.28" >20 h</text>
<text x="367.00" y="432.30" font-size="10.5" text-anchor="middle" font-weight="normal" fill="#1e1e1e" stroke="#1e1e1e" stroke-width="0.28" >0 h</text>
<text x="399.40" y="432.30" font-size="10.5" text-anchor="middle" font-weight="normal" fill="#1e1e1e" stroke="#1e1e1e" stroke-width="0.28" >20 h</text>
<rect x="248.10" y="436.90" width="30.20" height="29.70" fill="#8a8a8a" stroke="none" stroke-width="1" />
<path d="M248.10,441.30 L249.99,441.11 L251.88,440.79 L253.76,440.69 L255.65,441.00 L257.54,440.85 L259.43,441.61 L261.31,441.15 L263.20,441.60 L265.09,441.36 L266.98,441.62 L268.86,441.35 L270.75,441.20 L272.64,441.68 L274.52,441.09 L276.41,440.96 L278.30,441.00" stroke="#e6d84a" stroke-width="1.35" fill="none" stroke-linejoin="round"/>
<path d="M248.10,461.30 L249.61,461.36 L251.12,460.81 L252.63,461.56 L254.14,461.00 L255.65,461.00 L257.16,461.17 L258.67,461.67 L260.18,461.60 L261.69,461.36 L263.20,462.14 L264.71,462.54 L266.22,462.30 L267.73,461.73 L269.24,462.09 L270.75,461.21 L272.26,460.80 L273.77,461.23 L275.28,460.96 L276.79,460.98 L278.30,461.20" stroke="#e6d84a" stroke-width="1.35" fill="none" stroke-linejoin="round"/>
<line x1="248.10" y1="441.10" x2="278.30" y2="441.10" stroke="#e8303a" stroke-width="2.1" stroke-dasharray="7.2 4.5"/>
<line x1="248.10" y1="461.10" x2="278.30" y2="461.10" stroke="#e8303a" stroke-width="2.1" stroke-dasharray="7.2 4.5"/>
<rect x="282.40" y="436.90" width="30.10" height="29.70" fill="#8a8a8a" stroke="none" stroke-width="1" />
<path d="M282.40,446.00 L283.65,446.10 L284.91,446.16 L286.16,446.77 L287.42,447.50 L288.67,447.66 L289.92,446.69 L291.18,446.18 L292.43,445.80 L293.69,446.46 L294.94,446.28 L296.20,446.90 L297.45,446.50 L298.70,445.75 L299.96,445.01 L301.21,445.28 L302.47,444.20 L303.72,444.12 L304.98,445.20 L306.23,445.29 L307.48,445.50 L308.74,446.33 L309.99,446.53 L311.25,446.44 L312.50,446.50" stroke="#e6d84a" stroke-width="1.35" fill="none" stroke-linejoin="round"/>
<path d="M282.40,452.50 L283.65,451.77 L284.91,451.58 L286.16,451.94 L287.42,451.80 L288.67,452.61 L289.92,452.15 L291.18,452.99 L292.43,453.50 L293.69,452.43 L294.94,452.12 L296.20,451.18 L297.45,451.20 L298.70,451.30 L299.96,451.83 L301.21,451.74 L302.47,452.40 L303.72,453.09 L304.98,452.57 L306.23,453.10 L307.48,453.80 L308.74,452.93 L309.99,452.53 L311.25,452.39 L312.50,451.50" stroke="#e6d84a" stroke-width="1.35" fill="none" stroke-linejoin="round"/>
<line x1="282.40" y1="441.10" x2="312.50" y2="441.10" stroke="#e8303a" stroke-width="2.1" stroke-dasharray="7.2 4.5"/>
<line x1="282.40" y1="461.10" x2="312.50" y2="461.10" stroke="#e8303a" stroke-width="2.1" stroke-dasharray="7.2 4.5"/>
<rect x="248.10" y="470.20" width="30.20" height="29.60" fill="#8a8a8a" stroke="none" stroke-width="1" />
<path d="M248.10,473.30 L249.61,472.70 L251.12,472.68 L252.63,472.53 L254.14,471.60 L255.65,471.81 L257.16,473.34 L258.67,473.67 L260.18,474.20 L261.69,474.70 L263.20,474.73 L264.71,474.69 L266.22,475.00 L267.73,474.17 L269.24,473.87 L270.75,473.56 L272.26,473.60 L273.77,473.56 L275.28,473.87 L276.79,474.30 L278.30,475.00" stroke="#e6d84a" stroke-width="1.35" fill="none" stroke-linejoin="round"/>
<path d="M248.10,492.50 L249.61,492.75 L251.12,493.17 L252.63,493.38 L254.14,493.20 L255.65,493.52 L257.16,492.54 L258.67,493.29 L260.18,492.80 L261.69,492.72 L263.20,492.89 L264.71,493.45 L266.22,494.00 L267.73,494.50 L269.24,494.26 L270.75,494.86 L272.26,495.60 L273.77,495.53 L275.28,496.09 L276.79,495.63 L278.30,495.80" stroke="#e6d84a" stroke-width="1.35" fill="none" stroke-linejoin="round"/>
<line x1="248.10" y1="474.90" x2="278.30" y2="474.90" stroke="#e8303a" stroke-width="2.1" stroke-dasharray="7.2 4.5"/>
<line x1="248.10" y1="493.80" x2="278.30" y2="493.80" stroke="#e8303a" stroke-width="2.1" stroke-dasharray="7.2 4.5"/>
<rect x="282.40" y="470.20" width="30.10" height="29.60" fill="#8a8a8a" stroke="none" stroke-width="1" />
<line x1="282.40" y1="474.90" x2="312.50" y2="474.90" stroke="#e8303a" stroke-width="2.1" stroke-dasharray="7.2 4.5"/>
<line x1="282.40" y1="493.80" x2="312.50" y2="493.80" stroke="#e8303a" stroke-width="2.1" stroke-dasharray="7.2 4.5"/>
<rect x="248.10" y="503.40" width="30.20" height="29.70" fill="#8a8a8a" stroke="none" stroke-width="1" />
<path d="M248.10,506.60 L249.61,506.35 L251.12,506.15 L252.63,505.66 L254.14,506.00 L255.65,506.56 L257.16,506.71 L258.67,506.57 L260.18,506.40 L261.69,506.08 L263.20,505.93 L264.71,505.57 L266.22,505.60 L267.73,506.09 L269.24,506.38 L270.75,506.27 L272.26,506.80 L273.77,507.10 L275.28,506.76 L276.79,506.01 L278.30,506.20" stroke="#e6d84a" stroke-width="1.35" fill="none" stroke-linejoin="round"/>
<path d="M248.10,527.50 L250.62,527.77 L253.13,527.51 L255.65,526.90 L258.17,527.10 L260.68,526.98 L263.20,527.65 L265.72,526.97 L268.23,527.60 L270.75,527.45 L273.27,528.01 L275.78,527.08 L278.30,527.30" stroke="#e6d84a" stroke-width="1.35" fill="none" stroke-linejoin="round"/>
<line x1="248.10" y1="508.70" x2="278.30" y2="508.70" stroke="#e8303a" stroke-width="2.1" stroke-dasharray="7.2 4.5"/>
<line x1="248.10" y1="527.30" x2="278.30" y2="527.30" stroke="#e8303a" stroke-width="2.1" stroke-dasharray="7.2 4.5"/>
<rect x="282.40" y="503.40" width="30.10" height="29.70" fill="#8a8a8a" stroke="none" stroke-width="1" />
<line x1="282.40" y1="508.70" x2="312.50" y2="508.70" stroke="#e8303a" stroke-width="2.1" stroke-dasharray="7.2 4.5"/>
<line x1="282.40" y1="527.30" x2="312.50" y2="527.30" stroke="#e8303a" stroke-width="2.1" stroke-dasharray="7.2 4.5"/>
<rect x="304.50" y="530.50" width="3.60" height="1.60" fill="#111" stroke="none" stroke-width="1" />
<rect x="353.10" y="437.20" width="29.80" height="29.10" fill="#8a8a8a" stroke="none" stroke-width="1" />
<path d="M353.10,439.60 L355.58,439.50 L358.07,439.89 L360.55,439.75 L363.03,439.20 L365.52,439.65 L368.00,439.44 L370.48,440.02 L372.97,439.60 L375.45,439.23 L377.93,439.91 L380.42,439.27 L382.90,439.30" stroke="#e6d84a" stroke-width="1.35" fill="none" stroke-linejoin="round"/>
<path d="M353.10,462.50 L354.59,462.96 L356.08,463.18 L357.57,463.06 L359.06,463.60 L360.55,463.61 L362.04,463.33 L363.53,463.58 L365.02,462.80 L366.51,463.35 L368.00,463.43 L369.49,463.71 L370.98,464.20 L372.47,464.36 L373.96,463.41 L375.45,463.50 L376.94,463.00 L378.43,462.98 L379.92,463.06 L381.41,461.88 L382.90,462.00" stroke="#e6d84a" stroke-width="1.35" fill="none" stroke-linejoin="round"/>
<line x1="353.10" y1="439.40" x2="382.90" y2="439.40" stroke="#e8303a" stroke-width="2.1" stroke-dasharray="7.2 4.5"/>
<line x1="353.10" y1="461.40" x2="382.90" y2="461.40" stroke="#e8303a" stroke-width="2.1" stroke-dasharray="7.2 4.5"/>
<rect x="387.30" y="437.20" width="29.30" height="29.10" fill="#8a8a8a" stroke="none" stroke-width="1" />
<path d="M387.30,448.50 L388.35,448.37 L389.39,447.46 L390.44,447.69 L391.49,447.20 L392.53,447.34 L393.58,447.39 L394.62,447.49 L395.67,447.00 L396.72,446.53 L397.76,447.13 L398.81,446.36 L399.86,446.40 L400.90,446.13 L401.95,445.63 L403.00,445.99 L404.04,445.80 L405.09,445.65 L406.14,446.47 L407.18,447.36 L408.23,447.60 L409.28,447.00 L410.32,445.40 L411.37,445.24 L412.41,444.00 L413.46,443.31 L414.51,442.40 L415.55,442.42 L416.60,441.50" stroke="#e6d84a" stroke-width="1.35" fill="none" stroke-linejoin="round"/>
<path d="M387.30,460.50 L388.35,460.21 L389.39,459.31 L390.44,458.81 L391.49,458.20 L392.53,458.69 L393.58,459.06 L394.62,459.57 L395.67,459.60 L396.72,458.82 L397.76,457.04 L398.81,455.72 L399.86,455.20 L400.90,454.88 L401.95,455.27 L403.00,455.75 L404.04,455.80 L405.09,456.50 L406.14,456.00 L407.18,456.09 L408.23,456.40 L409.28,456.49 L410.32,456.99 L411.37,456.58 L412.41,456.50 L413.46,456.58 L414.51,457.46 L415.55,458.07 L416.60,457.80" stroke="#e6d84a" stroke-width="1.35" fill="none" stroke-linejoin="round"/>
<line x1="387.30" y1="439.40" x2="416.60" y2="439.40" stroke="#e8303a" stroke-width="2.1" stroke-dasharray="7.2 4.5"/>
<line x1="387.30" y1="461.40" x2="416.60" y2="461.40" stroke="#e8303a" stroke-width="2.1" stroke-dasharray="7.2 4.5"/>
<rect x="353.10" y="470.20" width="29.80" height="29.50" fill="#8a8a8a" stroke="none" stroke-width="1" />
<path d="M353.10,474.50 L354.59,474.43 L356.08,473.53 L357.57,472.83 L359.06,472.80 L360.55,472.60 L362.04,472.05 L363.53,471.91 L365.02,472.20 L366.51,472.24 L368.00,472.82 L369.49,472.74 L370.98,472.60 L372.47,472.75 L373.96,473.65 L375.45,472.96 L376.94,473.60 L378.43,473.90 L379.92,474.53 L381.41,475.49 L382.90,476.00" stroke="#e6d84a" stroke-width="1.35" fill="none" stroke-linejoin="round"/>
<path d="M353.10,495.20 L354.59,495.77 L356.08,495.26 L357.57,495.89 L359.06,495.60 L360.55,496.27 L362.04,495.88 L363.53,496.52 L365.02,496.20 L366.51,496.87 L368.00,496.57 L369.49,496.40 L370.98,497.00 L372.47,496.09 L373.96,495.89 L375.45,495.75 L376.94,495.40 L378.43,494.72 L379.92,495.00 L381.41,495.09 L382.90,495.00" stroke="#e6d84a" stroke-width="1.35" fill="none" stroke-linejoin="round"/>
<line x1="353.10" y1="472.90" x2="382.90" y2="472.90" stroke="#e8303a" stroke-width="2.1" stroke-dasharray="7.2 4.5"/>
<line x1="353.10" y1="494.90" x2="382.90" y2="494.90" stroke="#e8303a" stroke-width="2.1" stroke-dasharray="7.2 4.5"/>
<rect x="387.30" y="470.20" width="29.30" height="29.50" fill="#8a8a8a" stroke="none" stroke-width="1" />
<line x1="387.30" y1="472.90" x2="416.60" y2="472.90" stroke="#e8303a" stroke-width="2.1" stroke-dasharray="7.2 4.5"/>
<line x1="387.30" y1="494.90" x2="416.60" y2="494.90" stroke="#e8303a" stroke-width="2.1" stroke-dasharray="7.2 4.5"/>
<rect x="353.10" y="503.70" width="29.80" height="29.70" fill="#8a8a8a" stroke="none" stroke-width="1" />
<path d="M353.10,507.80 L354.59,507.28 L356.08,507.43 L357.57,506.91 L359.06,506.50 L360.55,506.26 L362.04,506.11 L363.53,505.77 L365.02,505.40 L366.51,505.20 L368.00,504.80 L369.49,505.21 L370.98,505.00 L372.47,504.61 L373.96,504.74 L375.45,505.26 L376.94,505.60 L378.43,505.43 L379.92,506.21 L381.41,505.64 L382.90,506.20" stroke="#e6d84a" stroke-width="1.35" fill="none" stroke-linejoin="round"/>
<path d="M353.10,530.20 L354.96,529.95 L356.83,530.08 L358.69,529.58 L360.55,529.50 L362.41,530.14 L364.27,529.59 L366.14,529.93 L368.00,530.60 L369.86,530.48 L371.73,530.74 L373.59,531.12 L375.45,531.20 L377.31,530.54 L379.17,530.67 L381.04,530.54 L382.90,530.00" stroke="#e6d84a" stroke-width="1.35" fill="none" stroke-linejoin="round"/>
<line x1="353.10" y1="507.00" x2="382.90" y2="507.00" stroke="#e8303a" stroke-width="2.1" stroke-dasharray="7.2 4.5"/>
<line x1="353.10" y1="529.00" x2="382.90" y2="529.00" stroke="#e8303a" stroke-width="2.1" stroke-dasharray="7.2 4.5"/>
<rect x="387.30" y="503.70" width="29.30" height="29.70" fill="#8a8a8a" stroke="none" stroke-width="1" />
<line x1="387.30" y1="507.00" x2="416.60" y2="507.00" stroke="#e8303a" stroke-width="2.1" stroke-dasharray="7.2 4.5"/>
<line x1="387.30" y1="529.00" x2="416.60" y2="529.00" stroke="#e8303a" stroke-width="2.1" stroke-dasharray="7.2 4.5"/>
<rect x="408.60" y="530.80" width="3.60" height="1.60" fill="#111" stroke="none" stroke-width="1" />
<text x="229.30" y="454.60" font-size="10.5" text-anchor="start" font-weight="normal" fill="#1e1e1e" stroke="#1e1e1e" stroke-width="0.28" >PE</text>
<text x="229.30" y="488.00" font-size="10.5" text-anchor="start" font-weight="normal" fill="#1e1e1e" stroke="#1e1e1e" stroke-width="0.28" >PP</text>
<text x="229.30" y="523.40" font-size="10.5" text-anchor="start" font-weight="normal" fill="#1e1e1e" stroke="#1e1e1e" stroke-width="0.28" >PD</text>
<text x="334.40" y="454.60" font-size="10.5" text-anchor="start" font-weight="normal" fill="#1e1e1e" stroke="#1e1e1e" stroke-width="0.28" >HE</text>
<text x="334.40" y="488.60" font-size="10.5" text-anchor="start" font-weight="normal" fill="#1e1e1e" stroke="#1e1e1e" stroke-width="0.28" >HP</text>
<text x="334.40" y="522.80" font-size="10.5" text-anchor="start" font-weight="normal" fill="#1e1e1e" stroke="#1e1e1e" stroke-width="0.28" >HD</text></svg>

</body></html>
